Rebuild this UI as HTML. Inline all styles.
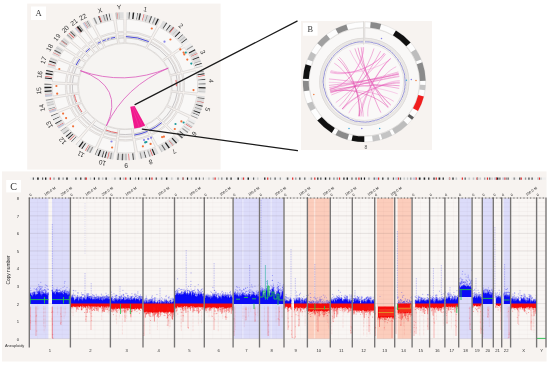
<!DOCTYPE html>
<html><head><meta charset="utf-8"><title>Figure</title>
<style>
html,body{margin:0;padding:0;background:#fff;}
body{width:550px;height:365px;overflow:hidden;position:relative;font-family:"Liberation Sans",sans-serif;}
svg{position:absolute;left:0;top:0;display:block;}
text{font-family:"Liberation Sans",sans-serif;}
.ser{font-family:"Liberation Serif",serif;}
</style></head><body>
<svg width="550" height="365" viewBox="0 0 550 365">
<rect x="0" y="0" width="550" height="365" fill="#ffffff"/>

<rect x="27.2" y="3.6" width="193.4" height="166" fill="#f7f3f0"/>
<rect x="301" y="21" width="131" height="129" fill="#f7f3f0"/>
<rect x="2" y="171.4" width="544.6" height="190.1" fill="#f7f3f0"/>
<g id="circA">
<rect x="31" y="6.5" width="15" height="13.5" fill="#ffffff"/>
<text x="38.6" y="16.3" font-size="8.6" text-anchor="middle" fill="#333" class="ser">A</text>
<path d="M126.27 19.31A72.8 66.9 0 0 1 157.05 26.13L151.28 36.94A59.7 54.86 0 0 0 126.04 31.34ZM159.31 27.19A72.8 66.9 0 0 1 182.86 45.6L172.45 52.9A59.7 54.86 0 0 0 153.14 37.81ZM184.37 47.48A72.8 66.9 0 0 1 195.18 68.42L182.55 71.62A59.7 54.86 0 0 0 173.68 54.44ZM195.81 70.68A72.8 66.9 0 0 1 197.42 93.02L184.39 91.8A59.7 54.86 0 0 0 183.07 73.48ZM197.12 95.34A72.8 66.9 0 0 1 190.38 115.62L178.62 110.33A59.7 54.86 0 0 0 184.14 93.7ZM189.23 117.7A72.8 66.9 0 0 1 176.18 133.78L166.97 125.22A59.7 54.86 0 0 0 177.67 112.03ZM174.34 135.39A72.8 66.9 0 0 1 157.63 146L151.76 135.24A59.7 54.86 0 0 0 165.46 126.54ZM155.34 147.02A72.8 66.9 0 0 1 137.49 152.11L135.24 140.25A59.7 54.86 0 0 0 149.88 136.07ZM134.98 152.47A72.8 66.9 0 0 1 116.94 152.69L118.39 140.73A59.7 54.86 0 0 0 133.18 140.55ZM114.42 152.39A72.8 66.9 0 0 1 97.72 148.23L102.63 137.07A59.7 54.86 0 0 0 116.33 140.48ZM95.38 147.31A72.8 66.9 0 0 1 80.56 139.19L88.56 129.66A59.7 54.86 0 0 0 100.71 136.32ZM78.58 137.74A72.8 66.9 0 0 1 66.77 126.36L77.25 119.13A59.7 54.86 0 0 0 86.93 128.46ZM65.28 124.47A72.8 66.9 0 0 1 58.13 112.64L70.16 107.88A59.7 54.86 0 0 0 76.03 117.58ZM57.16 110.48A72.8 66.9 0 0 1 53.41 98.35L66.29 96.16A59.7 54.86 0 0 0 69.37 106.11ZM52.99 96.04A72.8 66.9 0 0 1 52.24 84.02L65.33 84.41A59.7 54.86 0 0 0 65.95 94.27ZM52.37 81.69A72.8 66.9 0 0 1 54.06 71.17L66.83 73.88A59.7 54.86 0 0 0 65.44 82.5ZM54.67 68.91A72.8 66.9 0 0 1 58.07 59.88L70.11 64.62A59.7 54.86 0 0 0 67.33 72.02ZM59.11 57.75A72.8 66.9 0 0 1 63.97 49.73L74.95 56.29A59.7 54.86 0 0 0 70.97 62.87ZM65.39 47.79A72.8 66.9 0 0 1 70.05 42.31L79.94 50.21A59.7 54.86 0 0 0 76.12 54.7ZM71.75 40.58A72.8 66.9 0 0 1 77.57 35.45L86.1 44.58A59.7 54.86 0 0 0 81.33 48.79ZM79.52 33.96A72.8 66.9 0 0 1 84.49 30.61L91.78 40.61A59.7 54.86 0 0 0 87.71 43.36ZM86.63 29.35A72.8 66.9 0 0 1 92.36 26.4L98.23 37.16A59.7 54.86 0 0 0 93.53 39.58ZM94.65 25.39A72.8 66.9 0 0 1 113.63 20.12L115.67 32.01A59.7 54.86 0 0 0 100.11 36.33ZM116.14 19.79A72.8 66.9 0 0 1 123.73 19.31L123.96 31.34A59.7 54.86 0 0 0 117.74 31.74Z" fill="#f9f8f7" stroke="#d6d3d1" stroke-width="0.7"/>
<path d="M126.02 32.63A58.3 53.58 0 0 1 150.67 38.09L149.44 40.4A55.5 51 0 0 0 125.97 35.2ZM152.48 38.95A58.3 53.58 0 0 1 171.33 53.68L169.11 55.24A55.5 51 0 0 0 151.16 41.22ZM172.54 55.19A58.3 53.58 0 0 1 181.2 71.96L178.5 72.65A55.5 51 0 0 0 170.26 56.68ZM181.71 73.77A58.3 53.58 0 0 1 183 91.67L180.21 91.4A55.5 51 0 0 0 178.99 74.37ZM182.75 93.52A58.3 53.58 0 0 1 177.36 109.76L174.85 108.63A55.5 51 0 0 0 179.98 93.17ZM176.43 111.43A58.3 53.58 0 0 1 165.98 124.3L164.02 122.47A55.5 51 0 0 0 173.96 110.21ZM164.51 125.6A58.3 53.58 0 0 1 151.13 134.09L149.88 131.79A55.5 51 0 0 0 162.61 123.7ZM149.3 134.9A58.3 53.58 0 0 1 135 138.98L134.52 136.45A55.5 51 0 0 0 148.13 132.56ZM132.99 139.27A58.3 53.58 0 0 1 118.55 139.45L118.86 136.89A55.5 51 0 0 0 132.61 136.72ZM116.53 139.21A58.3 53.58 0 0 1 103.15 135.87L104.2 133.49A55.5 51 0 0 0 116.94 136.66ZM101.28 135.14A58.3 53.58 0 0 1 89.41 128.64L91.12 126.6A55.5 51 0 0 0 102.42 132.79ZM87.82 127.47A58.3 53.58 0 0 1 78.37 118.36L80.61 116.81A55.5 51 0 0 0 89.61 125.49ZM77.18 116.84A58.3 53.58 0 0 1 71.44 107.37L74.02 106.35A55.5 51 0 0 0 79.47 115.37ZM70.67 105.64A58.3 53.58 0 0 1 67.67 95.93L70.42 95.46A55.5 51 0 0 0 73.28 104.71ZM67.33 94.08A58.3 53.58 0 0 1 66.73 84.45L69.53 84.54A55.5 51 0 0 0 70.1 93.7ZM66.83 82.58A58.3 53.58 0 0 1 68.19 74.17L70.92 74.74A55.5 51 0 0 0 69.63 82.76ZM68.68 72.35A58.3 53.58 0 0 1 71.4 65.12L73.97 66.14A55.5 51 0 0 0 71.39 73.02ZM72.23 63.42A58.3 53.58 0 0 1 76.13 56.99L78.47 58.39A55.5 51 0 0 0 74.77 64.51ZM77.26 55.44A58.3 53.58 0 0 1 81 51.05L83.11 52.74A55.5 51 0 0 0 79.56 56.92ZM82.36 49.67A58.3 53.58 0 0 1 87.02 45.56L88.84 47.51A55.5 51 0 0 0 84.41 51.42ZM88.58 44.36A58.3 53.58 0 0 1 92.56 41.68L94.12 43.82A55.5 51 0 0 0 90.33 46.37ZM94.27 40.67A58.3 53.58 0 0 1 98.86 38.31L100.12 40.61A55.5 51 0 0 0 95.75 42.86ZM100.69 37.5A58.3 53.58 0 0 1 115.89 33.28L116.33 35.82A55.5 51 0 0 0 101.86 39.84ZM117.91 33.02A58.3 53.58 0 0 1 123.98 32.63L124.03 35.2A55.5 51 0 0 0 118.25 35.57Z" fill="#f7f6f5" stroke="#d2cfcd" stroke-width="0.7"/>
<path d="M125.95 36.03A54.6 50.18 0 0 1 149.04 41.15L145.78 47.25A47.2 43.38 0 0 0 125.82 42.83ZM150.74 41.95A54.6 50.18 0 0 1 168.39 55.75L162.51 59.87A47.2 43.38 0 0 0 147.25 47.94ZM169.52 57.16A54.6 50.18 0 0 1 177.64 72.87L170.5 74.67A47.2 43.38 0 0 0 163.49 61.09ZM178.11 74.56A54.6 50.18 0 0 1 179.32 91.32L171.95 90.62A47.2 43.38 0 0 0 170.91 76.14ZM179.09 93.06A54.6 50.18 0 0 1 174.04 108.27L167.39 105.27A47.2 43.38 0 0 0 171.76 92.13ZM173.17 109.82A54.6 50.18 0 0 1 163.38 121.89L158.18 117.05A47.2 43.38 0 0 0 166.64 106.62ZM162 123.1A54.6 50.18 0 0 1 149.48 131.05L146.16 124.97A47.2 43.38 0 0 0 156.99 118.09ZM147.76 131.81A54.6 50.18 0 0 1 134.37 135.63L133.1 128.93A47.2 43.38 0 0 0 144.67 125.63ZM132.48 135.9A54.6 50.18 0 0 1 118.96 136.07L119.78 129.31A47.2 43.38 0 0 0 131.47 129.17ZM117.07 135.84A54.6 50.18 0 0 1 104.54 132.72L107.31 126.42A47.2 43.38 0 0 0 118.14 129.12ZM102.78 132.04A54.6 50.18 0 0 1 91.67 125.95L96.19 120.56A47.2 43.38 0 0 0 105.79 125.82ZM90.18 124.85A54.6 50.18 0 0 1 81.33 116.32L87.25 112.24A47.2 43.38 0 0 0 94.9 119.61ZM80.21 114.9A54.6 50.18 0 0 1 74.84 106.03L81.64 103.34A47.2 43.38 0 0 0 86.28 111.01ZM74.12 104.41A54.6 50.18 0 0 1 71.31 95.31L78.58 94.08A47.2 43.38 0 0 0 81.02 101.94ZM70.99 93.58A54.6 50.18 0 0 1 70.43 84.56L77.83 84.79A47.2 43.38 0 0 0 78.31 92.58ZM70.52 82.81A54.6 50.18 0 0 1 71.8 74.93L79.01 76.46A47.2 43.38 0 0 0 77.91 83.27ZM72.26 73.23A54.6 50.18 0 0 1 74.8 66.46L81.61 69.14A47.2 43.38 0 0 0 79.4 74.99ZM75.58 64.86A54.6 50.18 0 0 1 79.23 58.84L85.43 62.55A47.2 43.38 0 0 0 82.28 67.76ZM80.29 57.39A54.6 50.18 0 0 1 83.79 53.29L89.37 57.75A47.2 43.38 0 0 0 86.35 61.3ZM85.06 51.98A54.6 50.18 0 0 1 89.43 48.13L94.25 53.29A47.2 43.38 0 0 0 90.48 56.62ZM90.89 47.02A54.6 50.18 0 0 1 94.62 44.51L98.74 50.16A47.2 43.38 0 0 0 95.52 52.33ZM96.22 43.56A54.6 50.18 0 0 1 100.52 41.35L103.84 47.43A47.2 43.38 0 0 0 100.12 49.34ZM102.24 40.59A54.6 50.18 0 0 1 116.47 36.64L117.63 43.36A47.2 43.38 0 0 0 105.32 46.77ZM118.36 36.4A54.6 50.18 0 0 1 124.05 36.03L124.18 42.83A47.2 43.38 0 0 0 119.26 43.15Z" fill="#f6f5f4" stroke="#d2cfcd" stroke-width="0.7"/>
<path d="M126.19 37.87A52.6 48.34 0 0 1 147.91 42.69M150.04 43.69A52.6 48.34 0 0 1 166.64 56.66M168.05 58.43A52.6 48.34 0 0 1 175.63 73.11M176.23 75.23A52.6 48.34 0 0 1 177.35 90.88M177.07 93.06A52.6 48.34 0 0 1 172.36 107.23M171.27 109.18A52.6 48.34 0 0 1 162.17 120.4M160.45 121.91A52.6 48.34 0 0 1 148.82 129.3M146.67 130.25A52.6 48.34 0 0 1 134.29 133.78M131.94 134.12A52.6 48.34 0 0 1 119.45 134.27M117.09 133.99A52.6 48.34 0 0 1 105.54 131.11M103.34 130.25A52.6 48.34 0 0 1 93.11 124.64M91.25 123.27A52.6 48.34 0 0 1 83.1 115.42M81.7 113.64A52.6 48.34 0 0 1 76.79 105.53M75.89 103.5A52.6 48.34 0 0 1 73.33 95.23M72.93 93.06A52.6 48.34 0 0 1 72.42 84.88M72.54 82.69A52.6 48.34 0 0 1 73.68 75.59M74.26 73.46A52.6 48.34 0 0 1 76.53 67.42M77.51 65.42A52.6 48.34 0 0 1 80.75 60.06M82.09 58.24A52.6 48.34 0 0 1 85.12 54.68M86.71 53.05A52.6 48.34 0 0 1 90.52 49.69M92.36 48.29A52.6 48.34 0 0 1 95.5 46.18M97.51 44.99A52.6 48.34 0 0 1 101.17 43.11M103.32 42.16A52.6 48.34 0 0 1 116.51 38.49M118.88 38.19A52.6 48.34 0 0 1 123.81 37.87" fill="none" stroke="#a8a4a8" stroke-width="0.6"/>
<ellipse cx="125" cy="86.2" rx="46.6" ry="42.83" fill="#f6f4f2" stroke="#dcd9d7" stroke-width="0.8"/>
<path d="M125.94 36.58A54 49.63 0 0 1 148.77 41.64M161.6 122.69A54 49.63 0 0 1 149.21 130.56M147.51 131.31A54 49.63 0 0 1 134.26 135.09M76.13 65.1A54 49.63 0 0 1 79.73 59.15M85.91 51.96A54 49.63 0 0 1 89.82 48.55M97.79 43.34A54 49.63 0 0 1 100.79 41.84M102.49 41.09A54 49.63 0 0 1 105.89 39.79M107.28 39.32A54 49.63 0 0 1 109.38 38.7M110.8 38.32A54 49.63 0 0 1 115.11 37.41" fill="none" stroke="#3a3ad8" stroke-width="0.9"/>
<path d="M117.53 132.94A51.4 47.24 0 0 1 105.74 129.99M81.96 112.03A51.4 47.24 0 0 1 77.78 104.87M76.59 102.09A51.4 47.24 0 0 1 74.45 94.78M175.94 79.93A51.4 47.24 0 0 1 176.4 86.26" fill="none" stroke="#e05a5a" stroke-width="0.9"/>
<path d="M126.41 12.14A80.6 74.07 0 0 1 129 12.22L128.65 18.74A73.5 67.55 0 0 0 126.28 18.66ZM137.86 13.08A80.6 74.07 0 0 1 139.76 13.38L138.46 19.8A73.5 67.55 0 0 0 136.72 19.52ZM144.16 14.25A80.6 74.07 0 0 1 147.01 14.94L145.07 21.22A73.5 67.55 0 0 0 142.47 20.59ZM147.68 15.12A80.6 74.07 0 0 1 151.01 16.09L148.72 22.27A73.5 67.55 0 0 0 145.68 21.38ZM155.64 17.69A80.6 74.07 0 0 1 157.72 18.51L154.84 24.47A73.5 67.55 0 0 0 152.94 23.73ZM158.81 18.96A80.6 74.07 0 0 1 160.49 19.69L157.36 25.55A73.5 67.55 0 0 0 155.83 24.88ZM162.99 20.87A80.6 74.07 0 0 1 166.26 22.57L162.62 28.17A73.5 67.55 0 0 0 159.64 26.63ZM170.59 25.12A80.6 74.07 0 0 1 173.24 26.86L168.99 32.09A73.5 67.55 0 0 0 166.57 30.5ZM173.82 27.27A80.6 74.07 0 0 1 173.98 27.38L169.67 32.56A73.5 67.55 0 0 0 169.52 32.46ZM174.26 27.57A80.6 74.07 0 0 1 176.93 29.55L172.36 34.54A73.5 67.55 0 0 0 169.92 32.74ZM177.56 30.04A80.6 74.07 0 0 1 179.52 31.65L174.72 36.45A73.5 67.55 0 0 0 172.93 34.99ZM183.02 34.79A80.6 74.07 0 0 1 184.62 36.35L179.37 40.75A73.5 67.55 0 0 0 177.91 39.32ZM185.48 37.23A80.6 74.07 0 0 1 186.72 38.57L181.29 42.76A73.5 67.55 0 0 0 180.15 41.55ZM195.43 50.18A80.6 74.07 0 0 1 196.32 51.7L190.04 54.74A73.5 67.55 0 0 0 189.22 53.35ZM197.42 53.68A80.6 74.07 0 0 1 198.98 56.81L192.47 59.4A73.5 67.55 0 0 0 191.04 56.54ZM199.3 57.5A80.6 74.07 0 0 1 200.68 60.71L194.01 62.95A73.5 67.55 0 0 0 192.76 60.03ZM203.94 71.24A80.6 74.07 0 0 1 204.39 73.42L197.4 74.55A73.5 67.55 0 0 0 196.99 72.56ZM205.56 88.39A80.6 74.07 0 0 1 205.39 91.61L198.3 91.13A73.5 67.55 0 0 0 198.47 88.2ZM204.84 96.32A80.6 74.07 0 0 1 204.52 98.26L197.52 97.2A73.5 67.55 0 0 0 197.81 95.43ZM204.38 99.04A80.6 74.07 0 0 1 203.69 102.24L196.75 100.83A73.5 67.55 0 0 0 197.39 97.91ZM203.57 102.72A80.6 74.07 0 0 1 202.69 105.93L195.84 104.19A73.5 67.55 0 0 0 196.65 101.26ZM202.49 106.59A80.6 74.07 0 0 1 201.66 109.07L194.91 107.05A73.5 67.55 0 0 0 195.66 104.79ZM201.39 109.83A80.6 74.07 0 0 1 200.3 112.62L193.67 110.29A73.5 67.55 0 0 0 194.66 107.75ZM199.98 113.36A80.6 74.07 0 0 1 199.17 115.2L192.63 112.65A73.5 67.55 0 0 0 193.38 110.97ZM191.97 127.41A80.6 74.07 0 0 1 191.71 127.76L185.84 124.1A73.5 67.55 0 0 0 186.07 123.78ZM184.61 136.05A80.6 74.07 0 0 1 182.99 137.65L177.88 133.11A73.5 67.55 0 0 0 179.36 131.66ZM182 138.57A80.6 74.07 0 0 1 181.66 138.88L176.67 134.24A73.5 67.55 0 0 0 176.98 133.95ZM179.63 140.66A80.6 74.07 0 0 1 177.03 142.77L172.44 137.79A73.5 67.55 0 0 0 174.81 135.87ZM176.13 143.46A80.6 74.07 0 0 1 174.22 144.85L169.89 139.69A73.5 67.55 0 0 0 171.62 138.42ZM173.3 145.5A80.6 74.07 0 0 1 173.2 145.56L168.96 140.33A73.5 67.55 0 0 0 169.05 140.27ZM172.92 145.76A80.6 74.07 0 0 1 169.86 147.74L165.91 142.32A73.5 67.55 0 0 0 168.7 140.51ZM168.81 148.37A80.6 74.07 0 0 1 165.73 150.12L162.14 144.49A73.5 67.55 0 0 0 164.95 142.9ZM164.85 150.58A80.6 74.07 0 0 1 162.41 151.81L159.12 146.03A73.5 67.55 0 0 0 161.34 144.91ZM158.59 153.53A80.6 74.07 0 0 1 155.23 154.87L152.56 148.82A73.5 67.55 0 0 0 155.63 147.6ZM154.24 155.23A80.6 74.07 0 0 1 152.75 155.74L150.3 149.62A73.5 67.55 0 0 0 151.66 149.14ZM152.41 155.86A80.6 74.07 0 0 1 150.36 156.51L148.13 150.32A73.5 67.55 0 0 0 150 149.72ZM145.47 157.84A80.6 74.07 0 0 1 142.01 158.6L140.51 152.23A73.5 67.55 0 0 0 143.67 151.53ZM136.05 159.57A80.6 74.07 0 0 1 134.01 159.81L133.22 153.32A73.5 67.55 0 0 0 135.07 153.11ZM125.66 160.27A80.6 74.07 0 0 1 122.97 160.25L123.15 153.73A73.5 67.55 0 0 0 125.6 153.74ZM121.73 160.21A80.6 74.07 0 0 1 118.36 160.02L118.94 153.52A73.5 67.55 0 0 0 122.02 153.69ZM117.34 159.94A80.6 74.07 0 0 1 116.08 159.82L116.87 153.33A73.5 67.55 0 0 0 118.01 153.44ZM113.29 159.49A80.6 74.07 0 0 1 110.88 159.13L112.12 152.7A73.5 67.55 0 0 0 114.32 153.03ZM109.69 158.92A80.6 74.07 0 0 1 107.82 158.57L109.34 152.19A73.5 67.55 0 0 0 111.04 152.52ZM107.48 158.5A80.6 74.07 0 0 1 105.23 158.01L106.97 151.68A73.5 67.55 0 0 0 109.02 152.13ZM101.65 157.09A80.6 74.07 0 0 1 98.78 156.24L101.09 150.07A73.5 67.55 0 0 0 103.7 150.85ZM97.67 155.88A80.6 74.07 0 0 1 95.24 155.04L97.86 148.97A73.5 67.55 0 0 0 100.07 149.74ZM89.08 152.51A80.6 74.07 0 0 1 87.41 151.72L90.72 145.95A73.5 67.55 0 0 0 92.25 146.67ZM81.39 148.49A80.6 74.07 0 0 1 79.58 147.39L83.58 142A73.5 67.55 0 0 0 85.23 143ZM69.64 140.04A80.6 74.07 0 0 1 68.34 138.88L73.33 134.24A73.5 67.55 0 0 0 74.52 135.3ZM67.81 138.39A80.6 74.07 0 0 1 66.38 137.04L71.55 132.56A73.5 67.55 0 0 0 72.85 133.8ZM63.06 133.6A80.6 74.07 0 0 1 60.75 130.92L66.41 126.98A73.5 67.55 0 0 0 68.52 129.42ZM57.35 126.47A80.6 74.07 0 0 1 55.6 123.87L61.71 120.55A73.5 67.55 0 0 0 63.31 122.92ZM48.95 110.74A80.6 74.07 0 0 1 48.42 109.3L55.16 107.26A73.5 67.55 0 0 0 55.65 108.58ZM47.13 105.31A80.6 74.07 0 0 1 46.62 103.45L53.52 101.93A73.5 67.55 0 0 0 53.99 103.63ZM44.9 94.45A80.6 74.07 0 0 1 44.65 92.04L51.73 91.53A73.5 67.55 0 0 0 51.96 93.72ZM44.55 90.72A80.6 74.07 0 0 1 44.43 88.09L51.52 87.93A73.5 67.55 0 0 0 51.64 90.32ZM45.72 72.87A80.6 74.07 0 0 1 46.14 70.88L53.09 72.23A73.5 67.55 0 0 0 52.7 74.04ZM46.32 70.15A80.6 74.07 0 0 1 46.46 69.56L53.38 71.03A73.5 67.55 0 0 0 53.25 71.56ZM47.14 67.05A80.6 74.07 0 0 1 47.94 64.48L54.73 66.39A73.5 67.55 0 0 0 54 68.74ZM48.15 63.86A80.6 74.07 0 0 1 49.02 61.49L55.71 63.66A73.5 67.55 0 0 0 54.92 65.83ZM49.39 60.54A80.6 74.07 0 0 1 50.07 58.91L56.67 61.32A73.5 67.55 0 0 0 56.05 62.8ZM50.53 57.87A80.6 74.07 0 0 1 50.9 57.06L57.43 59.63A73.5 67.55 0 0 0 57.09 60.36ZM52.05 54.7A80.6 74.07 0 0 1 53.06 52.81L59.39 55.75A73.5 67.55 0 0 0 58.48 57.48ZM53.22 52.52A80.6 74.07 0 0 1 54.24 50.73L60.48 53.85A73.5 67.55 0 0 0 59.54 55.48ZM54.76 49.88A80.6 74.07 0 0 1 56.04 47.85L62.12 51.23A73.5 67.55 0 0 0 60.95 53.07ZM56.61 47A80.6 74.07 0 0 1 57.43 45.82L63.38 49.38A73.5 67.55 0 0 0 62.64 50.45ZM59.83 42.62A80.6 74.07 0 0 1 61.1 41.05L66.73 45.03A73.5 67.55 0 0 0 65.57 46.46ZM61.98 40.02A80.6 74.07 0 0 1 62.92 38.96L68.38 43.12A73.5 67.55 0 0 0 67.53 44.09ZM63.33 38.51A80.6 74.07 0 0 1 64.16 37.61L69.52 41.89A73.5 67.55 0 0 0 68.76 42.71ZM66.05 35.69A80.6 74.07 0 0 1 66.87 34.89L71.99 39.41A73.5 67.55 0 0 0 71.24 40.14ZM67.42 34.37A80.6 74.07 0 0 1 68.62 33.27L73.59 37.93A73.5 67.55 0 0 0 72.49 38.94ZM68.98 32.95A80.6 74.07 0 0 1 70.11 31.96L74.94 36.74A73.5 67.55 0 0 0 73.91 37.64ZM70.89 31.3A80.6 74.07 0 0 1 71.68 30.65L76.38 35.54A73.5 67.55 0 0 0 75.66 36.14ZM72.16 30.26A80.6 74.07 0 0 1 72.49 30.01L77.11 34.96A73.5 67.55 0 0 0 76.82 35.19ZM76.3 27.18A80.6 74.07 0 0 1 76.73 26.88L80.98 32.11A73.5 67.55 0 0 0 80.59 32.38ZM78.04 26A80.6 74.07 0 0 1 78.79 25.51L82.86 30.86A73.5 67.55 0 0 0 82.18 31.3ZM79.2 25.25A80.6 74.07 0 0 1 80.15 24.65L84.1 30.08A73.5 67.55 0 0 0 83.24 30.62ZM84.48 22.17A80.6 74.07 0 0 1 85.51 21.63L88.98 27.32A73.5 67.55 0 0 0 88.05 27.81ZM85.82 21.47A80.6 74.07 0 0 1 86.87 20.94L90.23 26.69A73.5 67.55 0 0 0 89.27 27.17ZM87.19 20.79A80.6 74.07 0 0 1 88.86 19.99L92.04 25.82A73.5 67.55 0 0 0 90.52 26.55ZM99.07 16.07A80.6 74.07 0 0 1 99.25 16.01L101.52 22.19A73.5 67.55 0 0 0 101.36 22.24ZM99.59 15.91A80.6 74.07 0 0 1 102.83 14.99L104.79 21.26A73.5 67.55 0 0 0 101.82 22.1ZM103.89 14.71A80.6 74.07 0 0 1 105.73 14.28L107.43 20.61A73.5 67.55 0 0 0 105.75 21.01ZM117.1 12.49A80.6 74.07 0 0 1 118.37 12.38L118.95 18.88A73.5 67.55 0 0 0 117.79 18.98ZM119.43 12.31A80.6 74.07 0 0 1 123.59 12.14L123.72 18.66A73.5 67.55 0 0 0 119.92 18.82Z" fill="#dedede"/>
<path d="M128.93 12.22A80.6 74.07 0 0 1 130.09 12.28L129.64 18.79A73.5 67.55 0 0 0 128.58 18.73ZM137.08 12.96A80.6 74.07 0 0 1 137.93 13.09L136.79 19.53A73.5 67.55 0 0 0 136.01 19.42ZM150.95 16.07A80.6 74.07 0 0 1 152.31 16.51L149.9 22.65A73.5 67.55 0 0 0 148.66 22.25ZM166.2 22.53A80.6 74.07 0 0 1 167.38 23.19L163.64 28.74A73.5 67.55 0 0 0 162.57 28.14ZM173.18 26.82A80.6 74.07 0 0 1 173.88 27.3L169.57 32.49A73.5 67.55 0 0 0 168.94 32.05ZM182.33 34.13A80.6 74.07 0 0 1 183.07 34.83L177.96 39.36A73.5 67.55 0 0 0 177.28 38.72ZM203.79 70.59A80.6 74.07 0 0 1 203.95 71.3L197 72.61A73.5 67.55 0 0 0 196.85 71.97ZM205.19 78.76A80.6 74.07 0 0 1 205.31 79.97L198.24 80.52A73.5 67.55 0 0 0 198.13 79.42ZM204.54 98.2A80.6 74.07 0 0 1 204.37 99.1L197.38 97.97A73.5 67.55 0 0 0 197.53 97.14ZM199.19 115.14A80.6 74.07 0 0 1 198.83 115.92L192.32 113.31A73.5 67.55 0 0 0 192.66 112.59ZM185.54 135.1A80.6 74.07 0 0 1 184.57 136.1L179.32 131.7A73.5 67.55 0 0 0 180.2 130.8ZM183.04 137.6A80.6 74.07 0 0 1 181.95 138.61L176.94 134A73.5 67.55 0 0 0 177.92 133.07ZM165.79 150.09A80.6 74.07 0 0 1 164.79 150.62L161.29 144.94A73.5 67.55 0 0 0 162.2 144.46ZM146.58 157.57A80.6 74.07 0 0 1 145.4 157.86L143.6 151.55A73.5 67.55 0 0 0 144.68 151.28ZM134.08 159.8A80.6 74.07 0 0 1 132.62 159.94L131.95 153.44A73.5 67.55 0 0 0 133.28 153.32ZM123.04 160.25A80.6 74.07 0 0 1 121.66 160.21L121.95 153.69A73.5 67.55 0 0 0 123.21 153.73ZM118.43 160.02A80.6 74.07 0 0 1 117.27 159.93L117.95 153.44A73.5 67.55 0 0 0 119.01 153.52ZM102.79 157.4A80.6 74.07 0 0 1 101.58 157.08L103.64 150.83A73.5 67.55 0 0 0 104.75 151.13ZM95.3 155.06A80.6 74.07 0 0 1 94.79 154.87L97.45 148.82A73.5 67.55 0 0 0 97.92 148.99ZM76.04 145.04A80.6 74.07 0 0 1 75.8 144.87L80.14 139.7A73.5 67.55 0 0 0 80.36 139.86ZM71.86 141.89A80.6 74.07 0 0 1 71.03 141.21L75.78 136.36A73.5 67.55 0 0 0 76.54 136.98ZM60.79 130.97A80.6 74.07 0 0 1 60.53 130.66L66.21 126.74A73.5 67.55 0 0 0 66.45 127.03ZM53.44 120.28A80.6 74.07 0 0 1 52.88 119.27L59.23 116.35A73.5 67.55 0 0 0 59.74 117.28ZM51.39 116.38A80.6 74.07 0 0 1 50.96 115.47L57.48 112.89A73.5 67.55 0 0 0 57.88 113.72ZM48.44 109.36A80.6 74.07 0 0 1 48.19 108.65L54.96 106.67A73.5 67.55 0 0 0 55.18 107.32ZM54.21 50.78A80.6 74.07 0 0 1 54.79 49.82L60.98 53.02A73.5 67.55 0 0 0 60.45 53.9ZM70.06 32.01A80.6 74.07 0 0 1 70.94 31.26L75.71 36.1A73.5 67.55 0 0 0 74.9 36.78ZM78.74 25.55A80.6 74.07 0 0 1 79.26 25.21L83.29 30.58A73.5 67.55 0 0 0 82.81 30.89ZM86.81 20.97A80.6 74.07 0 0 1 87.25 20.76L90.57 26.52A73.5 67.55 0 0 0 90.17 26.72ZM97.82 16.47A80.6 74.07 0 0 1 99.14 16.04L101.42 22.22A73.5 67.55 0 0 0 100.21 22.61ZM105.66 14.29A80.6 74.07 0 0 1 106.94 14.01L108.53 20.37A73.5 67.55 0 0 0 107.37 20.63ZM108.43 13.71A80.6 74.07 0 0 1 109.67 13.48L111.02 19.89A73.5 67.55 0 0 0 109.89 20.1Z" fill="#5c5c5c"/>
<path d="M130.02 12.27A80.6 74.07 0 0 1 132.89 12.48L132.19 18.98A73.5 67.55 0 0 0 129.58 18.78ZM134.2 12.61A80.6 74.07 0 0 1 137.15 12.97L136.08 19.42A73.5 67.55 0 0 0 133.39 19.1ZM140.88 13.58A80.6 74.07 0 0 1 143.81 14.17L142.15 20.52A73.5 67.55 0 0 0 139.48 19.98ZM152.24 16.49A80.6 74.07 0 0 1 154.64 17.32L152.03 23.39A73.5 67.55 0 0 0 149.84 22.63ZM167.32 23.16A80.6 74.07 0 0 1 170.04 24.77L166.07 30.18A73.5 67.55 0 0 0 163.59 28.71ZM180.25 32.27A80.6 74.07 0 0 1 182.38 34.18L177.32 38.76A73.5 67.55 0 0 0 175.39 37.02ZM187.14 39.03A80.6 74.07 0 0 1 189.06 41.24L183.42 45.2A73.5 67.55 0 0 0 181.67 43.18ZM190.73 43.33A80.6 74.07 0 0 1 192.46 45.67L186.52 49.24A73.5 67.55 0 0 0 184.94 47.1ZM193.01 46.45A80.6 74.07 0 0 1 194.94 49.38L188.78 52.63A73.5 67.55 0 0 0 187.02 49.95ZM197 52.91A80.6 74.07 0 0 1 197.26 53.39L190.89 56.28A73.5 67.55 0 0 0 190.66 55.84ZM200.91 61.29A80.6 74.07 0 0 1 201.58 63.1L194.83 65.14A73.5 67.55 0 0 0 194.22 63.48ZM201.78 63.67A80.6 74.07 0 0 1 202.46 65.71L195.63 67.52A73.5 67.55 0 0 0 195.02 65.65ZM203.4 69.02A80.6 74.07 0 0 1 203.8 70.65L196.86 72.02A73.5 67.55 0 0 0 196.5 70.53ZM204.52 74.1A80.6 74.07 0 0 1 204.73 75.34L197.71 76.3A73.5 67.55 0 0 0 197.51 75.17ZM204.78 75.66A80.6 74.07 0 0 1 205.2 78.83L198.14 79.48A73.5 67.55 0 0 0 197.75 76.59ZM205.31 79.9A80.6 74.07 0 0 1 205.53 83.17L198.44 83.44A73.5 67.55 0 0 0 198.23 80.46ZM205.57 84.32A80.6 74.07 0 0 1 205.59 87.26L198.49 87.17A73.5 67.55 0 0 0 198.48 84.49ZM205.31 92.52A80.6 74.07 0 0 1 205.18 93.76L198.12 93.09A73.5 67.55 0 0 0 198.23 91.96ZM198.85 115.87A80.6 74.07 0 0 1 197.71 118.17L191.3 115.35A73.5 67.55 0 0 0 192.35 113.25ZM197.39 118.76A80.6 74.07 0 0 1 197.39 118.77L191.01 115.9A73.5 67.55 0 0 0 191.02 115.9ZM196.11 121.07A80.6 74.07 0 0 1 194.63 123.5L188.5 120.22A73.5 67.55 0 0 0 189.84 118ZM194.05 124.4A80.6 74.07 0 0 1 192.65 126.46L186.69 122.92A73.5 67.55 0 0 0 187.97 121.04ZM191.51 128.03A80.6 74.07 0 0 1 189.98 130.02L184.26 126.16A73.5 67.55 0 0 0 185.66 124.35ZM189.44 130.7A80.6 74.07 0 0 1 188.35 132L182.77 127.97A73.5 67.55 0 0 0 183.76 126.78ZM187.56 132.91A80.6 74.07 0 0 1 185.49 135.15L180.16 130.84A73.5 67.55 0 0 0 182.04 128.79ZM161.61 152.19A80.6 74.07 0 0 1 161.13 152.41L157.95 146.58A73.5 67.55 0 0 0 158.39 146.38ZM149.46 156.78A80.6 74.07 0 0 1 146.51 157.58L144.62 151.3A73.5 67.55 0 0 0 147.3 150.56ZM140.97 158.8A80.6 74.07 0 0 1 138.83 159.17L137.61 152.75A73.5 67.55 0 0 0 139.56 152.41ZM132.69 159.93A80.6 74.07 0 0 1 129.27 160.17L128.9 153.65A73.5 67.55 0 0 0 132.02 153.44ZM128.92 160.18A80.6 74.07 0 0 1 126.47 160.26L126.34 153.74A73.5 67.55 0 0 0 128.57 153.67ZM104.38 157.81A80.6 74.07 0 0 1 102.72 157.39L104.69 151.12A73.5 67.55 0 0 0 106.2 151.5ZM92.2 153.86A80.6 74.07 0 0 1 90.26 153.04L93.32 147.15A73.5 67.55 0 0 0 95.09 147.9ZM86.38 151.21A80.6 74.07 0 0 1 85.53 150.78L89.01 145.09A73.5 67.55 0 0 0 89.78 145.49ZM85.22 150.62A80.6 74.07 0 0 1 82.07 148.89L85.85 143.37A73.5 67.55 0 0 0 88.72 144.95ZM78.52 146.72A80.6 74.07 0 0 1 75.99 145L80.31 139.82A73.5 67.55 0 0 0 82.62 141.39ZM73.6 143.26A80.6 74.07 0 0 1 71.8 141.85L76.49 136.95A73.5 67.55 0 0 0 78.13 138.23ZM71.08 141.25A80.6 74.07 0 0 1 69.9 140.26L74.76 135.5A73.5 67.55 0 0 0 75.83 136.4ZM65.73 136.4A80.6 74.07 0 0 1 63.73 134.32L69.12 130.08A73.5 67.55 0 0 0 70.95 131.97ZM55.19 123.22A80.6 74.07 0 0 1 53.4 120.22L59.71 117.22A73.5 67.55 0 0 0 61.34 119.96ZM52.91 119.32A80.6 74.07 0 0 1 51.37 116.32L57.85 113.67A73.5 67.55 0 0 0 59.26 116.41ZM48.21 108.71A80.6 74.07 0 0 1 47.41 106.25L54.24 104.48A73.5 67.55 0 0 0 54.98 106.73ZM46.39 102.55A80.6 74.07 0 0 1 45.97 100.75L52.93 99.47A73.5 67.55 0 0 0 53.31 101.11ZM44.4 86.92A80.6 74.07 0 0 1 44.42 84.39L51.52 84.55A73.5 67.55 0 0 0 51.5 86.85ZM44.58 81.2A80.6 74.07 0 0 1 44.84 78.47L51.9 79.15A73.5 67.55 0 0 0 51.67 81.64ZM44.94 77.64A80.6 74.07 0 0 1 45.08 76.59L52.12 77.43A73.5 67.55 0 0 0 51.99 78.39ZM45.13 76.26A80.6 74.07 0 0 1 45.47 74.19L52.47 75.25A73.5 67.55 0 0 0 52.16 77.14ZM91.4 18.87A80.6 74.07 0 0 1 93.31 18.09L96.1 24.09A73.5 67.55 0 0 0 94.36 24.8ZM94.6 17.6A80.6 74.07 0 0 1 97.89 16.45L100.27 22.59A73.5 67.55 0 0 0 97.28 23.64ZM106.87 14.03A80.6 74.07 0 0 1 108.5 13.7L109.95 20.08A73.5 67.55 0 0 0 108.47 20.38ZM109.6 13.49A80.6 74.07 0 0 1 112.41 13.04L113.52 19.48A73.5 67.55 0 0 0 110.96 19.9Z" fill="#ededed"/>
<path d="M132.82 12.48A80.6 74.07 0 0 1 134.27 12.62L133.46 19.1A73.5 67.55 0 0 0 132.13 18.97ZM139.69 13.37A80.6 74.07 0 0 1 140.95 13.59L139.55 19.99A73.5 67.55 0 0 0 138.4 19.78ZM157.65 18.48A80.6 74.07 0 0 1 158.88 18.99L155.89 24.91A73.5 67.55 0 0 0 154.78 24.44ZM169.98 24.74A80.6 74.07 0 0 1 170.65 25.15L166.63 30.53A73.5 67.55 0 0 0 166.02 30.15ZM179.47 31.6A80.6 74.07 0 0 1 180.3 32.32L175.43 37.06A73.5 67.55 0 0 0 174.67 36.41ZM186.68 38.52A80.6 74.07 0 0 1 187.18 39.08L181.71 43.23A73.5 67.55 0 0 0 181.25 42.72ZM194.9 49.33A80.6 74.07 0 0 1 195.46 50.24L189.26 53.4A73.5 67.55 0 0 0 188.75 52.58ZM198.96 56.75A80.6 74.07 0 0 1 199.33 57.56L192.78 60.08A73.5 67.55 0 0 0 192.44 59.35ZM201.56 63.04A80.6 74.07 0 0 1 201.8 63.73L195.04 65.71A73.5 67.55 0 0 0 194.81 65.08ZM204.38 73.36A80.6 74.07 0 0 1 204.53 74.16L197.52 75.22A73.5 67.55 0 0 0 197.39 74.49ZM205.59 87.2A80.6 74.07 0 0 1 205.56 88.45L198.47 88.25A73.5 67.55 0 0 0 198.49 87.11ZM202.71 105.87A80.6 74.07 0 0 1 202.47 106.65L195.64 104.85A73.5 67.55 0 0 0 195.86 104.13ZM200.32 112.56A80.6 74.07 0 0 1 199.96 113.42L193.36 111.03A73.5 67.55 0 0 0 193.69 110.24ZM177.08 142.73A80.6 74.07 0 0 1 176.07 143.5L171.58 138.45A73.5 67.55 0 0 0 172.49 137.75ZM169.92 147.7A80.6 74.07 0 0 1 168.75 148.41L164.9 142.93A73.5 67.55 0 0 0 165.96 142.28ZM155.29 154.84A80.6 74.07 0 0 1 154.18 155.25L151.61 149.17A73.5 67.55 0 0 0 152.62 148.79ZM105.3 158.02A80.6 74.07 0 0 1 104.31 157.79L106.13 151.48A73.5 67.55 0 0 0 107.03 151.7ZM98.85 156.26A80.6 74.07 0 0 1 97.6 155.86L100.01 149.72A73.5 67.55 0 0 0 101.15 150.09ZM82.13 148.93A80.6 74.07 0 0 1 81.33 148.46L85.18 142.97A73.5 67.55 0 0 0 85.91 143.4ZM79.63 147.42A80.6 74.07 0 0 1 78.47 146.68L82.57 141.35A73.5 67.55 0 0 0 83.63 142.03ZM68.39 138.92A80.6 74.07 0 0 1 67.76 138.35L72.8 133.75A73.5 67.55 0 0 0 73.38 134.28ZM66.43 137.09A80.6 74.07 0 0 1 65.68 136.35L70.91 131.93A73.5 67.55 0 0 0 71.59 132.6ZM55.64 123.92A80.6 74.07 0 0 1 55.15 123.16L61.3 119.9A73.5 67.55 0 0 0 61.75 120.6ZM44.66 92.11A80.6 74.07 0 0 1 44.55 90.66L51.63 90.26A73.5 67.55 0 0 0 51.73 91.59ZM44.43 88.16A80.6 74.07 0 0 1 44.4 86.85L51.5 86.79A73.5 67.55 0 0 0 51.53 87.99ZM44.42 84.45A80.6 74.07 0 0 1 44.44 83.78L51.54 84A73.5 67.55 0 0 0 51.52 84.61ZM44.83 78.53A80.6 74.07 0 0 1 44.95 77.58L52 78.34A73.5 67.55 0 0 0 51.9 79.21ZM45.45 74.26A80.6 74.07 0 0 1 45.73 72.81L52.71 73.99A73.5 67.55 0 0 0 52.46 75.31ZM46.13 70.94A80.6 74.07 0 0 1 46.33 70.09L53.26 71.51A73.5 67.55 0 0 0 53.08 72.28ZM48.99 61.55A80.6 74.07 0 0 1 49.42 60.47L56.08 62.74A73.5 67.55 0 0 0 55.69 63.72ZM76.67 26.92A80.6 74.07 0 0 1 78.1 25.96L82.23 31.27A73.5 67.55 0 0 0 80.93 32.14Z" fill="#202020"/>
<path d="M143.74 14.16A80.6 74.07 0 0 1 144.23 14.27L142.53 20.6A73.5 67.55 0 0 0 142.09 20.51ZM173.93 27.34A80.6 74.07 0 0 1 174.32 27.61L169.97 32.77A73.5 67.55 0 0 0 169.62 32.52ZM197.23 53.33A80.6 74.07 0 0 1 197.45 53.74L191.06 56.6A73.5 67.55 0 0 0 190.87 56.22ZM204.72 75.27A80.6 74.07 0 0 1 204.79 75.73L197.76 76.65A73.5 67.55 0 0 0 197.7 76.24ZM203.66 102.34A80.6 74.07 0 0 1 203.55 102.78L196.64 101.32A73.5 67.55 0 0 0 196.73 100.91ZM191.75 127.71A80.6 74.07 0 0 1 191.47 128.09L185.62 124.4A73.5 67.55 0 0 0 185.87 124.05ZM173.26 145.53A80.6 74.07 0 0 1 172.86 145.8L168.65 140.55A73.5 67.55 0 0 0 169.01 140.3ZM152.81 155.72A80.6 74.07 0 0 1 152.35 155.88L149.94 149.74A73.5 67.55 0 0 0 150.36 149.6ZM129.34 160.16A80.6 74.07 0 0 1 128.85 160.19L128.51 153.67A73.5 67.55 0 0 0 128.96 153.65ZM107.89 158.58A80.6 74.07 0 0 1 107.41 158.49L108.96 152.12A73.5 67.55 0 0 0 109.4 152.21ZM85.59 150.81A80.6 74.07 0 0 1 85.16 150.59L88.67 144.92A73.5 67.55 0 0 0 89.06 145.12ZM69.95 140.31A80.6 74.07 0 0 1 69.59 139.99L74.47 135.26A73.5 67.55 0 0 0 74.8 135.54ZM57.58 126.8A80.6 74.07 0 0 1 57.31 126.41L63.28 122.87A73.5 67.55 0 0 0 63.52 123.22ZM49.1 111.11A80.6 74.07 0 0 1 48.93 110.68L55.63 108.53A73.5 67.55 0 0 0 55.78 108.92ZM44.95 94.84A80.6 74.07 0 0 1 44.89 94.39L51.95 93.67A73.5 67.55 0 0 0 52 94.08ZM45.07 76.65A80.6 74.07 0 0 1 45.14 76.2L52.17 77.08A73.5 67.55 0 0 0 52.11 77.49ZM48.02 64.24A80.6 74.07 0 0 1 48.17 63.8L54.94 65.78A73.5 67.55 0 0 0 54.81 66.17ZM53.02 52.86A80.6 74.07 0 0 1 53.25 52.46L59.57 55.43A73.5 67.55 0 0 0 59.36 55.8ZM61.06 41.1A80.6 74.07 0 0 1 61.45 40.64L67.05 44.65A73.5 67.55 0 0 0 66.69 45.08ZM68.57 33.31A80.6 74.07 0 0 1 69.03 32.9L73.96 37.6A73.5 67.55 0 0 0 73.54 37.97ZM75.96 27.42A80.6 74.07 0 0 1 76.35 27.14L80.64 32.34A73.5 67.55 0 0 0 80.28 32.6ZM84.12 22.36A80.6 74.07 0 0 1 84.55 22.13L88.11 27.78A73.5 67.55 0 0 0 87.72 27.99ZM99.18 16.03A80.6 74.07 0 0 1 99.65 15.89L101.88 22.08A73.5 67.55 0 0 0 101.46 22.21ZM116.75 12.52A80.6 74.07 0 0 1 117.17 12.48L117.86 18.97A73.5 67.55 0 0 0 117.47 19.01Z" fill="#e42a2a"/>
<path d="M146.95 14.93A80.6 74.07 0 0 1 147.74 15.14L145.74 21.4A73.5 67.55 0 0 0 145.01 21.21ZM154.58 17.3A80.6 74.07 0 0 1 155.71 17.72L153 23.75A73.5 67.55 0 0 0 151.97 23.37ZM192.42 45.61A80.6 74.07 0 0 1 193.05 46.51L187.06 50A73.5 67.55 0 0 0 186.48 49.19ZM200.65 60.65A80.6 74.07 0 0 1 200.93 61.35L194.24 63.54A73.5 67.55 0 0 0 193.99 62.9ZM205.53 83.1A80.6 74.07 0 0 1 205.58 84.39L198.48 84.55A73.5 67.55 0 0 0 198.44 83.38ZM203.7 102.18A80.6 74.07 0 0 1 203.65 102.4L196.72 100.97A73.5 67.55 0 0 0 196.77 100.77ZM201.68 109.01A80.6 74.07 0 0 1 201.37 109.89L194.64 107.81A73.5 67.55 0 0 0 194.93 107ZM197.74 118.11A80.6 74.07 0 0 1 197.36 118.82L190.99 115.95A73.5 67.55 0 0 0 191.33 115.3ZM188.39 131.95A80.6 74.07 0 0 1 187.51 132.96L182 128.84A73.5 67.55 0 0 0 182.81 127.92ZM150.43 156.49A80.6 74.07 0 0 1 149.39 156.8L147.24 150.58A73.5 67.55 0 0 0 148.19 150.3ZM142.08 158.59A80.6 74.07 0 0 1 140.9 158.82L139.5 152.42A73.5 67.55 0 0 0 140.57 152.21ZM126.54 160.26A80.6 74.07 0 0 1 125.59 160.27L125.53 153.74A73.5 67.55 0 0 0 126.41 153.73ZM110.95 159.14A80.6 74.07 0 0 1 109.62 158.91L110.97 152.51A73.5 67.55 0 0 0 112.18 152.71ZM90.33 153.07A80.6 74.07 0 0 1 89.02 152.48L92.19 146.64A73.5 67.55 0 0 0 93.38 147.18ZM87.47 151.75A80.6 74.07 0 0 1 86.32 151.18L89.72 145.46A73.5 67.55 0 0 0 90.78 145.98ZM63.77 134.37A80.6 74.07 0 0 1 63.02 133.55L68.48 129.38A73.5 67.55 0 0 0 69.17 130.13ZM45.98 100.82A80.6 74.07 0 0 1 45.74 99.65L52.72 98.46A73.5 67.55 0 0 0 52.95 99.53ZM61.41 40.69A80.6 74.07 0 0 1 62.02 39.97L67.57 44.05A73.5 67.55 0 0 0 67.01 44.7ZM66.83 34.93A80.6 74.07 0 0 1 67.47 34.33L72.53 38.89A73.5 67.55 0 0 0 71.95 39.45ZM85.44 21.66A80.6 74.07 0 0 1 85.88 21.44L89.32 27.14A73.5 67.55 0 0 0 88.93 27.35ZM93.25 18.12A80.6 74.07 0 0 1 94.66 17.58L97.34 23.62A73.5 67.55 0 0 0 96.04 24.12ZM102.77 15A80.6 74.07 0 0 1 103.96 14.7L105.81 21A73.5 67.55 0 0 0 104.72 21.27Z" fill="#969696"/>
<path d="M176.88 29.51A80.6 74.07 0 0 1 177.61 30.09L172.98 35.03A73.5 67.55 0 0 0 172.31 34.51ZM184.57 36.31A80.6 74.07 0 0 1 185.52 37.28L180.19 41.59A73.5 67.55 0 0 0 179.32 40.7ZM196.29 51.64A80.6 74.07 0 0 1 197.03 52.97L190.69 55.89A73.5 67.55 0 0 0 190.01 54.68ZM202.44 65.65A80.6 74.07 0 0 1 202.7 66.52L195.86 68.25A73.5 67.55 0 0 0 195.62 67.46ZM205.39 91.54A80.6 74.07 0 0 1 205.3 92.58L198.23 92.02A73.5 67.55 0 0 0 198.31 91.07ZM194.67 123.45A80.6 74.07 0 0 1 194.02 124.46L187.94 121.09A73.5 67.55 0 0 0 188.53 120.17ZM192.69 126.41A80.6 74.07 0 0 1 191.93 127.46L186.04 123.83A73.5 67.55 0 0 0 186.73 122.87ZM190.02 129.97A80.6 74.07 0 0 1 189.39 130.75L183.72 126.82A73.5 67.55 0 0 0 184.29 126.12ZM174.28 144.82A80.6 74.07 0 0 1 173.24 145.54L168.99 140.31A73.5 67.55 0 0 0 169.94 139.65ZM162.47 151.78A80.6 74.07 0 0 1 161.55 152.22L158.33 146.4A73.5 67.55 0 0 0 159.17 146ZM47.43 106.31A80.6 74.07 0 0 1 47.11 105.25L53.97 103.57A73.5 67.55 0 0 0 54.26 104.54ZM46.63 103.51A80.6 74.07 0 0 1 46.37 102.49L53.3 101.05A73.5 67.55 0 0 0 53.54 101.98ZM47.92 64.54A80.6 74.07 0 0 1 48.05 64.18L54.82 66.12A73.5 67.55 0 0 0 54.71 66.45ZM50.04 58.97A80.6 74.07 0 0 1 50.56 57.81L57.11 60.31A73.5 67.55 0 0 0 56.65 61.37ZM56.01 47.9A80.6 74.07 0 0 1 56.65 46.95L62.67 50.4A73.5 67.55 0 0 0 62.09 51.28ZM59.01 43.68A80.6 74.07 0 0 1 59.87 42.56L65.61 46.41A73.5 67.55 0 0 0 64.82 47.42ZM62.87 39.01A80.6 74.07 0 0 1 63.37 38.46L68.8 42.67A73.5 67.55 0 0 0 68.34 43.17ZM71.63 30.69A80.6 74.07 0 0 1 72.22 30.22L76.87 35.15A73.5 67.55 0 0 0 76.33 35.58ZM115.2 12.68A80.6 74.07 0 0 1 116.82 12.51L117.54 19A73.5 67.55 0 0 0 116.06 19.16ZM118.3 12.39A80.6 74.07 0 0 1 119.5 12.3L119.98 18.81A73.5 67.55 0 0 0 118.89 18.89Z" fill="#c4c4c4"/>
<path d="M58.89 128.57A80.6 74.07 0 0 1 57.54 126.74L63.49 123.17A73.5 67.55 0 0 0 64.71 124.83ZM49.89 113.08A80.6 74.07 0 0 1 49.07 111.05L55.76 108.86A73.5 67.55 0 0 0 56.51 110.71ZM45.28 97.1A80.6 74.07 0 0 1 44.94 94.77L51.99 94.02A73.5 67.55 0 0 0 52.3 96.14ZM74.65 28.36A80.6 74.07 0 0 1 76.01 27.38L80.33 32.56A73.5 67.55 0 0 0 79.09 33.45ZM82.52 23.25A80.6 74.07 0 0 1 84.18 22.33L87.77 27.96A73.5 67.55 0 0 0 86.26 28.8Z" fill="#c4cada"/>
<text x="145.28" y="8.92" font-size="6.6" fill="#333" text-anchor="middle" dominant-baseline="central" transform="rotate(13.56 145.28 8.92)">1</text>
<text x="181.04" y="25.64" font-size="6.6" fill="#333" text-anchor="middle" dominant-baseline="central" transform="rotate(40.38 181.04 25.64)">2</text>
<text x="203.15" y="52.12" font-size="6.6" fill="#333" text-anchor="middle" dominant-baseline="central" transform="rotate(64.61 203.15 52.12)">3</text>
<text x="211.31" y="80.96" font-size="6.6" fill="#333" text-anchor="middle" dominant-baseline="central" transform="rotate(86.22 211.31 80.96)">4</text>
<text x="207.73" y="109.4" font-size="6.6" fill="#333" text-anchor="middle" dominant-baseline="central" transform="rotate(106.97 207.73 109.4)">5</text>
<text x="194.34" y="133.72" font-size="6.6" fill="#333" text-anchor="middle" dominant-baseline="central" transform="rotate(126.71 194.34 133.72)">6</text>
<text x="174.18" y="151.59" font-size="6.6" fill="#333" text-anchor="middle" dominant-baseline="central" transform="rotate(145.35 174.18 151.59)">7</text>
<text x="150.66" y="162.12" font-size="6.6" fill="#333" text-anchor="middle" dominant-baseline="central" transform="rotate(162.75 150.66 162.12)">8</text>
<text x="126.15" y="165.69" font-size="6.6" fill="#333" text-anchor="middle" dominant-baseline="central" transform="rotate(179.24 126.15 165.69)">9</text>
<text x="102.35" y="162.92" font-size="6.6" fill="#333" text-anchor="middle" dominant-baseline="central" transform="rotate(195.18 102.35 162.92)">10</text>
<text x="80.69" y="154.47" font-size="6.6" fill="#333" text-anchor="middle" dominant-baseline="central" transform="rotate(210.81 80.69 154.47)">11</text>
<text x="62.4" y="141.06" font-size="6.6" fill="#333" text-anchor="middle" dominant-baseline="central" transform="rotate(226.37 62.4 141.06)">12</text>
<text x="49.41" y="124.84" font-size="6.6" fill="#333" text-anchor="middle" dominant-baseline="central" transform="rotate(240.92 49.41 124.84)">13</text>
<text x="41.8" y="107.94" font-size="6.6" fill="#333" text-anchor="middle" dominant-baseline="central" transform="rotate(254.13 41.8 107.94)">14</text>
<text x="38.64" y="90.77" font-size="6.6" fill="#333" text-anchor="middle" dominant-baseline="central" transform="rotate(266.7 38.64 90.77)">15</text>
<text x="39.43" y="74.55" font-size="6.6" fill="#333" text-anchor="middle" dominant-baseline="central" transform="rotate(278.42 39.43 74.55)">16</text>
<text x="43.25" y="60.22" font-size="6.6" fill="#333" text-anchor="middle" dominant-baseline="central" transform="rotate(289.07 43.25 60.22)">17</text>
<text x="49.42" y="47.54" font-size="6.6" fill="#333" text-anchor="middle" dominant-baseline="central" transform="rotate(299.1 49.42 47.54)">18</text>
<text x="56.85" y="37.24" font-size="6.6" fill="#333" text-anchor="middle" dominant-baseline="central" transform="rotate(308.01 56.85 37.24)">19</text>
<text x="65.09" y="28.86" font-size="6.6" fill="#333" text-anchor="middle" dominant-baseline="central" transform="rotate(316.17 65.09 28.86)">20</text>
<text x="73.87" y="22.08" font-size="6.6" fill="#333" text-anchor="middle" dominant-baseline="central" transform="rotate(323.77 73.87 22.08)">21</text>
<text x="82.77" y="16.82" font-size="6.6" fill="#333" text-anchor="middle" dominant-baseline="central" transform="rotate(330.78 82.77 16.82)">22</text>
<text x="99.98" y="10.1" font-size="6.6" fill="#333" text-anchor="middle" dominant-baseline="central" transform="rotate(343.19 99.98 10.1)">X</text>
<text x="118.98" y="6.9" font-size="6.6" fill="#333" text-anchor="middle" dominant-baseline="central" transform="rotate(356.01 118.98 6.9)">Y</text>
<circle cx="151.8" cy="28.5" r="1.1" fill="#f07038"/>
<circle cx="164.5" cy="41.7" r="1.1" fill="#8a86e8"/>
<circle cx="170.4" cy="39.5" r="1.1" fill="#f07038"/>
<circle cx="180.3" cy="49.3" r="1.1" fill="#f07038"/>
<circle cx="183.6" cy="52.6" r="1.1" fill="#f07038"/>
<circle cx="184.3" cy="54.4" r="1.1" fill="#f07038"/>
<circle cx="185.8" cy="52.6" r="1.1" fill="#1a9a9a"/>
<circle cx="187.3" cy="59.6" r="1.1" fill="#f07038"/>
<circle cx="191.3" cy="63.6" r="1.1" fill="#1a9a9a"/>
<circle cx="193.5" cy="90.1" r="1.1" fill="#f07038"/>
<circle cx="175.5" cy="124" r="1.1" fill="#1a9a9a"/>
<circle cx="183.6" cy="122.5" r="1.1" fill="#1a9a9a"/>
<circle cx="181.4" cy="121.4" r="1.1" fill="#f07038"/>
<circle cx="174.8" cy="129" r="1.1" fill="#f07038"/>
<circle cx="162.1" cy="137.1" r="1.1" fill="#f07038"/>
<circle cx="163.9" cy="136.7" r="1.1" fill="#f07038"/>
<circle cx="144" cy="140" r="1.1" fill="#8a86e8"/>
<circle cx="148.2" cy="138.9" r="1.1" fill="#8a86e8"/>
<circle cx="151.1" cy="137.7" r="1.1" fill="#8a86e8"/>
<circle cx="145.2" cy="142.4" r="1.1" fill="#1a9a9a"/>
<circle cx="146.4" cy="142" r="1.1" fill="#1a9a9a"/>
<circle cx="142.9" cy="146.3" r="1.1" fill="#f07038"/>
<circle cx="150.6" cy="143.9" r="1.1" fill="#f07038"/>
<circle cx="111.5" cy="141.5" r="1.1" fill="#8a86e8"/>
<circle cx="112.1" cy="147.5" r="1.1" fill="#f07038"/>
<circle cx="59.3" cy="69" r="1.1" fill="#f07038"/>
<circle cx="56.4" cy="86" r="1.1" fill="#f07038"/>
<circle cx="57.2" cy="93.7" r="1.1" fill="#f07038"/>
<circle cx="63.1" cy="113.6" r="1.1" fill="#f07038"/>
<circle cx="66.1" cy="118.1" r="1.1" fill="#f07038"/>
<circle cx="73.1" cy="126.3" r="1.1" fill="#f07038"/>
<g fill="none" stroke="#d94fb8" stroke-width="0.75">
<path d="M80.4 70.7Q125 86.2 168.3 68.1"/>
<path d="M80.4 70.7Q125 86.2 106.4 125.8"/>
<path d="M168.3 68.1Q125 86.2 106.4 125.8"/>
</g>
<path d="M130.3 106.8L134.6 105.9L145.2 125.4Q140 127.6 134.3 128.6Z" fill="#f0188c"/>
<path d="M132 106.5L139 126.8M133.3 106.2L142.5 126.1" stroke="#f85cb0" stroke-width="0.5" opacity="0.6"/>
</g>
<g id="circB">
<rect x="303" y="22.7" width="14.6" height="13" fill="#ffffff"/>
<text x="310.2" y="31.8" font-size="8.3" text-anchor="middle" fill="#3a3a3a" class="ser">B</text>
<path d="M364.88 27.76A55.3 54.14 0 1 1 363.72 27.76L363.83 38.24A44.6 43.66 0 1 0 364.77 38.24Z" fill="#f9f8f7" stroke="#dad7d5" stroke-width="0.7"/>
<path d="M364.77 38.24A44.6 43.66 0 1 1 363.83 38.24L363.86 40.49A42.3 41.41 0 1 0 364.74 40.49Z" fill="#ebe9e7" stroke="#d6d3d1" stroke-width="0.5"/>
<ellipse cx="364.3" cy="81.9" rx="39.4" ry="38.57" fill="#faf9f8" stroke="#dcd9d7" stroke-width="0.6"/>
<path d="M365.01 41.9L366.43 41.87L367.86 41.92L369.28 41.98L370.69 42.23L372.11 42.38L373.43 42.99L374.85 43.14L376.28 43.34L377.6 43.87L378.98 44.25L380.18 45.06L381.53 45.5L382.76 46.2L384.07 46.76L385.3 47.46L386.37 48.4L387.58 49.12L388.72 49.94L389.98 50.61L391.02 51.57L391.89 52.7L393.07 53.49L393.85 54.68L394.92 55.6L395.66 56.79L396.48 57.91L397.58 58.83L398.14 60.13L398.89 61.29L399.86 62.34L400.5 63.57L400.92 64.91L401.76 66.06L402.15 67.39L402.71 68.67L403 70.03L403.7 71.27L403.99 72.63L404.43 73.96L404.69 75.32L404.69 76.73L404.9 78.1L404.96 79.48L405.04 80.86L405.05 82.25L405.13 83.64L405.18 85.03L404.82 86.4L404.92 87.81L404.56 89.16L404.26 90.53L404.13 91.93L403.61 93.24L403.11 94.54L402.69 95.87L402.23 97.19L401.41 98.36L401.11 99.75L400.1 100.8L399.63 102.14L398.9 103.33L397.82 104.29L397.23 105.58L396.21 106.57L395.37 107.67L394.25 108.55L393.28 109.54L392.31 110.54L391.47 111.69L390.2 112.36L389.24 113.39L388.15 114.27L386.99 115.07L385.68 115.63L384.48 116.36L383.29 117.1L382.08 117.83L380.7 118.19L379.51 118.99L378.2 119.52L376.88 120.03L375.44 120.15L374.17 120.88L372.72 120.89L371.35 121.28L369.97 121.62L368.57 121.93L367.14 121.85L365.73 122.16L364.3 122.05L362.88 121.94L361.46 121.87L360.05 121.69L358.65 121.48L357.25 121.28L355.81 121.21L354.4 120.99L353.12 120.3L351.79 119.83L350.33 119.7L349.26 118.56L348.01 117.95L346.78 117.29L345.49 116.77L344.23 116.16L343.12 115.32L341.97 114.55L340.92 113.63L339.61 113.07L338.75 111.94L337.59 111.18L336.47 110.35L335.68 109.2L334.55 108.37L333.56 107.4L332.76 106.27L331.85 105.24L331.25 103.98L330.36 102.93L329.71 101.72L328.76 100.67L328.28 99.37L327.6 98.17L326.81 97.01L326.33 95.72L325.79 94.44L325.54 93.08L325.13 91.76L324.7 90.45L324.5 89.08L323.84 87.79L323.6 86.42L323.57 85.02L323.39 83.64L323.12 82.25L323.15 80.85L323.36 79.46L323.54 78.08L323.79 76.71L324.12 75.36L324.33 73.99L324.47 72.59L324.82 71.25L325.44 69.98L325.76 68.62L326.28 67.33L326.87 66.07L327.49 64.82L328.1 63.58L328.93 62.44L329.53 61.19L330.44 60.12L331.17 58.93L331.91 57.76L332.81 56.69L333.83 55.73L334.58 54.52L335.64 53.6L336.66 52.65L337.85 51.88L338.78 50.81L339.95 50.04L340.98 49.07L342.19 48.34L343.3 47.46L344.56 46.8L345.77 46.08L347.12 45.61L348.36 44.92L349.66 44.35L350.98 43.82L352.39 43.56L353.71 42.99L355.09 42.64L356.5 42.42L357.89 42.07L359.31 41.9L360.74 41.94L362.16 41.86L363.59 41.97" fill="none" stroke="#8282d2" stroke-width="0.85"/>
<path d="M364.94 21.79A61.4 60.11 0 1 1 363.66 21.79L363.72 27.47A55.6 54.43 0 1 0 364.88 27.47Z" fill="#fdfdfd" stroke="#dcdad8" stroke-width="0.6"/>
<path d="M370.72 22.12A61.4 60.11 0 0 1 381.22 24.12L379.63 29.58A55.6 54.43 0 0 0 370.11 27.77Z" fill="#8a8a8a"/>
<path d="M395.92 30.38A61.4 60.11 0 0 1 410.64 42.46L406.26 46.19A55.6 54.43 0 0 0 392.94 35.24Z" fill="#111111"/>
<path d="M415.79 49.16A61.4 60.11 0 0 1 421.23 59.38L415.85 61.51A55.6 54.43 0 0 0 410.93 52.25Z" fill="#bdbdbd"/>
<path d="M422.35 62.33A61.4 60.11 0 0 1 425.69 80.85L419.89 80.95A55.6 54.43 0 0 0 416.87 64.18Z" fill="#8a8a8a"/>
<path d="M425.62 85.05A61.4 60.11 0 0 1 425.1 90.27L419.36 89.48A55.6 54.43 0 0 0 419.82 84.75Z" fill="#c4c4c4"/>
<path d="M423.88 96.44A61.4 60.11 0 0 1 418 111.04L412.93 108.29A55.6 54.43 0 0 0 418.25 95.07Z" fill="#f01e1e"/>
<path d="M413.97 117.23A61.4 60.11 0 0 1 412.02 119.73L407.51 116.16A55.6 54.43 0 0 0 409.28 113.89Z" fill="#5a5a5a"/>
<path d="M407.72 124.4A61.4 60.11 0 0 1 395 133.96L392.1 129.04A55.6 54.43 0 0 0 403.62 120.39Z" fill="#bdbdbd"/>
<path d="M392.18 135.46A61.4 60.11 0 0 1 382.25 139.38L380.56 133.95A55.6 54.43 0 0 0 389.54 130.4Z" fill="#c4c4c4"/>
<path d="M380.19 139.96A61.4 60.11 0 0 1 372.85 141.43L372.04 135.8A55.6 54.43 0 0 0 378.69 134.48Z" fill="#c4c4c4"/>
<path d="M364.3 142.01A61.4 60.11 0 0 1 351.53 140.7L352.74 135.14A55.6 54.43 0 0 0 364.3 136.33Z" fill="#111111"/>
<path d="M347.38 139.68A61.4 60.11 0 0 1 335.47 134.97L338.2 129.96A55.6 54.43 0 0 0 348.97 134.22Z" fill="#8a8a8a"/>
<path d="M331.76 132.88A61.4 60.11 0 0 1 317.26 120.54L321.71 116.89A55.6 54.43 0 0 0 334.84 128.06Z" fill="#111111"/>
<path d="M310.6 111.04A61.4 60.11 0 0 1 306.98 103.44L312.39 101.41A55.6 54.43 0 0 0 315.67 108.29Z" fill="#c0c0c0"/>
<path d="M303.66 91.3A61.4 60.11 0 0 1 302.91 80.85L308.71 80.95A55.6 54.43 0 0 0 309.38 90.42Z" fill="#8a8a8a"/>
<path d="M302.98 78.75A61.4 60.11 0 0 1 305.58 64.33L311.13 65.99A55.6 54.43 0 0 0 308.78 79.05Z" fill="#111111"/>
<path d="M307.37 59.38A61.4 60.11 0 0 1 311.13 51.84L316.15 54.68A55.6 54.43 0 0 0 312.75 61.51Z" fill="#c0c0c0"/>
<path d="M317.26 43.26A61.4 60.11 0 0 1 326.5 34.53L330.07 39.01A55.6 54.43 0 0 0 321.71 46.91Z" fill="#a0a0a0"/>
<path d="M335.47 28.83A61.4 60.11 0 0 1 346.35 24.42L348.04 29.85A55.6 54.43 0 0 0 338.2 33.84Z" fill="#8a8a8a"/>
<path d="M363.6 21.3V44.8" stroke="#d8d5d3" stroke-width="0.7"/>
<text x="366" y="148.6" font-size="5" text-anchor="middle" fill="#555">8</text>
<circle cx="313.8" cy="94.5" r="0.75" fill="#f07a3a"/>
<circle cx="381.5" cy="38.4" r="0.75" fill="#8a86e8"/>
<circle cx="406.4" cy="80.2" r="0.75" fill="#3aa6d8"/>
<circle cx="411.3" cy="79.4" r="0.75" fill="#8a86e8"/>
<circle cx="416" cy="80.4" r="0.75" fill="#f07a3a"/>
<circle cx="349" cy="128.4" r="0.75" fill="#3aa6d8"/>
<circle cx="361.8" cy="128.4" r="0.75" fill="#8a86e8"/>
<circle cx="379.7" cy="128.6" r="0.75" fill="#3aa6d8"/>
<g fill="none" stroke-width="0.55">
<path d="M330.67 93.04C347.49 87.47 381.76 78.78 399.22 75.66" stroke="#f07ccc" opacity="0.65"/>
<path d="M329.27 87.52C346.78 84.71 381.57 77.9 398.85 73.91" stroke="#e655b4" opacity="0.82"/>
<path d="M330.48 92.45C347.39 87.18 381.84 79.21 399.37 76.52" stroke="#e048ac" opacity="0.72"/>
<path d="M328.98 85.44C346.64 83.67 381.61 78.04 398.91 74.19" stroke="#e048ac" opacity="0.75"/>
<path d="M329.56 89.07C346.93 85.48 381.3 76.91 398.3 71.92" stroke="#e048ac" opacity="0.68"/>
<path d="M331.37 94.88C347.84 88.39 381.46 77.46 398.62 73.02" stroke="#ec6cc2" opacity="0.84"/>
<path d="M354.89 48.39C359.6 65.14 377.47 93.55 390.65 105.19" stroke="#dd3aa2" opacity="0.75"/>
<path d="M358.04 47.69C361.17 64.8 376.41 94.6 388.53 107.3" stroke="#e048ac" opacity="0.93"/>
<path d="M349.76 50.2C357.03 66.05 377.64 93.36 390.98 104.82" stroke="#ec6cc2" opacity="0.68"/>
<path d="M361.17 47.28C362.73 64.59 372.59 97.27 380.88 112.63" stroke="#e655b4" opacity="0.93"/>
<path d="M385.6 54.1C374.95 68 350.04 92.24 335.77 102.58" stroke="#ec6cc2" opacity="0.88"/>
<path d="M374 48.47C369.15 65.18 351.78 94.22 339.26 106.53" stroke="#dd3aa2" opacity="0.7"/>
<path d="M380.66 51.06C372.48 66.48 353.26 95.5 342.21 109.11" stroke="#e655b4" opacity="0.85"/>
<path d="M396.22 66.69C380.26 74.29 366.09 99.19 367.88 116.48" stroke="#ec6cc2" opacity="0.77"/>
<path d="M390.72 58.69C377.51 70.29 362.62 99.2 360.94 116.5" stroke="#ec6cc2" opacity="0.94"/>
<path d="M390.47 58.42C377.39 70.16 361.77 99.1 359.24 116.3" stroke="#e048ac" opacity="0.65"/>
<path d="M399.78 82.99C382.04 82.44 353.18 95.44 342.06 108.99" stroke="#dd3aa2" opacity="0.8"/>
<path d="M399.8 81.99C382.05 81.94 353.59 95.76 342.88 109.61" stroke="#f07ccc" opacity="0.85"/>
<path d="M399.77 80.57C382.04 81.23 356.54 97.53 348.78 113.16" stroke="#ec6cc2" opacity="0.7"/>
<path d="M330.41 71.55C347.35 76.73 374.4 67.61 384.51 53.33" stroke="#e655b4" opacity="0.78"/>
<path d="M330.11 72.55C347.2 77.23 374.27 67.52 384.24 53.15" stroke="#f07ccc" opacity="0.88"/>
<path d="M330.81 70.37C347.56 76.13 377.47 70.25 390.63 58.59" stroke="#f07ccc" opacity="0.67"/>
<path d="M339.24 57.28C351.77 69.59 361.5 99.06 358.7 116.22" stroke="#dd3aa2" opacity="0.67"/>
<path d="M337.76 58.82C351.03 70.36 361.75 99.1 359.21 116.3" stroke="#dd3aa2" opacity="0.85"/>
<path d="M334.34 63.25C349.32 72.58 363.71 99.27 363.12 116.64" stroke="#e655b4" opacity="0.78"/>
<path d="M330.46 92.41C347.38 87.15 379.01 91.62 393.72 101.35" stroke="#ec6cc2" opacity="0.77"/>
<path d="M330.2 91.57C347.25 86.73 376.23 94.76 388.17 107.63" stroke="#dd3aa2" opacity="0.84"/>
<path d="M363.18 47.16C363.74 64.53 346.98 85.72 329.67 89.54" stroke="#ec6cc2" opacity="0.95"/>
<path d="M363.7 47.15C364 64.53 346.96 85.6 329.61 89.29" stroke="#f07ccc" opacity="0.66"/>
<path d="M328.93 78.93C346.61 80.42 381.74 85.16 399.17 88.41" stroke="#ec6cc2" opacity="0.94"/>
<path d="M329.93 90.58C347.11 86.24 381.94 83.84 399.58 85.77" stroke="#e048ac" opacity="0.92"/>
<path d="M328.8 82.29C346.55 82.09 380.99 87.81 397.68 93.73" stroke="#f07ccc" opacity="0.66"/>
</g>
</g>
<g id="panelC">
<rect x="6.2" y="180" width="14.8" height="12.4" fill="#ffffff"/>
<text x="13.6" y="190.2" font-size="10" text-anchor="middle" fill="#333" class="ser">C</text>
<rect x="29.3" y="197.6" width="516.7" height="141.1" fill="#f9f6f4"/>
<rect x="29.6" y="198.2" width="18.8" height="140.5" fill="#dcdcfa"/>
<rect x="52" y="198.2" width="17.6" height="140.5" fill="#dcdcfa"/>
<rect x="233.8" y="198.2" width="25.1" height="140.5" fill="#dcdcfa"/>
<rect x="260.5" y="198.2" width="22.9" height="140.5" fill="#dcdcfa"/>
<rect x="459.6" y="198.2" width="11.8" height="140.5" fill="#dcdcfa"/>
<rect x="483" y="198.2" width="9.7" height="140.5" fill="#dcdcfa"/>
<rect x="503.5" y="198.2" width="6.4" height="140.5" fill="#dcdcfa"/>
<rect x="308" y="198.2" width="21.8" height="140.5" fill="#fccdbc"/>
<rect x="376.9" y="198.2" width="16.7" height="140.5" fill="#fccdbc"/>
<rect x="397.6" y="198.2" width="13.8" height="140.5" fill="#fccdbc"/>
<rect x="313.9" y="198.2" width="1.5" height="140.5" fill="#fce2d8"/>
<rect x="242.3" y="198.2" width="1.2" height="140.5" fill="#e8e8fb"/>
<rect x="270.5" y="198.2" width="1.4" height="140.5" fill="#e8e8fb"/>
<path d="M29.3 334.31H546M29.3 329.93H546M29.3 325.54H546M29.3 316.76H546M29.3 312.38H546M29.3 307.99H546M29.3 299.21H546M29.3 294.82H546M29.3 290.44H546M29.3 281.66H546M29.3 277.27H546M29.3 272.89H546M29.3 264.11H546M29.3 259.72H546M29.3 255.34H546M29.3 246.56H546M29.3 242.17H546M29.3 237.79H546M29.3 229.01H546M29.3 224.62H546M29.3 220.24H546M29.3 211.46H546M29.3 207.07H546M29.3 202.69H546" stroke="#503c3c" stroke-opacity="0.07" stroke-width="0.45" fill="none"/>
<path d="M29.3 338.7H546M29.3 321.15H546M29.3 303.6H546M29.3 286.05H546M29.3 268.5H546M29.3 250.95H546M29.3 233.4H546M29.3 215.85H546M29.3 198.3H546" stroke="#503c3c" stroke-opacity="0.2" stroke-width="0.6" fill="none"/>
<path d="M37.54 197.6V338.7M45.79 197.6V338.7M54.03 197.6V338.7M62.28 197.6V338.7M78.62 197.6V338.7M86.85 197.6V338.7M95.07 197.6V338.7M103.29 197.6V338.7M118.63 197.6V338.7M126.86 197.6V338.7M135.1 197.6V338.7M151.24 197.6V338.7M159.48 197.6V338.7M167.72 197.6V338.7M182.74 197.6V338.7M190.97 197.6V338.7M199.21 197.6V338.7M212.72 197.6V338.7M221.13 197.6V338.7M229.55 197.6V338.7M241.4 197.6V338.7M249.69 197.6V338.7M257.99 197.6V338.7M267.87 197.6V338.7M276.23 197.6V338.7M292.29 197.6V338.7M300.57 197.6V338.7M315.85 197.6V338.7M324.3 197.6V338.7M338.45 197.6V338.7M346.6 197.6V338.7M360.66 197.6V338.7M369.03 197.6V338.7M383.38 197.6V338.7M392.06 197.6V338.7M402.81 197.6V338.7M410.92 197.6V338.7M420.64 197.6V338.7M429.17 197.6V338.7M438.06 197.6V338.7M453.4 197.6V338.7M467.28 197.6V338.7M480.73 197.6V338.7M491.03 197.6V338.7M510.37 197.6V338.7M518.97 197.6V338.7M527.34 197.6V338.7M535.71 197.6V338.7M544.93 197.6V338.7" stroke="#503c3c" stroke-opacity="0.05" stroke-width="0.4" fill="none"/>
<path d="M29.75 303.9L29.75 292.35L30.25 293.56L30.75 293.65L31.25 295.81L31.75 294.19L32.25 296.83L32.75 293.35L33.25 293.63L33.75 294.9L34.25 292.77L34.75 292.95L35.25 295.64L35.75 293.38L36.25 295.12L36.75 294.05L37.25 293.53L37.75 294.29L38.25 293.1L38.75 289.92L39.25 292.63L39.75 290.11L40.25 291.96L40.75 294.23L41.25 295.69L41.75 291.92L42.25 291.79L42.75 294.63L43.25 292.67L43.75 293.38L44.25 293.83L44.75 293.78L45.25 290.52L45.75 294.05L46.25 294.03L46.75 295.05L47.25 292.27L47.75 295.55L48.25 294.08L48.4 293.92L48.4 303.9ZM52 303.9L52 291.97L52.5 291.11L53 292.77L53.5 292.97L54 292.44L54.5 291.93L55 294.21L55.5 294.24L56 291.33L56.5 292.27L57 291.71L57.5 292.18L58 292.5L58.5 293.28L59 293.06L59.5 293.54L60 292.2L60.5 293.4L61 291.41L61.5 292.86L62 292.3L62.5 293.21L63 293.74L63.5 294.61L64 293.53L64.5 291.01L65 291.73L65.5 293.62L66 292.64L66.5 293.81L67 292.5L67.5 295.32L68 292.96L68.5 294.89L69 294.9L69.5 291.39L69.95 294.07L69.95 303.9ZM70.85 303.9L70.85 298.75L71.35 297.69L71.85 296.89L72.35 296.8L72.85 297.66L73.35 297.63L73.85 297.78L74.35 301.6L74.85 299.43L75.35 299.38L75.85 298.47L76.35 297.35L76.85 299.35L77.35 297.73L77.85 296.87L78.35 298.39L78.85 301.15L79.35 297.6L79.85 298.51L80.35 299.29L80.85 297.42L81.35 296.67L81.85 300.07L82.35 298.35L82.85 300.88L83.35 297.36L83.85 298.34L84.35 299L84.85 297.12L85.35 299.91L85.85 298.99L86.35 299.54L86.85 296.77L87.35 296.87L87.85 296.18L88.35 296.72L88.85 298.57L89.35 297.15L89.85 298.23L90.35 298.63L90.85 299.14L91.35 297.57L91.85 297.98L92.35 299.97L92.85 296.66L93.35 299.04L93.85 299.75L94.35 297.27L94.85 299.78L95.35 299.3L95.85 298.33L96.35 298.15L96.85 299.28L97.35 297.71L97.85 299.39L98.35 297.23L98.85 298.81L99.35 298.88L99.85 300.32L100.35 298.34L100.85 297.93L101.35 297.34L101.85 300.27L102.35 297.9L102.85 300.91L103.35 298.99L103.85 298.15L104.35 298.87L104.85 299.69L105.35 298.59L105.85 298.16L106.35 297.97L106.85 298.92L107.35 299.03L107.85 296.74L108.35 297.68L108.85 299.31L109.35 299.61L109.85 298.09L109.95 299.34L109.95 303.9ZM110.85 303.9L110.85 298.73L111.35 298.85L111.85 296.44L112.35 301.17L112.85 300.7L113.35 301.14L113.85 301.03L114.35 301.54L114.85 298.93L115.35 299.85L115.85 297.06L116.35 299.67L116.85 299.44L117.35 301.37L117.85 299.36L118.35 299.76L118.85 299.64L119.35 297.59L119.85 299.58L120.35 299.07L120.85 300.91L121.35 297.75L121.85 300.13L122.35 299.09L122.85 299.26L123.35 296.64L123.85 297.59L124.35 300.42L124.85 298.68L125.35 299.9L125.85 299.79L126.35 298.55L126.85 299.66L127.35 298.99L127.85 297.79L128.35 299.57L128.85 299.3L129.35 299.69L129.85 299L130.35 300.62L130.85 298.08L131.35 297.49L131.85 299.66L132.35 299.22L132.85 300.07L133.35 298.47L133.85 299.35L134.35 297.96L134.85 297.76L135.35 300.74L135.85 298.37L136.35 298.97L136.85 298.9L137.35 299.45L137.85 298.43L138.35 299.97L138.85 298.08L139.35 301.66L139.85 297.51L140.35 297.74L140.85 299.97L141.35 298.78L141.85 298.95L142.35 298.06L142.55 299.3L142.55 303.9ZM143.45 303.9L143.45 302.91L143.95 301.81L144.45 301.34L144.95 303.16L145.45 300.44L145.95 303.35L146.45 298.74L146.95 301.41L147.45 303.01L147.95 302.16L148.45 301.82L148.95 302.79L149.45 301.72L149.95 299.94L150.45 302.11L150.95 299.68L151.45 301.22L151.95 299.54L152.45 299.94L152.95 303.83L153.45 301.76L153.95 302.67L154.45 301.2L154.95 300.25L155.45 304.26L155.95 300.73L156.45 303.12L156.95 302.47L157.45 301.88L157.95 301.33L158.45 304.46L158.95 302.47L159.45 302.27L159.95 300.06L160.45 302.61L160.95 305.05L161.45 299.81L161.95 302.66L162.45 301.67L162.95 302.58L163.45 302.04L163.95 303.09L164.45 299.9L164.95 304.18L165.45 301.43L165.95 299.84L166.45 300.37L166.95 302L167.45 301.79L167.95 304.01L168.45 301.56L168.95 302.02L169.45 303.6L169.95 302.39L170.45 300.4L170.95 302.32L171.45 303.44L171.95 301.24L172.45 301.91L172.95 302.35L173.45 300.49L173.95 301.15L174.05 301.65L174.05 303.9ZM174.95 303.9L174.95 293.65L175.45 295.18L175.95 294.49L176.45 292.84L176.95 294.85L177.45 291.05L177.95 294.52L178.45 294.92L178.95 293.76L179.45 294.03L179.95 293.74L180.45 294.81L180.95 294.28L181.45 294.4L181.95 291.88L182.45 294.6L182.95 294.37L183.45 293.96L183.95 293.46L184.45 292.26L184.95 292.25L185.45 291.74L185.95 293.99L186.45 294.73L186.95 294.38L187.45 290.35L187.95 294.34L188.45 294.29L188.95 294.66L189.45 292.03L189.95 293.65L190.45 292.33L190.95 291.49L191.45 296.47L191.95 291.57L192.45 291.92L192.95 293.44L193.45 294.95L193.95 293.83L194.45 294.15L194.95 293.6L195.45 296.35L195.95 295.98L196.45 297.02L196.95 294.13L197.45 296.55L197.95 292.43L198.45 293.92L198.95 293.46L199.45 295.42L199.95 292.88L200.45 294.4L200.95 293.38L201.45 293.5L201.95 294.24L202.45 295.08L202.95 296.8L203.45 294.99L203.85 294.21L203.85 303.9ZM204.75 303.9L204.75 297.47L205.25 297.91L205.75 297.2L206.25 295.82L206.75 295.89L207.25 296.87L207.75 296.24L208.25 296.62L208.75 297.38L209.25 297.58L209.75 296.35L210.25 298.99L210.75 295.99L211.25 297.14L211.75 298.04L212.25 297.34L212.75 294.43L213.25 296.15L213.75 295.96L214.25 295.76L214.75 294.03L215.25 297.56L215.75 294.42L216.25 296.45L216.75 296.82L217.25 298.91L217.75 297.02L218.25 298.4L218.75 295.74L219.25 296.52L219.75 297.15L220.25 295.2L220.75 298.05L221.25 298.49L221.75 297.52L222.25 295.22L222.75 295.76L223.25 295.78L223.75 295.91L224.25 297.11L224.75 295.67L225.25 296.08L225.75 295.46L226.25 296.37L226.75 296.59L227.25 295.47L227.75 297.85L228.25 296.11L228.75 295.79L229.25 298.2L229.75 297.27L230.25 295.14L230.75 297.14L231.25 296.45L231.75 296.06L232.25 298.6L232.65 297.6L232.65 303.9ZM233.55 303.9L233.55 293.71L234.05 295.25L234.55 293.17L235.05 294.37L235.55 293.93L236.05 295.6L236.55 294.78L237.05 295.67L237.55 292.82L238.05 295.79L238.55 296.02L239.05 296.9L239.55 294.4L240.05 294.49L240.55 296.05L241.05 294.43L241.55 295.69L242.05 295.05L242.55 293.56L243.05 293.72L243.55 295.08L244.05 294.86L244.55 295.46L245.05 296.13L245.55 294.9L246.05 297.19L246.55 295.09L247.05 295.83L247.55 296.52L248.05 296.13L248.55 293.59L249.05 294.05L249.55 294.11L250.05 295.37L250.55 296.78L251.05 295.77L251.55 294.59L252.05 294.84L252.55 294.47L253.05 294.53L253.55 293.46L254.05 294.99L254.55 294.29L255.05 295.37L255.55 296.2L256.05 294.73L256.55 294.87L257.05 294.27L257.55 295.76L258.05 296.65L258.55 295.96L259.05 292.23L259.05 294.28L259.05 303.9ZM259.95 303.9L259.95 293.79L260.45 291.02L260.95 290.64L261.45 292.81L261.95 288.99L262.45 291L262.95 290.72L263.45 295.65L263.95 297.25L264.45 294.58L264.95 293.37L265.45 292.76L265.95 291.86L266.45 289.3L266.95 288.62L267.45 290.25L267.95 291.38L268.45 293.55L268.95 293.7L269.45 296.26L269.95 293.81L270.45 291.99L270.95 292.16L271.45 293.31L271.95 289.49L272.45 288.85L272.95 287.51L273.45 288.29L273.95 291.19L274.45 293.38L274.95 293.64L275.45 294.82L275.95 296.29L276.45 293.07L276.95 292.72L277.45 289.57L277.95 294.22L278.45 286.91L278.95 290.93L279.45 293.05L279.95 292.12L280.45 297.92L280.95 292.88L281.45 295.9L281.95 293.19L282.45 290.61L282.95 291.32L283.45 289.23L283.55 288.72L283.55 303.9ZM284.45 303.9L284.45 299.7L284.95 300.85L285.45 301.35L285.95 298.06L286.45 301L286.95 300.52L287.45 300.69L287.95 301.38L288.45 301.38L288.95 301.42L289.45 300.67L289.95 299.32L290.45 299.69L290.95 299.62L291.3 300.67L291.3 303.9ZM294 303.9L294 299.93L294.5 300.68L295 301.59L295.5 301.18L296 300.39L296.5 297.33L297 300.42L297.5 298.76L298 301.3L298.5 299.4L299 298.9L299.5 297.28L300 301.31L300.5 300.73L301 304.18L301.5 300.43L302 300.03L302.5 298.75L303 303.16L303.5 301.31L304 300.21L304.5 301.36L305 299.97L305.5 302.35L306 299.43L306.5 298.94L306.95 301.24L306.95 303.9ZM330.75 303.9L330.75 300.66L331.25 301.35L331.75 299.82L332.25 301.55L332.75 300.75L333.25 300.06L333.75 299.15L334.25 302.71L334.75 298.85L335.25 299.77L335.75 299.63L336.25 299.03L336.75 301.24L337.25 298.52L337.75 299.57L338.25 299.66L338.75 297.59L339.25 300L339.75 297.1L340.25 298.98L340.75 299.12L341.25 298.84L341.75 298.23L342.25 300.88L342.75 301.09L343.25 301.15L343.75 299.43L344.25 298.87L344.75 300.3L345.25 299.12L345.75 299.56L346.25 298.67L346.75 299.96L347.25 298.05L347.75 300.47L348.25 302.16L348.75 301.6L349.25 301.1L349.75 298.53L350.25 301.4L350.75 301.79L351.25 300.25L351.75 300.81L351.85 298.88L351.85 303.9ZM352.75 303.9L352.75 299.39L353.25 302.5L353.75 302.31L354.25 299.32L354.75 299.3L355.25 301.4L355.75 299.14L356.25 299.87L356.75 300.45L357.25 300.23L357.75 299.37L358.25 298.45L358.75 301.38L359.25 300.79L359.75 300.25L360.25 302.97L360.75 304.73L361.25 300.92L361.75 299.75L362.25 300.48L362.75 301.57L363.25 300.98L363.75 302.37L364.25 300.03L364.75 300.86L365.25 300.37L365.75 302.76L366.25 298.61L366.75 302.72L367.25 298.23L367.75 300.72L368.25 299.72L368.75 298.38L369.25 300.82L369.75 298.62L370.25 302.74L370.75 298.7L371.25 301.3L371.75 303.09L372.25 300.09L372.75 300.8L373.25 301.87L373.75 299.76L374.25 302.79L374.25 303.9ZM415.2 303.9L415.2 302.27L415.7 299.77L416.2 301.04L416.7 300.94L417.2 300.06L417.7 301.35L418.2 297.83L418.7 300.74L419.2 300.4L419.7 302.26L420.2 301.63L420.7 298.79L421.2 300.84L421.7 297.85L422.2 300.06L422.7 300.7L423.2 298.94L423.7 299.96L424.2 300.38L424.7 300.91L425.2 300.25L425.7 301.43L426.2 301.59L426.7 299.99L427.2 300.19L427.7 299.43L428.2 300.57L428.7 300.02L429.15 299.69L429.15 303.9ZM430.05 303.9L430.05 301.18L430.55 298.85L431.05 299.58L431.55 300.44L432.05 299.6L432.55 298.35L433.05 300.88L433.55 299.36L434.05 303.62L434.55 300.29L435.05 301.59L435.55 300.08L436.05 297.4L436.55 299.16L437.05 299.34L437.55 300.05L438.05 301.35L438.55 300.7L439.05 301.28L439.55 300.07L440.05 300.27L440.55 300.83L441.05 300.89L441.55 300.38L442.05 298.43L442.55 300.78L443.05 298.65L443.55 299.92L444.05 298.12L444.45 300.18L444.45 303.9ZM445.35 303.9L445.35 299.78L445.85 300.63L446.35 296.89L446.85 298.93L447.35 298.95L447.85 297.82L448.35 295.63L448.85 297.99L449.35 297.79L449.85 296.42L450.35 300.53L450.85 300.02L451.35 298.89L451.85 298.23L452.35 296.87L452.85 300.15L453.35 299.88L453.85 296.68L454.35 298.36L454.85 298.94L455.35 296.94L455.85 300.48L456.35 299.48L456.85 297.28L457.35 297.71L457.85 296.67L458.25 298.44L458.25 303.9ZM459.15 296.88L459.15 285.94L459.65 284.45L460.15 287.66L460.65 286.92L461.15 286.61L461.65 285.77L462.15 285.12L462.65 286.43L463.15 285.44L463.65 285.45L464.15 285.07L464.65 285.58L465.15 285.88L465.65 286.09L466.15 285.64L466.65 286.91L467.15 286.1L467.65 285.83L468.15 285.64L468.65 285.76L469.15 287.07L469.65 285.64L470.15 287.65L470.65 284.31L471.15 288.63L471.65 285.03L471.65 284.02L471.65 296.88ZM472.55 303.9L472.55 297.8L473.05 297.94L473.55 297.67L474.05 295.45L474.55 296.52L475.05 296.62L475.55 298L476.05 297.54L476.55 295.99L477.05 296.24L477.55 298.49L478.05 296.07L478.55 297.04L479.05 294.86L479.55 297.55L480.05 296.1L480.55 298.18L481.05 295.62L481.55 299.18L481.85 299.11L481.85 303.9ZM482.75 303.9L482.75 293L483.25 291.63L483.75 292.74L484.25 293.89L484.75 292.01L485.25 293.47L485.75 292L486.25 294.57L486.75 292.39L487.25 293.48L487.75 291.64L488.25 291.61L488.75 292.36L489.25 294.39L489.75 292.82L490.25 292.85L490.75 295.33L491.25 295.12L491.75 292.18L492.25 293.21L492.75 293.68L492.85 292.56L492.85 303.9ZM495.8 303.9L495.8 295.82L496.3 298.41L496.8 298.05L497.3 297.12L497.8 297.57L498.3 297.28L498.8 296.1L499.3 296.9L499.8 298.04L500.3 298.48L500.8 297.34L501.25 297.46L501.25 303.9ZM503.8 303.9L503.8 295.01L504.3 296.32L504.8 295.73L505.3 295.98L505.8 293.91L506.3 297.01L506.8 292.35L507.3 295.78L507.8 296.49L508.3 295.41L508.8 297.02L509.3 295.95L509.8 296.19L510.15 295.96L510.15 303.9ZM511.05 303.9L511.05 301.17L511.55 299.82L512.05 299.44L512.55 298.8L513.05 299.25L513.55 299.3L514.05 301.55L514.55 297.09L515.05 300.27L515.55 300.71L516.05 298.75L516.55 300.75L517.05 299.63L517.55 298.95L518.05 299.84L518.55 298.4L519.05 301.32L519.55 301.12L520.05 301.71L520.55 301.53L521.05 298.07L521.55 298.72L522.05 298.25L522.55 299.04L523.05 300.03L523.55 298.61L524.05 297.38L524.55 300.17L525.05 297.9L525.55 300.95L526.05 301.3L526.55 301.66L527.05 298.3L527.55 300.7L528.05 300.53L528.55 300.94L529.05 297.79L529.55 299.33L530.05 296.62L530.55 302.94L531.05 298.03L531.55 301.09L532.05 301.74L532.55 301.99L533.05 300.54L533.55 300.8L534.05 300.78L534.55 301.67L535.05 301.74L535.55 301.05L536.05 299.18L536.15 300.96L536.15 303.9Z" fill="#0a0af6"/>
<path d="M29.6 291.8v1M29.84 292.16v1M29.83 290.76v1M30.25 287.69v1M30.3 292.41v1M30.89 290.01v1M30.73 293.15v1M30.78 293.24v1M30.84 293.47v1M31.21 294.48v1M31.05 295.15v1M31.91 292.89v1M31.94 292.24v1M32.43 296.54v1M32.35 294.19v1M32.42 295.61v1M32.25 296.42v1M32.88 292v1M32.72 293.17v1M32.67 293.16v1M33.1 292.62v1M33.41 292.54v1M33.71 294.28v1M33.69 291.87v1M33.92 292.4v1M33.9 294.61v1M33.85 292.98v1M34.1 292.49v1M34.45 292.03v1M34.42 291.65v1M34.18 288.29v1M34.14 291.31v1M34.58 292.51v1M34.78 292.23v1M34.64 292.84v1M34.88 291.87v1M35.38 294.61v1M35.12 294.03v1M35.2 295.55v1M35.36 291.54v1M35.39 295.08v1M35.84 289.01v1M35.87 292.86v1M36.23 294.1v1M36.4 288.39v1M36.41 293.97v1M36.76 290.78v1M36.65 288.46v1M36.71 289.56v1M36.79 291.79v1M37.32 292.53v1M37.3 289.35v1M37.13 290.89v1M37.13 292.66v1M37.63 287.25v1M37.62 291.98v1M37.81 292.14v1M37.9 291.43v1M38.39 292v1M38.05 290.85v1M38.13 291.64v1M38.87 288.41v1M38.66 284.22v1M38.72 285.9v1M39.06 292.16v1M39.17 292.4v1M39.43 290.8v1M39.2 291.49v1M39.59 289.65v1M39.71 285.91v1M39.66 286.83v1M39.9 289.27v1M40.33 287.69v1M40.27 290.92v1M40.19 289.31v1M40.24 291.47v1M40.33 288.04v1M40.8 292.44v1M40.82 289.02v1M40.76 285.95v1M40.76 281.86v1M40.87 293.98v1M41.34 294.83v1M41.26 293.92v1M41.6 291.28v1M41.71 286.6v1M41.75 291.82v1M41.67 290.21v1M41.57 288.09v1M42.13 291.24v1M42.16 290.39v1M42.08 289.54v1M42.36 286.5v1M42.19 291.39v1M42.88 291.91v1M42.58 294.29v1M43.4 292.29v1M43.3 290.01v1M43.29 289.66v1M43.07 291.79v1M43.3 291.79v1M43.81 293.05v1M43.92 291.83v1M44.32 292.83v1M44.37 293.61v1M44.23 293.26v1M44.61 289.37v1M44.62 289.12v1M45.18 289.54v1M45.21 290.42v1M45.11 289.77v1M45.4 284.46v1M45.17 287.02v1M45.62 293.96v1M45.89 291.63v1M46.44 290.58v1M46.16 293.04v1M46.11 293.49v1M46.36 291.67v1M46.91 293.53v1M46.76 294.5v1M46.63 284.97v1M46.62 292.85v1M46.72 293.28v1M47.1 288.44v1M47.3 285.82v1M47.72 293.73v1M47.81 295.55v1M47.92 294.08v1M48.29 293.91v1M48.1 293.2v1M48.09 288.84v1M48.14 292.61v1M48.13 292.28v1M48.27 288.94v1M48.56 292.56v1M48.47 293.52v1M52.07 289.75v1M52.15 290.49v1M51.89 290.32v1M52.52 290.05v1M52.43 290.53v1M52.5 289.36v1M52.55 290.9v1M52.47 285.07v1M52.82 292.32v1M52.91 292.04v1M52.9 287.36v1M52.92 290.95v1M53.58 291.93v1M53.38 291.38v1M53.68 292.85v1M53.36 292.05v1M53.95 288.65v1M53.93 291.5v1M54.37 291.88v1M54.55 291.4v1M54.97 292.03v1M54.83 291.95v1M55.65 293.08v1M55.66 291.16v1M55.58 293.59v1M55.41 290.76v1M55.67 293.65v1M56.05 290.68v1M55.92 290.66v1M55.89 289.27v1M56.45 292.1v1M56.41 289.45v1M56.66 289.22v1M56.47 289.7v1M56.89 290.21v1M57.17 289.22v1M57.17 287.47v1M56.88 290.64v1M57.54 291.31v1M57.32 289.67v1M57.35 292v1M57.47 291.07v1M57.53 289.89v1M58.12 292.46v1M58.07 291.98v1M58.65 289.54v1M58.35 292.85v1M58.41 290.15v1M58.47 292.87v1M58.37 292.5v1M58.84 292.03v1M59.01 292.4v1M59.19 292.45v1M58.91 292.7v1M59.1 292.78v1M59.42 293.25v1M59.64 292.14v1M59.5 289.37v1M59.4 289.82v1M59.37 292.92v1M59.93 291.86v1M60 291.91v1M60.04 290.2v1M60.02 292.05v1M60.59 290.68v1M60.33 291.57v1M60.47 292.25v1M60.3 293.16v1M60.92 288.25v1M61.09 291.15v1M61.34 292.66v1M61.64 292.81v1M61.43 292.12v1M62.19 291.06v1M62.05 290.92v1M62.52 290.7v1M62.39 290.85v1M62.62 292.71v1M62.47 291.65v1M63.04 286.94v1M63.09 292.03v1M63.01 289.82v1M63.04 293.7v1M62.85 292.86v1M63.37 290.83v1M63.68 293.77v1M63.59 292.15v1M63.57 293.87v1M64.05 292.37v1M64.05 293.44v1M63.97 292.17v1M63.95 291.87v1M64.67 290.38v1M64.44 282.58v1M64.57 290.87v1M64.45 285.72v1M64.39 290.22v1M65.19 289.77v1M64.91 280.96v1M65.58 292.91v1M65.64 290.4v1M65.5 293.57v1M65.96 292.32v1M65.91 290.95v1M65.95 291.44v1M65.94 288.81v1M66.42 292.36v1M66.7 290.63v1M67.12 291.23v1M67.02 287.09v1M67.06 292.21v1M67.63 295.17v1M67.67 292.6v1M68.01 292.48v1M68.05 291.67v1M68.09 292.95v1M67.86 290.99v1M67.87 290.8v1M68.54 294.17v1M68.59 291.79v1M68.32 294.82v1M68.4 294.82v1M68.45 293.84v1M68.91 291.86v1M69.16 294v1M68.81 292.43v1M69.13 294.06v1M68.88 293.28v1M69.49 289.88v1M69.58 291.22v1M69.4 288.71v1M69.97 292.69v1M69.76 290.97v1M69.82 293.46v1M70.13 291.7v1M70.78 298.19v1M70.71 298.05v1M70.96 298.26v1M71.34 297.42v1M71.49 297.18v1M71.71 296.26v1M71.85 295.37v1M71.88 295.61v1M72.2 296.42v1M72.54 294.96v1M72.36 294.46v1M72.24 296.17v1M72.24 296.69v1M72.75 297.39v1M73.03 296.83v1M72.72 297v1M72.68 295.62v1M72.74 296.65v1M73.35 296.72v1M73.41 292.69v1M73.32 289.9v1M73.32 294.38v1M73.8 296.74v1M74.03 294.86v1M73.84 290.26v1M74.34 299.76v1M74.36 300.17v1M74.46 300.09v1M74.54 300.55v1M74.33 297.92v1M75.03 298.52v1M74.94 296.64v1M74.96 299.21v1M74.87 295.16v1M75.02 294.64v1M75.39 299.19v1M75.53 299.05v1M75.67 296.54v1M75.73 298.4v1M76.03 298.13v1M75.74 290.33v1M76.26 297.03v1M76.3 296.66v1M76.83 299.32v1M77.03 299.06v1M77.02 296.62v1M77 298.97v1M77.49 295.4v1M77.43 297.07v1M77.41 296.73v1M77.34 295.29v1M77.69 295.66v1M78.02 296.69v1M77.93 292.08v1M77.93 292.81v1M78.29 298.08v1M78.42 296.98v1M78.89 300.37v1M78.77 300.73v1M78.87 297.32v1M78.84 301v1M79.19 295.8v1M79.28 296.83v1M79.97 297.24v1M79.99 297.71v1M79.79 298.5v1M80.35 298.55v1M80.22 296.8v1M80.46 297.34v1M81.04 297.37v1M80.67 296.42v1M80.79 296.88v1M81.52 296.22v1M81.25 296.57v1M81.48 292.4v1M81.37 296.53v1M81.8 299.47v1M81.9 299.84v1M81.96 294.03v1M82.48 294.15v1M82.32 297.39v1M82.23 295.2v1M82.94 299.72v1M83.04 297.6v1M82.73 298.45v1M82.94 299.6v1M83.23 297.31v1M83.32 294.23v1M83.22 297.24v1M83.94 298.21v1M83.97 294.34v1M84.22 296.62v1M84.17 298.23v1M84.23 298.69v1M84.52 298.02v1M84.91 295.68v1M84.67 295.36v1M84.95 295.86v1M84.84 296.7v1M85.32 296.8v1M85.16 299.53v1M85.2 298.87v1M85.23 297.7v1M86.03 297.59v1M85.96 298.5v1M86.46 296.71v1M86.42 298.33v1M86.39 298.62v1M86.7 295.61v1M87.04 294.44v1M87.02 295.55v1M86.95 294.56v1M87.18 293.54v1M87.18 293.19v1M87.82 295.01v1M87.97 294.47v1M87.72 295.65v1M88.39 293.39v1M88.23 296.6v1M88.25 295.6v1M88.21 296.49v1M88.79 293.61v1M88.73 296.8v1M88.74 298.05v1M88.69 297.45v1M88.93 295.97v1M89.41 296.13v1M89.5 296.18v1M89.52 296.85v1M89.99 297.71v1M90.02 298.21v1M89.9 296.02v1M89.69 297.73v1M89.86 297.45v1M90.23 297.42v1M90.47 295.86v1M90.19 298.46v1M91 296.77v1M91.05 297v1M90.83 297.65v1M90.89 296.03v1M90.78 298.7v1M91.2 295.95v1M91.25 297.3v1M91.97 296.66v1M91.8 297.39v1M91.99 296.23v1M92.39 299.66v1M92.22 299.83v1M93.01 295.33v1M92.68 294.04v1M92.78 296.55v1M93.48 298.79v1M93.18 294.87v1M93.27 298.59v1M93.37 298.69v1M93.38 296.96v1M93.95 298.81v1M93.84 299.51v1M93.8 299.29v1M94.4 296.59v1M94.35 297.2v1M94.16 295.48v1M94.32 295.48v1M94.24 297.18v1M94.73 298.75v1M94.86 299.66v1M94.71 299v1M94.8 299.38v1M94.95 296.89v1M95.38 297.41v1M95.34 297.95v1M95.32 297.08v1M95.47 298.48v1M95.73 297.12v1M95.75 297.62v1M95.8 297.78v1M96.02 295.88v1M96.16 293.88v1M96.54 295.41v1M96.36 297.01v1M96.99 298.3v1M96.84 297.17v1M96.77 299.01v1M96.78 297.7v1M97.38 295.95v1M97.39 296.38v1M97.23 296.91v1M97.94 299v1M97.7 298.37v1M97.83 298.29v1M98.36 297.13v1M98.48 296.44v1M98.52 296.76v1M98.84 298.29v1M98.83 298.46v1M98.77 295.7v1M99.01 297.66v1M99.24 297.11v1M99.28 296.24v1M99.79 299.19v1M99.99 299.42v1M99.94 297.92v1M100 297.38v1M99.68 298.02v1M100.21 296.82v1M100.17 298.15v1M100.16 297.65v1M100.68 297.67v1M100.76 296.24v1M100.9 296.73v1M100.69 297.02v1M101.33 293.65v1M101.2 297.08v1M101.75 294.65v1M101.68 297.36v1M102.05 296.93v1M101.93 297.99v1M102.37 296.28v1M102.55 297.41v1M102.4 296.86v1M102.21 296.45v1M102.86 299.78v1M102.9 297.45v1M102.93 298.17v1M102.85 300.6v1M103.47 298.41v1M103.15 295.8v1M103.29 297.59v1M103.25 298.53v1M103.68 296.77v1M103.88 295.63v1M103.73 296.79v1M104.53 296.9v1M104.38 298.5v1M104.15 296.82v1M104.73 297.73v1M104.82 299.29v1M104.88 297.55v1M104.74 296.08v1M105.17 297.95v1M105.18 296.5v1M105.87 297.84v1M105.98 292.75v1M105.75 296.18v1M105.88 297.24v1M105.81 297.95v1M106.33 297.38v1M106.29 295.36v1M106.47 294.94v1M106.24 296.48v1M106.41 296.91v1M107.03 295.72v1M106.77 298v1M106.79 295.88v1M106.77 298.44v1M106.77 298.36v1M107.23 297.26v1M107.49 298.09v1M107.22 298.82v1M107.33 298.87v1M107.17 298.05v1M107.67 296.69v1M107.74 295.67v1M107.92 296.16v1M108.31 296.3v1M108.33 297.52v1M108.23 294.27v1M108.4 297.34v1M108.79 297.34v1M108.98 298.76v1M108.66 297.03v1M109.18 299.12v1M109.4 298.41v1M109.5 298.78v1M109.23 296.32v1M109.91 296.74v1M109.65 297.44v1M109.81 296.52v1M109.92 296.51v1M110.98 297.93v1M110.97 298.2v1M110.99 298.2v1M111.37 291.66v1M111.25 297.07v1M111.5 298.47v1M111.39 298.39v1M111.35 297.96v1M111.84 294.17v1M111.74 295.59v1M112.25 300.05v1M112.5 297.68v1M112.52 296.24v1M112.43 298.01v1M112.23 296.48v1M112.9 299.45v1M112.83 298.85v1M112.72 300.51v1M112.69 299.78v1M112.89 300.6v1M113.45 299.49v1M113.36 299.19v1M113.34 299.58v1M113.22 296.7v1M113.37 301.03v1M114.03 300.6v1M113.94 293.26v1M114.04 300.19v1M114.02 297.81v1M114.33 295.74v1M114.36 300.2v1M114.18 300.04v1M114.5 299.12v1M114.67 298.29v1M114.66 298.33v1M114.85 298.62v1M115.01 298.2v1M114.72 297.84v1M115.31 299.66v1M115.42 299.71v1M115.18 299.7v1M115.86 295.12v1M115.88 294.6v1M115.8 296.2v1M115.69 296.18v1M116.38 297.46v1M116.35 299.48v1M116.27 299.25v1M116.54 294.83v1M116.22 297.66v1M116.78 298.45v1M116.75 295.04v1M116.69 298.63v1M116.92 295.6v1M116.96 299.17v1M117.43 300.4v1M117.47 300.12v1M117.16 297.45v1M117.86 299.09v1M117.76 298.99v1M117.94 297.76v1M118.37 299.68v1M118.54 299.14v1M118.41 298.09v1M118.22 299.51v1M118.85 296.18v1M118.69 298.43v1M119.27 297.16v1M119.52 296.41v1M119.25 296.32v1M119.66 297.32v1M119.98 299.13v1M119.98 296.75v1M120.31 296.13v1M120.41 297.59v1M120.19 298.96v1M120.39 298.97v1M120.26 297.56v1M120.75 300.13v1M120.83 299.42v1M120.67 297.82v1M120.76 297.27v1M121.52 296.41v1M121.4 295.82v1M121.39 294.85v1M121.15 297.39v1M121.4 295.77v1M121.88 298.93v1M121.79 299.5v1M121.95 299.11v1M121.65 299.9v1M121.98 297.4v1M122.38 296.52v1M122.43 297.51v1M122.92 289.9v1M122.92 298.91v1M122.81 299.2v1M122.68 298.94v1M123.22 293.8v1M123.31 294.43v1M123.18 295.08v1M123.91 295.86v1M123.69 294.31v1M124.3 298.52v1M124.29 297.68v1M124.99 296.91v1M124.98 295.98v1M124.97 296.72v1M124.88 297.79v1M125.37 297.93v1M125.52 297.42v1M125.44 299.82v1M125.67 297.21v1M125.74 299.15v1M125.67 299.33v1M125.83 299.6v1M125.82 292.79v1M126.22 298.39v1M126.16 297.18v1M126.88 297.14v1M126.91 293.14v1M126.81 298.17v1M126.66 299.18v1M127.4 295.33v1M127.18 297.49v1M127.97 297.37v1M128.01 295v1M127.83 295.99v1M128.02 297.69v1M127.92 295.21v1M128.48 297.34v1M128.29 298.04v1M128.72 297.81v1M129 298.59v1M128.91 298.75v1M128.84 299.22v1M128.98 298.01v1M129.18 296.22v1M129.39 297.52v1M129.76 298.47v1M129.9 298.97v1M130.21 298.3v1M130.33 299.67v1M130.38 300.05v1M130.45 300.3v1M130.54 300.54v1M130.78 295.85v1M130.8 297.8v1M130.7 297.96v1M130.68 296.74v1M130.97 297.45v1M131.41 297.11v1M131.2 296.5v1M131.3 297.05v1M131.55 296.08v1M131.37 296.58v1M131.87 299.17v1M131.9 293.2v1M132.02 299.36v1M132.52 295.66v1M132.49 298v1M132.19 297.24v1M132.27 299.08v1M132.19 296.32v1M132.96 299.4v1M132.83 298.91v1M133.49 297.95v1M133.53 298.44v1M133.5 298.09v1M133.4 296.39v1M133.87 299.3v1M134.01 298.58v1M134.53 296.72v1M134.15 297.69v1M135.05 293.28v1M134.66 294.5v1M134.94 296.94v1M134.68 297.33v1M135.04 294.08v1M135.47 300.54v1M135.44 295.83v1M135.43 299.09v1M135.87 295.81v1M135.99 298.08v1M136.03 295.85v1M136.39 294.58v1M136.47 297.94v1M136.15 295.67v1M136.23 297.94v1M136.85 298.83v1M136.92 296.95v1M137.36 298.88v1M137.5 296.8v1M137.47 299.04v1M137.21 299.17v1M137.29 299.06v1M137.84 297.73v1M137.86 291.3v1M137.66 294.94v1M137.85 292.72v1M138.28 299.22v1M138.53 299.67v1M138.3 297.63v1M138.17 298.56v1M138.32 299.19v1M138.76 296.7v1M138.7 296.37v1M138.75 297.88v1M138.88 295.7v1M139.35 297.9v1M139.26 300.91v1M139.51 301.45v1M139.21 300.64v1M139.54 296.2v1M139.89 297.29v1M139.89 297.32v1M139.87 295.88v1M139.77 296.3v1M139.82 296.92v1M140.51 294.55v1M140.38 295.99v1M140.82 296.72v1M140.78 298.53v1M141 299.31v1M140.98 298.78v1M141.05 299.79v1M141.3 297.34v1M141.26 298.28v1M141.49 296.16v1M141.76 298.63v1M141.81 296.52v1M142.52 296.54v1M142.37 296.75v1M142.45 296.56v1M142.53 297.71v1M142.36 296.62v1M142.69 298.32v1M142.43 299.22v1M143.65 301.64v1M143.4 302.49v1M143.49 302.38v1M143.86 301.05v1M143.76 300.61v1M143.9 301.69v1M143.88 301.31v1M143.9 300.15v1M144.34 300.77v1M144.35 299.32v1M144.94 300.24v1M145.06 301.23v1M145.03 302.2v1M144.98 302.66v1M145.36 299.28v1M145.36 298.11v1M145.34 300.04v1M145.6 300.39v1M145.85 303.02v1M145.76 303.09v1M146.09 303.06v1M145.75 298.66v1M146.13 302.61v1M146.64 298.14v1M146.31 295.66v1M146.32 297.24v1M146.75 300.43v1M146.8 298.16v1M147.43 302.31v1M147.34 301.26v1M147.43 299.44v1M147.42 302.21v1M147.29 302.99v1M147.99 300.36v1M147.82 300.89v1M148.12 302.14v1M147.84 301.76v1M148.47 301.48v1M148.25 300.63v1M148.51 301.35v1M148.61 299.68v1M148.34 299.89v1M149.05 299.35v1M149.1 300.93v1M148.86 302.55v1M149.09 302.24v1M149.47 300.48v1M149.57 301.19v1M149.37 300v1M150.11 299.87v1M149.91 298.78v1M150.05 298.95v1M149.83 299.82v1M150.52 301.09v1M150.31 299.62v1M150.61 301.24v1M150.9 298.73v1M151.05 299.3v1M151.61 297.22v1M151.52 300.92v1M151.38 299.46v1M151.38 300.3v1M151.95 296.41v1M151.87 298.71v1M152.1 299.1v1M152.65 298.08v1M152.44 299.15v1M152.31 295.29v1M152.96 302.4v1M152.97 302.12v1M152.82 302.23v1M153.09 302.65v1M152.96 302.66v1M153.44 300.94v1M153.52 299.61v1M153.76 298.14v1M153.91 301.66v1M153.81 300.97v1M154.35 300.78v1M154.25 300.88v1M154.5 299.19v1M154.47 300.33v1M154.87 298.1v1M154.8 297.06v1M155.03 299.19v1M154.76 297.63v1M155.38 302.22v1M155.5 301.49v1M155.54 303.93v1M155.51 304.01v1M155.49 302.24v1M155.86 299.84v1M155.89 297.71v1M155.78 299.82v1M156.55 303.1v1M156.37 302.97v1M156.83 302.1v1M156.94 293.97v1M157.58 301.6v1M157.52 301.29v1M157.89 298.54v1M157.97 300.87v1M157.89 300.22v1M157.94 300.65v1M158.3 303.15v1M158.4 303.87v1M158.47 303.43v1M158.94 302.04v1M158.91 302.41v1M158.87 300.12v1M159.13 299.96v1M159.13 301.63v1M159.41 301.79v1M159.48 300.38v1M159.47 300.44v1M159.76 299.46v1M160.03 299.95v1M159.95 297.93v1M159.94 299.23v1M160.53 302.38v1M160.5 301.15v1M160.77 303.47v1M161.12 302.79v1M160.85 304.86v1M161.05 303.6v1M161.36 299.8v1M161.55 297.24v1M161.87 300.41v1M162.13 300.96v1M161.98 302.11v1M162.36 301.53v1M162.26 301.45v1M162.26 300.92v1M162.47 298.44v1M162.35 301.06v1M162.8 302.16v1M162.8 302.56v1M163.04 301.78v1M163.54 301.73v1M163.31 301.81v1M163.33 301.47v1M164.08 302.9v1M164.09 301.54v1M163.79 302.31v1M164.09 302.18v1M164.06 301.68v1M164.32 299.46v1M164.35 299.8v1M164.35 298.47v1M164.81 303.53v1M165.12 303.64v1M165.11 302.82v1M164.82 300.61v1M165.42 299.84v1M165.36 301.23v1M165.55 301.2v1M165.86 296.1v1M165.95 299.4v1M166 298.54v1M166.29 295.21v1M166.34 299.43v1M166.45 300.11v1M166.97 300.77v1M167.1 300.25v1M167.11 301v1M167.49 301.41v1M167.61 301.4v1M167.54 301.09v1M167.6 301.32v1M168.13 303.89v1M168.12 303.21v1M168.59 301.55v1M168.63 296.74v1M168.31 297.39v1M169.02 298.35v1M168.94 302v1M169.04 300.22v1M169.38 300.9v1M169.4 296.49v1M169.28 300.88v1M170.08 302.26v1M170.1 300.45v1M170.03 300.98v1M169.93 301.87v1M169.77 301.61v1M170.47 299.92v1M170.39 299.99v1M170.51 299.8v1M170.35 299.89v1M170.84 299.9v1M170.93 298.25v1M170.85 301.84v1M171.31 302.76v1M171.52 303.3v1M171.29 301.96v1M171.56 301.49v1M171.84 300.3v1M172.13 299.41v1M172.28 297.65v1M172.45 299.48v1M172.63 301.35v1M172.33 301.79v1M172.26 298.5v1M172.85 301.89v1M173.14 301.59v1M173.45 299.32v1M173.55 299.11v1M173.64 298.79v1M173.6 298.1v1M173.49 300.23v1M173.84 300.77v1M174.07 299.99v1M173.91 299.2v1M174.14 300.91v1M174.05 301.32v1M174.06 300.36v1M174.24 300.11v1M174.21 301.35v1M174.8 291v1M174.94 292.87v1M174.8 291.91v1M175.46 294.57v1M175.47 291.29v1M175.62 290.83v1M175.84 292.79v1M175.75 292.62v1M176.3 292.75v1M176.63 289.9v1M177.09 294.43v1M177.14 292.48v1M176.95 292.27v1M176.77 290.74v1M177.28 288.87v1M177.41 290.51v1M177.64 278.35v1M177.29 290.59v1M178.11 293.39v1M178.08 294.15v1M177.98 294.37v1M178.04 291.34v1M178.1 293.75v1M178.57 292.45v1M178.37 292.99v1M178.46 293.38v1M178.52 294.48v1M179.04 288.33v1M179.05 293.46v1M179.02 287.88v1M178.86 290.02v1M179.49 293.64v1M179.49 293.86v1M179.31 292.9v1M180.06 293.53v1M180.12 292.98v1M180.28 294.25v1M180.41 293.42v1M180.29 294.47v1M180.39 293.05v1M180.3 294.52v1M180.97 289.06v1M180.96 292.58v1M180.84 289.35v1M180.79 293.85v1M181.32 291.92v1M181.5 293.17v1M181.5 292.03v1M181.83 288.88v1M181.83 291.19v1M181.84 290.97v1M181.82 291.85v1M182.61 292.51v1M182.5 294.41v1M183.11 294.11v1M183.06 292.19v1M182.97 289.31v1M182.77 293.93v1M183.61 293.04v1M183.5 292.32v1M183.58 292.59v1M183.86 291.7v1M184.13 288.77v1M183.8 292.7v1M183.9 290.37v1M184.62 291v1M184.47 291.53v1M184.96 290.27v1M185.01 291.82v1M185.09 292.22v1M184.89 291.65v1M185.44 291.73v1M185.34 290.34v1M185.44 291.33v1M185.91 290.39v1M185.86 293.6v1M186.13 293.17v1M186.01 293.62v1M186.32 293.37v1M186.54 293.51v1M186.29 294.38v1M186.39 293.84v1M186.82 293.59v1M187.06 293.58v1M186.84 293.92v1M186.76 294.21v1M186.84 294v1M187.34 288.44v1M187.39 290.12v1M187.51 290.21v1M187.92 292.91v1M188.15 293.74v1M187.89 293.87v1M188 292.77v1M188.48 285.92v1M188.42 293.52v1M188.35 293.48v1M188.84 290.25v1M188.79 289.78v1M189.61 291.77v1M189.59 290.63v1M189.63 291.19v1M189.38 291.26v1M190.09 293.02v1M190.1 292.63v1M189.89 292.96v1M190.39 291.61v1M190.64 292.06v1M190.61 285.83v1M190.9 291.17v1M191.05 272.44v1M191.11 288.68v1M190.88 280.87v1M190.97 284.05v1M191.46 295.78v1M191.29 291.31v1M191.53 295.36v1M192.12 290.19v1M191.91 290.93v1M192.64 290.88v1M192.36 291.71v1M192.77 292.91v1M193.01 291.93v1M193.07 292.84v1M192.83 290.48v1M193.31 292.55v1M193.48 293.27v1M193.36 290.1v1M193.56 293.62v1M193.27 292.22v1M193.95 293.02v1M194.08 290.07v1M193.8 291.87v1M193.98 293.05v1M194.62 294.06v1M194.5 293.43v1M194.26 290.39v1M194.52 293.52v1M194.94 292.44v1M194.83 292.84v1M194.86 288.72v1M195 286.16v1M195.28 293.69v1M195.56 293.73v1M195.27 295.49v1M195.49 292.05v1M195.55 291.42v1M195.79 293.69v1M195.82 293.47v1M196.37 296.24v1M196.59 293.87v1M196.35 293.43v1M196.38 294.21v1M196.35 295.01v1M197.06 291.77v1M197.09 293.65v1M197.35 295.99v1M197.28 296.35v1M197.54 294.18v1M197.32 296.5v1M197.87 289.09v1M197.83 288.75v1M198.07 290.05v1M197.94 291.54v1M198.42 292.29v1M198.31 284.18v1M198.31 290.06v1M198.49 290.52v1M198.38 292.63v1M198.86 291.42v1M199.07 293.39v1M199.57 292.54v1M199.45 295.37v1M199.58 291.58v1M199.38 294.03v1M199.81 291.01v1M200.07 292.74v1M200.5 294.4v1M200.6 293.33v1M200.4 292.57v1M200.34 293.93v1M200.81 289.8v1M200.84 292.02v1M200.8 291.47v1M201.44 292.42v1M201.42 289.42v1M201.53 292.61v1M201.57 288.81v1M201.91 293.05v1M202.04 291.39v1M202.11 294.17v1M202.03 293.95v1M202.38 290.94v1M202.33 294.78v1M202.35 293.86v1M202.77 296.35v1M202.79 296.29v1M202.77 288.42v1M203.5 293.6v1M203.49 294.16v1M203.64 294.44v1M203.54 293.83v1M203.75 293.59v1M203.8 292.96v1M203.77 293.63v1M203.97 293.68v1M204.76 297.12v1M204.91 295.94v1M204.71 296.38v1M204.69 293.86v1M204.55 291.84v1M205.18 297.19v1M205.33 296.35v1M205.4 296.34v1M205.21 295.32v1M205.33 295.63v1M205.66 297.16v1M205.78 296.01v1M206.16 293.86v1M206.15 295.22v1M206.1 295.16v1M206.94 294.44v1M206.89 295.45v1M206.86 295.04v1M206.94 295.86v1M206.6 295.42v1M207.23 295.99v1M207.06 295.66v1M207.21 296.85v1M207.44 296.72v1M207.15 296.46v1M207.55 295.63v1M207.69 293.66v1M208.25 294.41v1M208.4 295.24v1M208.36 296.48v1M208.14 295.02v1M208.17 295.7v1M208.72 296.18v1M208.79 297.2v1M208.81 297.32v1M208.56 297.15v1M209.13 294.85v1M209.21 296.68v1M209.24 297.08v1M209.24 296.06v1M209.24 296.63v1M209.81 295.57v1M209.68 294.78v1M210.25 297.01v1M210.08 297.17v1M210.09 297.67v1M210.93 295.82v1M210.84 291.29v1M210.67 294.55v1M210.61 295.73v1M211.39 296.47v1M211.24 296.39v1M211.23 295.38v1M211.34 296.99v1M211.55 296.02v1M211.58 297.54v1M211.69 297.57v1M211.78 296.95v1M211.64 292.08v1M212.36 296.3v1M212.16 297.23v1M212.82 286.85v1M212.68 294.01v1M212.63 293.28v1M213.23 295.2v1M213.21 294.7v1M213.27 293.41v1M213.44 295.14v1M213.16 294.42v1M213.7 294.46v1M213.82 295.65v1M213.93 295.88v1M213.94 294.84v1M214.32 294.51v1M214.11 293.88v1M214.08 294.76v1M214.59 289.79v1M214.58 293.79v1M214.77 293.52v1M214.58 290.05v1M215.24 297.19v1M215.25 297.09v1M215.58 293.78v1M215.79 292.65v1M215.82 294v1M215.63 291.73v1M216.13 296.28v1M216.14 291.6v1M216.31 294.82v1M216.12 296.07v1M216.38 294.62v1M216.8 294.75v1M216.59 294.76v1M216.84 295.31v1M216.59 295.23v1M216.76 293.68v1M217.09 296.93v1M217.13 298.38v1M217.06 297.2v1M217.86 294.44v1M217.61 293.4v1M217.94 293.44v1M218.26 295.97v1M218.4 297.78v1M218.75 295.53v1M218.68 295.1v1M218.62 295.5v1M218.59 292.89v1M218.73 294.17v1M219.29 296.4v1M219.41 295.92v1M219.57 296.55v1M219.79 296.49v1M219.56 295.87v1M220.14 293.48v1M220.08 294.84v1M220.67 297.47v1M220.6 296.9v1M220.78 297.96v1M220.58 297.95v1M220.64 293.5v1M221.45 297.02v1M221.19 296.6v1M221.22 297.57v1M221.21 297.01v1M221.41 295.5v1M221.68 291.65v1M221.71 296.4v1M221.67 297.16v1M221.87 295.92v1M221.78 295.58v1M222.28 293.55v1M222.11 295.21v1M222.09 295.07v1M222.25 294.22v1M222.36 290.91v1M222.77 295.58v1M222.86 294.16v1M222.86 293.29v1M222.88 294.48v1M223.13 295.17v1M223.23 293.76v1M223.44 292.35v1M223.4 295.66v1M223.2 294.75v1M223.83 295.84v1M223.87 294.62v1M224.41 296.34v1M224.44 296.6v1M224.56 294.82v1M224.59 294.93v1M224.84 295.24v1M224.68 294.18v1M225.38 292.15v1M225.31 292.87v1M225.88 294.16v1M225.72 293.97v1M225.85 295.38v1M225.61 294.56v1M225.91 295.29v1M226.38 294.92v1M226.23 295v1M226.17 295.46v1M226.66 295.64v1M226.64 295.88v1M227.33 293.68v1M227.2 292.47v1M227.18 294.85v1M227.07 294.92v1M227.18 294.87v1M227.9 295.65v1M227.79 297.58v1M227.82 294.98v1M227.79 294.46v1M228.12 296.09v1M228.06 295.67v1M228.27 294.19v1M228.15 295.28v1M228.7 295.64v1M228.69 295.74v1M228.66 293.72v1M228.69 294.92v1M229.34 296.49v1M229.38 297.43v1M229.14 295.11v1M229.58 294.81v1M229.77 292.07v1M230.23 292.22v1M230.45 294.91v1M230.41 290.95v1M230.27 293.98v1M230.15 294.18v1M230.8 294.87v1M230.83 293.32v1M231.18 294.98v1M231.17 295.23v1M231.05 296.01v1M231.1 296.08v1M231.93 294.65v1M231.7 295.95v1M232.18 297.57v1M232.25 298.27v1M232.23 297.2v1M232.26 298.57v1M232.4 298.48v1M232.49 294.44v1M232.61 297.37v1M232.68 296.59v1M233.52 292.35v1M233.51 293.44v1M233.94 292.86v1M234.19 291.68v1M234.02 294.24v1M234.22 292.92v1M234.09 293.18v1M234.68 292.88v1M234.4 293.08v1M234.48 292.95v1M235.23 292.18v1M235.01 291.56v1M235.68 293.35v1M235.54 291.46v1M235.55 293.35v1M235.69 289.21v1M235.42 292.43v1M236.23 294.14v1M236.09 293.97v1M236.18 294.83v1M236 293.53v1M236.61 294.63v1M236.74 293.18v1M236.56 294.74v1M236.42 293.62v1M236.62 286.1v1M236.92 294.91v1M237.21 295.25v1M237.11 289.88v1M237.37 286.84v1M237.38 292.57v1M237.66 291.94v1M238.18 293.15v1M238.09 295.59v1M238.17 295.27v1M237.9 290.75v1M238.74 294.36v1M238.67 292.65v1M238.91 295.39v1M239.19 287.04v1M239.15 296.41v1M239.58 289.54v1M239.35 294.1v1M239.57 292.61v1M239.86 293.38v1M240.23 292.74v1M240.22 293.91v1M240.05 288.92v1M240.48 295.73v1M240.41 295.98v1M240.71 295.53v1M241.13 292.06v1M240.89 290.34v1M240.91 293.25v1M241.44 294.3v1M241.53 294.54v1M241.46 290.72v1M241.55 294.3v1M242.25 294.02v1M242.09 290.05v1M241.89 293.58v1M242.18 294.75v1M242.59 293.3v1M242.61 292.44v1M242.63 291.63v1M242.87 293.55v1M242.97 293.29v1M243.12 292.4v1M242.94 293.03v1M242.96 293.45v1M243.61 292.11v1M243.58 289.13v1M243.44 294.05v1M243.73 288.57v1M244.16 294.85v1M244.11 293.04v1M244.23 289.42v1M244.07 294.69v1M244.67 294.4v1M244.36 293.14v1M244.36 293.57v1M244.45 294.86v1M244.93 294.99v1M244.9 294.86v1M245.24 294.72v1M245.48 292.34v1M245.61 291.34v1M245.61 288.03v1M245.54 293.48v1M245.66 287.46v1M246.19 296.76v1M245.89 295.63v1M246.21 293.8v1M245.87 294.69v1M246.06 296.47v1M246.38 290.9v1M246.47 293.93v1M246.44 294.5v1M246.38 295.04v1M246.92 294.86v1M247.12 294.36v1M247.04 295.67v1M247.06 295.26v1M247.02 290.94v1M247.64 294.79v1M247.4 296.23v1M247.5 286.91v1M247.38 294.82v1M247.52 295.55v1M248 295.73v1M247.92 295.53v1M247.96 293.07v1M248.58 293.53v1M248.57 290.32v1M249.19 291.41v1M249.13 293.56v1M249.62 293.89v1M249.48 291.92v1M249.42 293.8v1M249.5 291.76v1M250.19 294.3v1M249.87 289.43v1M250.22 295.21v1M249.86 295.32v1M249.89 294.24v1M250.42 296.61v1M250.49 291.64v1M250.93 292.32v1M251.2 286.39v1M250.98 289.58v1M250.9 293.89v1M251.11 295.18v1M251.66 284.37v1M251.75 291.52v1M251.55 294.49v1M252.22 290.7v1M251.88 293.55v1M252.13 294.63v1M252.13 292.94v1M252.63 286.53v1M252.68 294.37v1M252.38 291.3v1M253.23 294.41v1M253.14 292.43v1M252.9 294.52v1M253.23 293.98v1M252.94 292.02v1M253.41 292.2v1M253.54 292.69v1M253.5 293.1v1M253.44 291.72v1M253.47 291.83v1M254.06 293.17v1M254.02 293.22v1M254.4 292.03v1M254.64 293.6v1M254.65 293.44v1M254.93 285.73v1M255.07 295.36v1M255.72 296.04v1M255.73 295.5v1M255.73 295.13v1M256.01 293.24v1M255.91 293.94v1M256.2 291.23v1M256.68 291.75v1M256.71 294.41v1M257.1 290.39v1M257.24 294.19v1M256.89 293.36v1M257.4 295.17v1M257.57 294.01v1M257.7 292.09v1M257.56 292.95v1M257.45 295.12v1M257.93 296.1v1M258.12 294.39v1M258.22 292.81v1M258.07 295.75v1M258.38 291.98v1M258.7 295.37v1M258.58 294.33v1M259.16 292.21v1M259.16 284.53v1M259.13 290.64v1M259 292.18v1M259 291.01v1M258.91 291.45v1M258.99 292.56v1M258.92 293.99v1M258.91 293.81v1M258.97 292.39v1M260.12 293.76v1M259.8 293.43v1M259.86 287.48v1M259.86 291.43v1M260 292.04v1M260.31 290.02v1M260.4 288.25v1M260.57 289.59v1M260.53 290.81v1M260.34 286.04v1M261.13 290.62v1M261.14 289.45v1M261.65 292.77v1M261.38 291.69v1M261.83 287.51v1M262.11 287.56v1M262.27 288.96v1M262.43 290.42v1M262.3 290.84v1M262.91 289.51v1M262.91 290.47v1M262.88 290.49v1M262.97 288.39v1M263.03 288.61v1M263.63 295.44v1M263.57 294.71v1M263.57 295.32v1M263.82 296.61v1M264.05 296.26v1M263.97 294.45v1M263.92 295.06v1M263.83 296.6v1M264.57 289.45v1M264.55 293.49v1M264.44 293.01v1M264.35 290.83v1M264.64 288.83v1M264.84 292.64v1M264.99 293v1M264.85 292.31v1M265.39 289.93v1M265.36 289.73v1M266.02 291.53v1M266.11 291.68v1M266.51 281.1v1M266.49 287.78v1M266.48 287.79v1M266.26 288.59v1M266.99 282.92v1M266.79 285.63v1M266.97 286.07v1M267.51 290.09v1M267.6 290.22v1M267.59 287.48v1M267.54 286.98v1M267.48 287.65v1M267.8 288.57v1M267.95 290.41v1M268.56 292.67v1M268.56 291.75v1M268.31 292.65v1M268.56 290.77v1M268.29 293.03v1M268.81 289.44v1M268.83 292.14v1M268.87 293.48v1M269.14 289.93v1M269.58 286.57v1M269.5 295.58v1M269.28 295.62v1M269.97 293.61v1M269.93 289.66v1M269.83 293.14v1M270.45 290.21v1M270.6 291.22v1M270.62 290.47v1M270.59 289.9v1M271.13 291.32v1M271.07 289.16v1M271.12 290.6v1M271.02 291.52v1M270.94 284.79v1M271.29 292v1M271.41 291.03v1M271.54 288.48v1M271.61 292.33v1M271.53 289.48v1M271.97 285.82v1M272.06 286.71v1M272.14 288.94v1M272.47 279.82v1M272.25 280.04v1M272.45 275.05v1M273.08 286.52v1M272.88 287.43v1M273.34 283.62v1M273.34 286.58v1M273.45 288v1M273.47 285v1M273.57 287v1M274.09 287.06v1M274.02 290.44v1M273.98 288.57v1M274.6 291.66v1M274.57 290.93v1M275.03 289.73v1M274.94 292.66v1M274.95 292.46v1M275.48 294.55v1M275.27 294.22v1M275.46 294.32v1M275.96 294.18v1M275.8 296.08v1M276.06 294.58v1M275.76 295.17v1M276.08 295.88v1M276.53 292.35v1M276.59 291.01v1M276.65 292.5v1M276.96 292.22v1M276.88 291.36v1M276.77 287.61v1M276.97 290.6v1M277.46 288.82v1M277.45 286.71v1M277.5 287.15v1M277.56 284.36v1M277.92 288.1v1M277.77 294.13v1M277.97 291.77v1M277.76 293.92v1M278.49 285.89v1M278.27 282.01v1M278.65 286.49v1M278.33 286v1M278.88 290.15v1M279.03 290.25v1M279.47 292.5v1M279.63 289.11v1M279.3 289.24v1M280.02 285.1v1M279.99 283.16v1M280.34 297.38v1M280.38 293.4v1M280.49 288.35v1M280.92 290.05v1M280.87 292.06v1M280.95 292.08v1M280.84 290.55v1M281 289.46v1M281.51 294.05v1M281.26 293.1v1M281.91 292.03v1M282.11 290.71v1M281.92 292.49v1M281.81 290.48v1M281.87 292.93v1M282.41 287.05v1M282.26 288.96v1M282.63 286.73v1M283.13 288.76v1M283.05 287.29v1M282.9 289.97v1M283.47 288.29v1M283.28 285.74v1M283.26 284.69v1M283.28 288.75v1M283.39 285.74v1M283.47 284v1M283.36 287.93v1M284.56 298.65v1M284.61 298.56v1M284.34 298.97v1M285.01 300.29v1M284.79 299.64v1M285.51 299.46v1M285.49 295.94v1M285.78 297.09v1M286.02 296.07v1M286.1 294.19v1M286.02 297.61v1M286.13 297.65v1M286.63 300.25v1M286.5 299.76v1M286.63 296.9v1M286.84 299.83v1M286.79 300.21v1M287.62 297.63v1M287.55 299.7v1M287.85 300.98v1M287.99 301.07v1M288.02 297.29v1M287.88 300.33v1M288.6 301.34v1M288.61 301.23v1M288.25 297.69v1M288.56 301.22v1M288.62 300.52v1M288.82 298.7v1M288.78 300.9v1M289.54 299.36v1M289.35 299.64v1M289.53 300.63v1M290.06 297.78v1M290.06 296.69v1M290.3 298.94v1M290.5 298.64v1M290.39 297.78v1M290.89 299.44v1M290.89 299.17v1M290.99 299.2v1M290.92 297.97v1M291.31 300.3v1M291.29 300.46v1M294.14 299.64v1M294.04 298.15v1M293.92 297.88v1M294.41 299.22v1M294.56 300.66v1M294.46 300.61v1M294.94 300.59v1M294.93 299.41v1M295.17 299.59v1M295.13 300.65v1M295.53 300.48v1M295.61 298.32v1M295.43 301.01v1M295.65 301.14v1M295.69 300.69v1M296.08 300.22v1M296.17 299.43v1M296.01 299.81v1M296.34 296.39v1M296.55 294.77v1M296.38 291.56v1M297 297.96v1M296.89 300.24v1M296.97 299.51v1M297.5 297.49v1M297.68 295.22v1M298.02 300.12v1M298.07 297.64v1M297.97 300.84v1M298.33 299.28v1M298.43 297.76v1M299.06 298.85v1M298.84 297.38v1M299.09 297.94v1M299.06 298.54v1M299.43 294.6v1M299.55 293.68v1M299.66 297.09v1M300.14 301.03v1M299.83 298.49v1M300.1 300.28v1M300.43 300.52v1M300.54 298.31v1M300.54 292.73v1M300.49 300.48v1M300.64 299.58v1M301.07 300.79v1M301.12 303.57v1M300.94 302.35v1M300.93 298.91v1M301.67 297.36v1M301.46 299.29v1M301.88 299.93v1M302.04 299.89v1M302.09 299.48v1M301.93 299.66v1M301.86 299.99v1M302.45 298.1v1M302.41 298.04v1M303 300.19v1M302.94 302.63v1M303.08 303.01v1M302.99 301.53v1M303.3 301.28v1M303.37 300.47v1M304.04 300.05v1M304.07 299.71v1M303.89 298.69v1M303.84 296.3v1M304.61 301.31v1M304.63 300.83v1M304.35 299.55v1M304.63 301.35v1M304.46 300.18v1M304.83 298.28v1M304.82 299.45v1M305.06 299.75v1M305.13 299.28v1M305.02 299.41v1M305.59 300.74v1M305.46 301.96v1M305.86 298.62v1M306.11 298.76v1M305.84 299.02v1M306.16 297.97v1M306.1 298.35v1M306.63 298.83v1M306.66 297.56v1M306.57 298.12v1M306.48 295.13v1M306.69 297.25v1M306.94 300.01v1M306.9 301.08v1M306.77 299.84v1M307.74 300.68v0.9M307.76 302.8v0.9M307.73 300.26v0.9M308.31 302.88v0.9M308.47 294.75v0.9M308.48 303.3v0.9M308.95 302.9v0.9M308.82 301.28v0.9M309.4 300.94v0.9M309.44 301.18v0.9M309.18 303.18v0.9M310.02 303v0.9M309.85 302.19v0.9M309.99 302.03v0.9M309.98 302.2v0.9M310.42 301.58v0.9M310.39 296.82v0.9M310.46 299.51v0.9M310.29 293.1v0.9M310.71 302.67v0.9M310.75 302.66v0.9M310.73 301.59v0.9M311.02 297.22v0.9M311.42 302.32v0.9M311.45 301.93v0.9M311.37 300.88v0.9M312.02 301.93v0.9M311.78 302.79v0.9M312.01 301.19v0.9M311.81 303v0.9M312.32 302.94v0.9M312.23 300.12v0.9M312.18 301.58v0.9M312.75 302.91v0.9M313.04 302.57v0.9M313.19 302.24v0.9M313.21 300.36v0.9M313.44 300.98v0.9M313.44 301.84v0.9M313.76 301.59v0.9M313.79 297.17v0.9M313.68 301.13v0.9M314.44 298.5v0.9M314.36 303.24v0.9M314.47 303.05v0.9M314.45 302.4v0.9M314.98 301.7v0.9M314.85 300.56v0.9M314.69 296.83v0.9M315.5 301.86v0.9M315.21 301.35v0.9M316.02 299.03v0.9M315.98 297.9v0.9M315.86 303.26v0.9M315.67 297.83v0.9M316.18 302.71v0.9M316.29 302.41v0.9M316.36 301.44v0.9M316.54 301.54v0.9M317.04 299.97v0.9M316.96 303.21v0.9M316.8 303.27v0.9M316.84 300.32v0.9M317.55 302.54v0.9M317.42 301.89v0.9M317.43 303.11v0.9M317.4 301.22v0.9M318.04 301.96v0.9M317.78 302.7v0.9M317.66 297.41v0.9M318.4 301.11v0.9M318.47 302.53v0.9M318.35 302.95v0.9M319.01 302.18v0.9M318.91 300.94v0.9M319.46 303.04v0.9M319.18 300.19v0.9M319.29 299.51v0.9M320.03 301.07v0.9M319.71 298.59v0.9M319.95 301.82v0.9M319.9 296.82v0.9M320.27 301.56v0.9M320.39 300.2v0.9M320.3 298.62v0.9M320.37 299.44v0.9M320.78 302.56v0.9M320.7 300.78v0.9M320.82 299.52v0.9M321.31 296.29v0.9M321.44 299.39v0.9M322 301.48v0.9M321.75 302.97v0.9M321.9 302.14v0.9M322.25 301.35v0.9M322.24 298.72v0.9M322.68 303.12v0.9M322.77 303.22v0.9M322.74 302.82v0.9M322.77 300.81v0.9M323.36 294.71v0.9M323.42 302.26v0.9M323.72 299.69v0.9M323.99 302.63v0.9M324.44 297.3v0.9M324.2 301.26v0.9M324.17 303.12v0.9M324.82 302.42v0.9M325.05 295.66v0.9M324.97 301.61v0.9M325.18 303.09v0.9M325.52 302.75v0.9M326.01 302.84v0.9M325.91 300.69v0.9M326.51 301.8v0.9M326.35 297.39v0.9M327.02 300.93v0.9M326.84 303.24v0.9M326.96 302.41v0.9M326.68 299.95v0.9M327.34 300.77v0.9M327.52 302.42v0.9M327.48 303.29v0.9M327.91 302.86v0.9M327.81 302.78v0.9M327.82 302.57v0.9M327.71 299.93v0.9M328.29 303.08v0.9M328.47 302v0.9M328.65 301.04v0.9M329.02 300.88v0.9M328.77 302.7v0.9M328.92 302.65v0.9M329.48 302.03v0.9M329.24 301.86v0.9M329.46 302.2v0.9M329.75 303.24v0.9M329.89 302.21v0.9M329.68 300.41v0.9M329.9 301.93v0.9M330 302.36v0.9M330.83 297.19v1M330.58 300.6v1M330.6 300.61v1M331.08 299.46v1M331.32 300.41v1M331.21 301.32v1M331.62 299.63v1M331.82 299.43v1M331.73 298.45v1M331.67 298.63v1M332.17 300.21v1M332.07 300.31v1M332.79 297.07v1M332.65 293.91v1M332.81 300.5v1M333.09 299v1M333.11 298.81v1M333.34 299.65v1M333.21 299.84v1M333.34 299.84v1M333.85 298.07v1M333.81 295.77v1M334.19 302.23v1M334.1 301.45v1M334.11 301.66v1M334.3 301.92v1M334.85 298.57v1M334.87 298.58v1M334.94 297.72v1M334.7 297.69v1M335.06 299.2v1M335.34 298.94v1M335.57 298.78v1M335.64 298.31v1M336.13 297.7v1M336.29 297.79v1M336.44 295.46v1M336.07 298.22v1M336.42 298.43v1M336.91 300.75v1M336.73 301.02v1M336.66 298.25v1M336.75 300.67v1M336.66 300.56v1M337.16 298.02v1M337.1 295.95v1M337.38 298.42v1M337.14 296.98v1M337.6 296.48v1M337.59 296.7v1M337.68 298.97v1M338.43 299.05v1M338.21 299.6v1M338.3 298.86v1M338.25 296.89v1M338.7 297.45v1M338.76 295.06v1M338.63 289.88v1M338.56 297.23v1M338.59 297.48v1M339.33 299.45v1M339.3 299.18v1M339.37 298.24v1M339.11 297.98v1M339.31 298.17v1M339.57 295.85v1M339.86 297.1v1M340.3 298.86v1M340.33 291.83v1M340.62 298.18v1M340.73 297.22v1M340.88 298.92v1M341.42 298.25v1M341.14 298.18v1M341.56 298.18v1M341.67 295.01v1M341.71 298.17v1M341.66 296.77v1M341.55 297.2v1M342.25 300.63v1M342.31 299.65v1M342.58 298.43v1M342.81 300.14v1M343.12 301.11v1M343.21 299.77v1M343.36 299.87v1M343.38 299.65v1M343.62 299.37v1M343.73 299.09v1M344.39 297.15v1M344.41 296.86v1M344.43 298.38v1M344.06 295.83v1M344.89 299.43v1M344.61 299.03v1M344.55 300.01v1M344.6 299.48v1M345.44 298.93v1M345.16 294.79v1M345.22 297.79v1M345.25 297.21v1M345.44 298.09v1M345.64 299.27v1M345.88 295.45v1M345.58 298.85v1M345.95 296.82v1M346.14 298.45v1M346.44 298.2v1M346.36 295.86v1M346.66 297.69v1M346.85 299.5v1M346.83 296.67v1M347.39 296.79v1M347.43 295.77v1M347.27 296.74v1M347.07 296.38v1M347.06 297.77v1M347.91 299.22v1M347.85 299.3v1M347.57 300.34v1M347.63 298.49v1M347.63 299.72v1M348.12 301.18v1M348.18 301.38v1M348.83 300.1v1M348.93 301.21v1M348.94 301.59v1M349.15 300.58v1M349.13 299.82v1M349.05 299.29v1M349.15 300.57v1M349.93 296.43v1M349.91 298.36v1M349.75 294.49v1M350.44 299.67v1M350.16 301.1v1M350.62 300.67v1M350.81 298.4v1M350.85 301.79v1M350.62 300.82v1M351.2 296.68v1M351.16 295.48v1M351.09 299.69v1M351.16 299.88v1M351.6 300.63v1M351.75 300.16v1M351.76 300.2v1M351.81 300.18v1M351.8 297.62v1M351.85 295.9v1M351.99 298.83v1M351.76 294.47v1M352 297.93v1M352.82 298.84v1M352.64 295.39v1M353.4 298.01v1M353.19 300.5v1M353.1 298.32v1M353.35 299.88v1M353.32 300.07v1M353.86 302.26v1M353.92 301.8v1M353.88 301.26v1M354.13 298.61v1M354.43 298.54v1M354.05 298.27v1M354.38 298.85v1M354.37 298.99v1M354.93 298.7v1M354.93 299.27v1M354.79 298.31v1M354.76 295.73v1M354.87 298.85v1M355.35 301.32v1M355.16 301.07v1M355.07 300.78v1M355.21 300.22v1M355.6 298.02v1M355.78 298.9v1M355.81 297.2v1M355.7 298.07v1M356.23 298.93v1M356.1 299.34v1M356.11 299.17v1M356.41 298.1v1M356.58 300.07v1M356.9 299.13v1M357.33 299.79v1M357.39 300.22v1M357.3 299.23v1M357.26 295.93v1M357.35 299.51v1M357.79 299.04v1M357.65 296.08v1M357.78 297.92v1M357.6 297.61v1M358.38 297.63v1M358.27 297.22v1M358.1 297.23v1M358.65 297.57v1M358.86 297.55v1M358.64 299.8v1M358.77 301.12v1M359.13 300.37v1M359.26 299.23v1M359.39 300.65v1M359.8 296.48v1M359.83 299.3v1M359.94 298.62v1M360.19 300.8v1M360.32 302.93v1M360.07 302.51v1M360.18 298.96v1M360.68 303.63v1M360.94 303.38v1M360.83 302.97v1M361.4 297.26v1M361.23 300.56v1M361.16 300.85v1M361.4 297.94v1M361.1 300.69v1M361.81 295.9v1M361.85 299.34v1M361.86 296.85v1M361.76 298.73v1M362.32 297.31v1M362.41 299.8v1M362.45 300.07v1M362.43 300.22v1M362.57 300.56v1M362.77 300.94v1M362.8 301.26v1M363.18 300.58v1M363.13 299.82v1M363.85 301.78v1M363.89 301.95v1M363.9 302.32v1M363.75 302.13v1M363.75 300.14v1M364.26 299.3v1M364.27 299.31v1M364.11 299.11v1M364.38 299.36v1M364.2 298.98v1M364.63 300.7v1M364.92 300.82v1M364.92 298.04v1M365.33 298.7v1M365.31 299.21v1M365.13 299.1v1M365.7 300.82v1M365.82 301.72v1M365.67 301.93v1M366.39 298.14v1M366.32 297.21v1M366.31 297.79v1M366.35 297.43v1M366.4 298.05v1M366.91 302.09v1M366.77 302.55v1M366.75 299.59v1M366.75 302.4v1M367.24 297.17v1M367.36 296.02v1M367.21 297.34v1M367.32 297.11v1M367.75 299.38v1M367.57 300.37v1M367.87 300.55v1M368.3 299.65v1M368.17 298.61v1M368.29 299.33v1M368.43 299.68v1M368.93 298.3v1M368.92 296.44v1M368.6 298.04v1M368.87 297.04v1M368.91 297.64v1M369.18 300.64v1M369.32 300.29v1M369.11 299.8v1M369.3 300.79v1M369.83 297.22v1M369.76 298.4v1M369.85 298.19v1M370.2 302.7v1M370.31 301.74v1M370.82 297.74v1M370.77 298.37v1M370.68 297.91v1M370.86 297.54v1M370.8 296.1v1M371.06 297.42v1M371.26 299.83v1M371.24 300.73v1M371.68 302.43v1M371.66 301.06v1M371.91 302.11v1M372.35 299.92v1M372.22 300.05v1M372.07 298.87v1M372.93 300.71v1M372.92 300.5v1M372.75 300.37v1M372.57 300.68v1M373.19 296.75v1M373.43 300.23v1M373.83 299.65v1M373.84 298.66v1M373.6 299.21v1M373.93 299.53v1M374.23 300.95v1M374.13 301.25v1M374.33 302.11v1M397.75 303.12v0.9M397.58 297.99v0.9M397.74 296.78v0.9M398.08 296.75v0.9M397.94 303.11v0.9M398.02 301.39v0.9M398.46 301.95v0.9M398.51 301.81v0.9M398.52 302.37v0.9M398.63 299.72v0.9M399 302.77v0.9M399.01 300.52v0.9M398.99 300.47v0.9M399.7 302.64v0.9M399.72 301.64v0.9M400.12 302.34v0.9M400.17 301.55v0.9M399.94 301.46v0.9M400.3 302.67v0.9M400.51 299.12v0.9M400.59 300.1v0.9M400.56 303.29v0.9M401.3 302.97v0.9M400.95 299.18v0.9M401.54 300.41v0.9M401.73 292v0.9M401.56 301.44v0.9M402.02 302.42v0.9M401.95 302.59v0.9M401.94 299.95v0.9M402.62 297.11v0.9M402.41 302.17v0.9M402.54 295.68v0.9M402.95 302.28v0.9M403.05 302.6v0.9M403.08 301.17v0.9M403.05 302.65v0.9M403.73 294.93v0.9M403.55 302.36v0.9M403.57 301.47v0.9M403.78 301.02v0.9M404.12 301.57v0.9M404.17 302.99v0.9M404.16 301.14v0.9M404.28 301.88v0.9M404.49 302.76v0.9M404.42 300.6v0.9M404.48 302.67v0.9M404.99 301.62v0.9M405.26 298.37v0.9M405.23 303.16v0.9M405.55 299.58v0.9M405.74 303.21v0.9M406 302.51v0.9M406.01 302.53v0.9M406.63 303.13v0.9M406.45 303.1v0.9M406.47 301.07v0.9M406.4 300.84v0.9M407.19 301.1v0.9M407.25 300.1v0.9M407.57 301.66v0.9M407.58 298.97v0.9M407.63 303.27v0.9M408.2 302.75v0.9M407.93 302.17v0.9M408.47 302.29v0.9M408.75 303.18v0.9M409.23 299.57v0.9M409.2 302.47v0.9M409.55 300.49v0.9M409.61 303.25v0.9M409.67 300.29v0.9M410.22 302.79v0.9M410 301.22v0.9M410.01 301.09v0.9M409.92 301.88v0.9M410.41 302.89v0.9M410.74 302.51v0.9M411.13 302.59v0.9M411 297.14v0.9M411.28 303.18v0.9M411.25 301.7v0.9M411.73 298.25v0.9M411.78 301.48v0.9M411.59 300.95v0.9M411.72 296.33v0.9M415.39 300.12v1M415.34 299.86v1M415.06 302.11v1M415.1 300.99v1M415.23 296.14v1M415.7 296.79v1M415.56 299.44v1M416.2 299.89v1M416.33 299.77v1M416.27 299.84v1M416.01 300.82v1M416.14 300.97v1M416.57 297.18v1M416.82 300.87v1M417.05 298.14v1M417.37 299.17v1M417.87 301.24v1M417.84 301.03v1M417.6 300.7v1M418.16 295.52v1M418.39 296.72v1M418.19 297.82v1M418.79 298.9v1M418.73 299.58v1M418.82 296.17v1M418.61 299.89v1M419.4 299.6v1M419.07 299.89v1M419.04 297.04v1M419.25 297.27v1M419.2 297.35v1M419.53 301.91v1M419.86 296.56v1M419.8 300.88v1M420 301.57v1M420.24 300.86v1M420.11 299.01v1M420.82 297.07v1M420.77 298.59v1M420.5 297.79v1M421.32 298.41v1M421.25 300.32v1M421.29 300.57v1M421.12 300.71v1M421.04 300.57v1M421.51 297.33v1M421.58 297.7v1M422.27 298.22v1M422.39 299.44v1M422.23 299.73v1M422.24 297.93v1M422.84 300.53v1M422.89 299.47v1M422.7 293.9v1M423.1 297.82v1M423.04 297.36v1M423.8 299.87v1M423.9 299.62v1M424.28 299.41v1M424.17 299.48v1M424.73 298.3v1M424.82 298.76v1M424.87 297.61v1M424.85 300.28v1M424.63 300.91v1M425.01 298.34v1M425.16 299.83v1M425.58 300.22v1M425.73 300.67v1M425.76 301.21v1M425.88 301.28v1M425.59 300.67v1M426.04 301.2v1M426 301.51v1M426.21 301.02v1M426.87 299.82v1M426.74 299.75v1M426.56 299.9v1M426.75 299.39v1M427.16 299.97v1M427.18 300.03v1M427.02 299.37v1M427.03 297.37v1M427.86 298.92v1M427.89 294.55v1M427.54 297.11v1M427.79 294.01v1M428.11 298.13v1M428.28 299.44v1M428.01 294.36v1M428.11 299.19v1M428.6 298.18v1M428.73 298.49v1M428.81 299.87v1M428.53 299.64v1M429.27 298.56v1M429.18 298.96v1M430.13 298.83v1M429.88 300.47v1M430.24 300.93v1M430.56 295.33v1M430.61 297.3v1M430.49 297.45v1M431.11 296.89v1M431.19 298.66v1M431.75 299.88v1M431.65 300.16v1M431.56 299.88v1M431.96 299.35v1M432.02 297.78v1M432.22 298.22v1M432.06 299.24v1M431.88 298.75v1M432.61 297.39v1M432.57 296.05v1M432.64 297.99v1M432.85 300.21v1M432.94 300.65v1M433.06 299.03v1M433.49 297.3v1M433.73 296.98v1M433.48 298.58v1M433.56 298.67v1M434.22 303.05v1M433.88 303v1M434.23 302.35v1M434.46 298.68v1M434.68 299.92v1M434.47 299.67v1M434.49 297.98v1M435.08 301.45v1M435.08 299.98v1M435.57 294.77v1M435.72 299.23v1M435.5 298.31v1M435.39 299.46v1M435.96 296.53v1M436.11 297.27v1M435.9 295.53v1M435.93 297.18v1M436.61 294.45v1M436.73 298.9v1M436.45 298.27v1M436.46 297.03v1M436.75 298.86v1M436.94 296.76v1M437.04 297.43v1M436.9 294.92v1M437.18 298.55v1M437.46 298.41v1M437.65 299.17v1M437.44 299.41v1M437.43 299.77v1M438.11 300.97v1M438.23 298.49v1M437.94 297.9v1M437.92 301.2v1M438.48 300.27v1M438.73 300.23v1M438.39 300.37v1M438.57 299.51v1M438.9 300.84v1M438.93 300.61v1M439.51 299.65v1M439.47 299.22v1M439.59 297.47v1M439.57 290.73v1M439.57 297.6v1M440.01 299.08v1M440.01 300.18v1M440.43 299.68v1M440.6 300.68v1M440.52 299.35v1M440.64 297.64v1M441.07 300.81v1M441.07 300.88v1M441.7 300.04v1M441.46 299.86v1M441.43 296.88v1M441.7 298.16v1M441.87 298.05v1M442.07 298.23v1M441.88 293.88v1M441.85 298.39v1M442.43 300.48v1M442.55 298.86v1M442.5 299.6v1M442.48 296.27v1M443.24 298.53v1M442.92 298.42v1M443.36 297.31v1M443.68 298.68v1M443.39 299.16v1M443.7 299.15v1M443.65 299.67v1M444.06 293v1M443.89 297.81v1M444.2 297.32v1M444.58 300.01v1M444.57 297.32v1M444.6 299.42v1M444.32 294.24v1M444.27 297.1v1M445.52 291.63v1M445.2 298.61v1M445.43 299.72v1M445.49 299.52v1M445.7 300.07v1M445.76 299.5v1M446.3 296.89v1M446.18 295.81v1M446.95 297.38v1M446.88 297.66v1M447.46 298.79v1M447.19 298.61v1M447.47 298.7v1M447.34 297.63v1M447.27 298.41v1M447.86 293.16v1M447.91 294.75v1M447.72 296.4v1M447.96 293.59v1M448.46 293.81v1M448.33 292.18v1M448.17 293.9v1M448.23 295.22v1M448.99 295.07v1M448.82 297.83v1M449.25 296.82v1M449.25 293.52v1M449.19 297.35v1M449.18 296.34v1M449.78 295.98v1M449.74 296.25v1M449.75 293.61v1M450 295.02v1M450.52 298.08v1M450.54 299.66v1M450.26 299.64v1M450.48 300.06v1M450.27 295.93v1M450.97 299.72v1M451.01 299.49v1M450.85 298.12v1M450.7 293.65v1M450.66 299.44v1M451.36 294.43v1M451.29 297.24v1M451.29 298.87v1M452.04 298.03v1M451.74 295.5v1M452 298.17v1M452.25 296.63v1M452.44 296.62v1M452.44 296.54v1M452.15 295.68v1M452.77 299.3v1M452.98 299.84v1M452.91 299.46v1M452.66 296.21v1M453.54 299.39v1M453.42 297.5v1M453.2 299.68v1M453.18 299.33v1M453.95 291.97v1M453.66 294.3v1M454.54 295.6v1M454.46 297.56v1M454.28 296.27v1M454.24 298.22v1M454.52 297.14v1M454.93 296.01v1M454.78 297.35v1M454.93 296.37v1M454.85 298.8v1M455.31 296.49v1M455.19 295.16v1M455.75 299.98v1M455.74 296.56v1M455.85 299.89v1M456.02 296.44v1M456.18 296.31v1M456.32 299.25v1M456.51 298.84v1M456.36 298.73v1M456.91 290.17v1M456.82 296.24v1M457.43 294.98v1M457.5 297.29v1M457.98 296.64v1M457.87 296.28v1M458.09 297.5v1M458.31 297.05v1M458.35 297.42v1M458.07 297.61v1M458.19 297.57v1M459.07 277.97v1M459.01 279.3v1M459.06 283.8v1M459.79 282.33v1M459.81 282.66v1M459.68 284.4v1M460.26 287.18v1M460.1 282.38v1M460.07 286.54v1M460.11 282.89v1M460.58 284.62v1M460.7 283.71v1M460.67 277.55v1M460.5 282.8v1M460.75 283.3v1M461.29 280.92v1M461.28 281.61v1M461.35 283.35v1M461 285.94v1M461.72 280.75v1M461.54 278.72v1M461.73 282.43v1M461.84 282.25v1M462.21 273.68v1M462.25 282.81v1M462.1 281.88v1M462.19 280.36v1M462.68 279.05v1M462.8 286.11v1M462.64 270.92v1M463.24 285v1M462.98 281.15v1M463.14 284.89v1M463.22 284.93v1M463.13 285.04v1M463.55 281.78v1M463.79 283.84v1M463.52 281.97v1M464 284.19v1M464.25 284.92v1M464.21 281.59v1M464.06 281.71v1M464.75 283.13v1M464.69 284.86v1M465.12 281.06v1M465.07 282.15v1M465.1 273.77v1M465.65 284.67v1M465.76 284.92v1M465.58 282.05v1M465.96 279.44v1M466.09 276.51v1M466.33 283.71v1M466.79 284.22v1M466.82 282.75v1M466.55 279.93v1M466.62 286.14v1M467.3 281.33v1M467.2 284.17v1M467.12 285.24v1M467.17 281.07v1M467.14 285.52v1M467.47 283.54v1M467.63 285.69v1M468.22 276.37v1M468.21 274.73v1M468.01 277.22v1M468.72 285.52v1M468.46 284.77v1M468.76 285.73v1M469.32 284.17v1M469.11 278.76v1M469.08 286.25v1M469.12 286.98v1M469.33 283.1v1M469.46 279.96v1M469.7 283.3v1M469.98 287.11v1M470.32 286.35v1M470.07 283.33v1M470.23 286.13v1M470.77 282.78v1M470.68 281v1M470.49 281.98v1M470.96 279.8v1M471.11 287.63v1M471.29 288.54v1M471.81 284.47v1M471.49 282.83v1M471.57 284.98v1M471.74 279.84v1M471.72 281.39v1M471.75 280.29v1M471.63 269.61v1M472.43 296.66v1M472.41 292.99v1M473.08 296.62v1M472.87 297.87v1M472.86 297.78v1M473.16 297.46v1M473.44 297.37v1M473.7 297.21v1M473.86 292.79v1M474.19 294.9v1M473.97 290v1M474.02 294.83v1M474.15 293.67v1M474.63 288.87v1M474.6 292.04v1M474.6 296.32v1M475.08 295.41v1M475.21 293.79v1M475.07 296.35v1M474.87 293.5v1M475.46 294.25v1M475.61 296.34v1M475.57 295.73v1M476.18 294.52v1M476.08 296.94v1M476.4 293.65v1M476.72 295.5v1M476.54 295.24v1M476.85 293.28v1M477.03 296.07v1M476.9 294.74v1M477.15 294.58v1M477.58 298.34v1M477.56 297.09v1M477.61 297.56v1M478.13 289.77v1M477.87 294.08v1M477.99 295.63v1M478.14 295.19v1M478.18 295.78v1M478.46 296.16v1M478.35 295.94v1M478.97 292.38v1M478.9 292.34v1M479 294.83v1M479.12 294.14v1M479.14 294.2v1M479.37 297.13v1M479.61 296.76v1M479.47 295.94v1M479.5 295.08v1M479.7 295.92v1M480.06 294v1M480.2 295.5v1M480.73 297.05v1M480.64 297.77v1M480.57 297.74v1M480.36 298.09v1M480.43 296.02v1M480.9 294.38v1M481.15 295.08v1M480.97 293.9v1M481.39 298.58v1M481.4 296.96v1M481.37 299.17v1M482.02 298.64v1M481.98 296.73v1M481.74 298.18v1M482.84 292.42v1M482.81 285.15v1M482.76 292.7v1M482.94 290.67v1M482.65 290.29v1M483.32 290.58v1M483.26 290.14v1M483.34 291.18v1M483.13 289.65v1M483.58 287.59v1M483.89 290.58v1M483.55 291.64v1M483.58 292.08v1M484.06 291.28v1M484.41 292.59v1M484.39 293.69v1M484.09 289.25v1M484.64 289.64v1M484.91 291.45v1M484.86 290.44v1M485.16 292.99v1M485.21 290.2v1M485.8 291.58v1M485.91 288.56v1M485.61 289.18v1M486.37 292.98v1M486.3 289.19v1M486.34 293.29v1M486.83 289.92v1M486.86 290.61v1M486.71 292.29v1M487.26 292.64v1M487.29 292.69v1M487.11 293.21v1M487.4 291.26v1M487.28 290.32v1M487.93 289.05v1M487.92 290.55v1M487.62 289.65v1M487.94 290.45v1M488.26 290.73v1M488.4 287.41v1M488.65 292.21v1M488.94 291.94v1M488.83 291.82v1M489.44 294.33v1M489.25 294.17v1M489.37 291.85v1M489.56 290.34v1M489.65 290.45v1M489.73 289.74v1M489.81 290.85v1M489.56 290.03v1M490.1 292.41v1M490.38 292.42v1M490.31 291.76v1M490.82 294.69v1M490.77 293.92v1M490.67 292.16v1M490.55 294.73v1M491.33 293.72v1M491.22 294.69v1M491.94 290.02v1M491.72 289.42v1M491.76 291.87v1M492.12 293.13v1M492.44 292.8v1M492.35 292.82v1M492.1 288.78v1M492.93 293.56v1M492.59 291.03v1M492.81 292.4v1M492.9 292.48v1M492.79 292.24v1M493.05 289.95v1M492.81 291.02v1M495.69 292.56v1M495.62 293.9v1M495.94 295.41v1M495.77 295.55v1M496.32 296.06v1M496.3 296.69v1M496.42 296.93v1M496.83 297.1v1M496.64 297.94v1M496.71 295.96v1M496.8 293.58v1M497.23 296.92v1M497.26 295.31v1M497.13 296.88v1M497.44 292.37v1M497.81 296.88v1M497.94 295.72v1M497.74 297.49v1M497.76 295.73v1M498.18 297.18v1M498.39 297.04v1M498.29 297.23v1M498.83 295.93v1M498.61 295.31v1M498.85 295.99v1M499.26 296.6v1M499.14 294.4v1M499.35 296.15v1M499.34 293.63v1M499.15 289.75v1M499.99 296.92v1M499.85 296.88v1M499.85 297.87v1M499.85 292.29v1M499.69 297.55v1M500.34 298.36v1M500.24 297.22v1M500.18 295.94v1M500.81 296.63v1M500.92 297.04v1M500.63 296.72v1M501.39 295.32v1M501.17 294.77v1M501.31 290.74v1M501.32 295.48v1M501.2 295.55v1M503.9 293.35v1M503.73 294.17v1M503.9 293.52v1M504.17 295.04v1M504.28 292.07v1M504.4 293.61v1M504.19 295.69v1M504.88 292.99v1M504.71 295.41v1M504.95 294.75v1M504.81 292.11v1M505.16 295.71v1M505.19 294.91v1M505.11 294.8v1M505.31 295.77v1M505.9 288.99v1M505.86 291.84v1M505.69 292.36v1M505.79 293.67v1M506.2 294.76v1M506.43 296.57v1M506.1 295.64v1M506.18 295.59v1M506.88 291.81v1M506.71 289v1M506.9 291.78v1M507.43 288.07v1M507.35 292.18v1M507.18 294.97v1M507.4 295.29v1M507.2 294.85v1M507.96 295.71v1M507.83 295.26v1M507.79 294.57v1M507.94 296.44v1M508.35 291.67v1M508.21 294.56v1M508.71 295.17v1M508.81 292.19v1M508.86 296.08v1M508.8 295.51v1M508.71 296.48v1M509.42 292.01v1M509.45 294.11v1M509.17 295.09v1M509.46 292.47v1M509.17 295.05v1M509.7 293.68v1M509.93 295.84v1M509.94 294.84v1M509.63 295.8v1M510.23 295.87v1M510.08 294.85v1M510.32 295.89v1M510.08 294.71v1M510.24 294.65v1M511.14 298.5v1M511.2 299.31v1M511.02 299.65v1M511.11 300.37v1M511.41 298.8v1M511.46 299.54v1M511.42 299.04v1M511.65 298v1M511.63 298.36v1M512.04 298.5v1M511.94 295.6v1M512.12 297.71v1M512.42 298.75v1M512.51 297.6v1M512.65 296.85v1M512.61 298.69v1M512.5 298.33v1M512.87 293.65v1M513.23 296.52v1M512.9 298.5v1M513.16 296.08v1M513.56 297.39v1M513.47 298.74v1M513.58 298.24v1M513.87 299.04v1M514.25 294.86v1M513.94 299.12v1M514.01 301.15v1M514.62 292.14v1M514.72 295.88v1M514.73 293.02v1M515.11 297.47v1M515.12 296.99v1M515.69 298.24v1M515.46 300.39v1M515.48 298.77v1M515.49 299.1v1M515.75 300.69v1M515.98 298.45v1M516.21 297.4v1M515.85 298.69v1M516.67 299.59v1M516.55 300.62v1M516.43 296.64v1M516.45 298.33v1M516.96 299.59v1M517.24 298.18v1M517.06 299.57v1M517.63 298.53v1M517.51 298.74v1M517.4 298.79v1M517.71 298.7v1M517.92 299.22v1M517.91 299.01v1M518.15 299.3v1M517.87 296.22v1M518.68 298.33v1M518.44 297.45v1M518.49 296.89v1M518.41 293.46v1M518.95 297.97v1M518.85 300.16v1M519.75 300.47v1M519.46 300.77v1M519.86 300.82v1M520.03 301.07v1M520.02 301.52v1M520.56 300.82v1M520.35 300.19v1M521.04 297.41v1M521.09 297.15v1M520.88 298.07v1M521.21 295.04v1M520.9 296.74v1M521.56 295.03v1M521.6 295.68v1M521.85 297.86v1M521.97 297.72v1M522.59 298.71v1M522.69 295.41v1M522.88 299.22v1M523.03 298.27v1M522.88 299.35v1M523.03 299.82v1M523.07 299.59v1M523.53 297.79v1M523.65 297.34v1M523.45 298.39v1M523.57 297.39v1M523.58 297.76v1M523.92 293.67v1M524.08 295.33v1M524.21 295.61v1M524.11 296.81v1M524.62 293.8v1M524.68 299.88v1M524.72 297.94v1M524.45 299.75v1M524.62 298.32v1M525.24 296.91v1M525 296.3v1M525.22 296.07v1M525.17 294.77v1M525.55 300.04v1M525.7 300.36v1M525.49 300.86v1M525.97 299.51v1M526.23 299.64v1M526.17 300.71v1M525.92 298.61v1M526.47 300.01v1M526.41 300.67v1M527.02 297.21v1M527 297.91v1M527.12 297.94v1M527.12 297.82v1M526.99 297v1M527.45 300.68v1M527.65 299.6v1M527.46 298.64v1M527.73 298.15v1M527.98 298.55v1M527.97 300.01v1M528.23 299.72v1M528.44 298.45v1M528.5 298.51v1M528.56 300.19v1M528.43 299.87v1M528.96 293.98v1M529.1 296.67v1M529.17 295.81v1M529.6 298.79v1M529.47 298.85v1M529.39 298.26v1M529.67 298.94v1M529.94 295.42v1M529.93 295.43v1M530.06 296.28v1M529.93 296.42v1M530.02 294.37v1M530.74 300.6v1M530.64 302.59v1M530.48 302.92v1M530.9 297.33v1M530.95 295.01v1M531.02 296.13v1M531.43 300.22v1M531.73 301.04v1M531.58 298.05v1M531.72 296.76v1M531.72 300.75v1M531.91 301.27v1M532.17 297.85v1M532.23 301.23v1M532.68 301.15v1M532.65 301.06v1M532.51 297.23v1M532.44 300.64v1M533.18 300.48v1M533.13 299.41v1M533.24 299.93v1M533.45 299.37v1M533.61 299.97v1M534.11 299.76v1M533.96 298.76v1M534.55 299.63v1M534.56 299.42v1M534.58 300.11v1M534.36 301.59v1M534.36 301.53v1M535.12 298.99v1M534.89 301.54v1M535.23 301v1M534.89 300.37v1M535.01 301.63v1M535.68 301.03v1M535.42 300.68v1M535.94 298.6v1M536.06 297.46v1M536.16 295.1v1M536.01 300.4v1M535.97 300.26v1M536.33 299.32v1M535.97 300.77v1M536.2 299.28v1" stroke="#1c1cf2" stroke-width="0.5" fill="none" opacity="0.7"/>
<path d="M70.85 303.6L70.85 306.41L71.35 307.25L71.85 306.98L72.35 306.96L72.85 306.47L73.35 306.69L73.85 305.76L74.35 307.27L74.85 306.38L75.35 306.94L75.85 306.64L76.35 306.85L76.85 306.76L77.35 306.87L77.85 306.48L78.35 306.84L78.85 306.45L79.35 307.19L79.85 307.22L80.35 306.06L80.85 306.41L81.35 307.11L81.85 306.6L82.35 306.4L82.85 305.51L83.35 306.28L83.85 306.78L84.35 307.37L84.85 306.14L85.35 307.11L85.85 306.7L86.35 306.31L86.85 306.31L87.35 306.8L87.85 306.99L88.35 305.87L88.85 305.84L89.35 306.46L89.85 306.43L90.35 306.69L90.85 307.1L91.35 306.34L91.85 306.88L92.35 306.57L92.85 306.57L93.35 307.05L93.85 306.3L94.35 306.54L94.85 307.07L95.35 306.03L95.85 307.65L96.35 306.47L96.85 307.02L97.35 307.06L97.85 306.37L98.35 307.31L98.85 305.88L99.35 307.37L99.85 307.23L100.35 306.76L100.85 307.41L101.35 306.09L101.85 306.04L102.35 306.85L102.85 307.66L103.35 306.01L103.85 307L104.35 307.43L104.85 306.63L105.35 306.53L105.85 307.05L106.35 306.13L106.85 307.93L107.35 306.47L107.85 306.25L108.35 306.53L108.85 307.31L109.35 307.23L109.85 305.71L109.95 306.06L109.95 303.6ZM110.85 303.6L110.85 309.36L111.35 308.59L111.85 309.11L112.35 308.77L112.85 309.22L113.35 308.48L113.85 309.76L114.35 308.9L114.85 308.79L115.35 307.37L115.85 309.17L116.35 308.59L116.85 309.11L117.35 308.68L117.85 309.36L118.35 308.07L118.85 308.74L119.35 308.5L119.85 309.52L120.35 309.07L120.85 308.1L121.35 308.42L121.85 308.59L122.35 309.35L122.85 307.54L123.35 308.47L123.85 308.35L124.35 308.74L124.85 308.45L125.35 309.61L125.85 307.56L126.35 308.51L126.85 308.33L127.35 308.69L127.85 308.27L128.35 307.87L128.85 309.34L129.35 307.7L129.85 309.27L130.35 308.27L130.85 309.98L131.35 308.73L131.85 309.29L132.35 309.16L132.85 308.85L133.35 309.03L133.85 309.03L134.35 308.81L134.85 309.66L135.35 308.5L135.85 308.45L136.35 309.47L136.85 309.12L137.35 308.32L137.85 308.71L138.35 308.78L138.85 309.81L139.35 310.4L139.85 308.42L140.35 308.06L140.85 308.9L141.35 308.18L141.85 309.37L142.35 308.68L142.55 309.15L142.55 303.6ZM143.45 303.6L143.45 312.32L143.95 311.87L144.45 312.62L144.95 312.06L145.45 312.57L145.95 311.79L146.45 313.04L146.95 311.09L147.45 313.54L147.95 312.24L148.45 312.59L148.95 313.02L149.45 312.37L149.95 312.46L150.45 312.71L150.95 312.31L151.45 312.44L151.95 312.57L152.45 312.88L152.95 313.49L153.45 312.06L153.95 312.8L154.45 312.07L154.95 313.19L155.45 313.05L155.95 312.12L156.45 312.67L156.95 312.5L157.45 313.82L157.95 311.83L158.45 312.55L158.95 312.94L159.45 311.17L159.95 312.49L160.45 312.49L160.95 312.39L161.45 312.86L161.95 311.44L162.45 312.06L162.95 312.7L163.45 312.73L163.95 312.27L164.45 313.14L164.95 312.3L165.45 312.19L165.95 313.99L166.45 311.97L166.95 311.69L167.45 313.77L167.95 312.06L168.45 312.57L168.95 312.05L169.45 311.89L169.95 311.47L170.45 313.11L170.95 311.71L171.45 313.38L171.95 311.98L172.45 312.81L172.95 313.33L173.45 312.28L173.95 312.15L174.05 312.22L174.05 303.6ZM174.95 303.6L174.95 308.8L175.45 307.48L175.95 307.42L176.45 308.7L176.95 307.32L177.45 306.08L177.95 307.54L178.45 306.71L178.95 307.42L179.45 307.18L179.95 307.09L180.45 306.76L180.95 308.12L181.45 307.28L181.95 306.1L182.45 307.64L182.95 307.33L183.45 306.78L183.95 306.92L184.45 305.82L184.95 306.86L185.45 306.43L185.95 307.69L186.45 306.03L186.95 306.58L187.45 306.94L187.95 306.4L188.45 307.76L188.95 306.78L189.45 307.6L189.95 307.06L190.45 306.23L190.95 306.57L191.45 306.47L191.95 306.09L192.45 307.67L192.95 306.6L193.45 306.32L193.95 307.24L194.45 306.95L194.95 307.02L195.45 307.63L195.95 307.72L196.45 306.98L196.95 307.25L197.45 307.28L197.95 306.79L198.45 306.74L198.95 307.28L199.45 306.7L199.95 307.54L200.45 307.4L200.95 306.73L201.45 307.31L201.95 307.36L202.45 307.19L202.95 307.68L203.45 306.44L203.85 307.56L203.85 303.6ZM204.75 303.6L204.75 308.03L205.25 308.09L205.75 308.49L206.25 307.44L206.75 308.21L207.25 308.58L207.75 307.3L208.25 307.57L208.75 307.71L209.25 306.93L209.75 307.74L210.25 307.66L210.75 307.43L211.25 308L211.75 307.63L212.25 308.78L212.75 306.82L213.25 307.9L213.75 306.99L214.25 307.23L214.75 307.87L215.25 307.3L215.75 308.03L216.25 307.98L216.75 308.47L217.25 307.92L217.75 307.55L218.25 308.35L218.75 308.22L219.25 307.86L219.75 306.69L220.25 307.33L220.75 308.06L221.25 307.87L221.75 307.12L222.25 306.9L222.75 307.56L223.25 308.4L223.75 306.84L224.25 307.98L224.75 308.17L225.25 308.22L225.75 308.54L226.25 308.4L226.75 308.83L227.25 307.42L227.75 308.43L228.25 307.29L228.75 307.92L229.25 308.6L229.75 307.46L230.25 307.85L230.75 307.43L231.25 307.54L231.75 307.3L232.25 307.92L232.65 307.92L232.65 303.6ZM284.45 303.6L284.45 308.24L284.95 308.84L285.45 307.74L285.95 306.3L286.45 307.2L286.95 306.49L287.45 307.56L287.95 308.22L288.45 307.97L288.95 308.42L289.45 307.33L289.95 307.59L290.45 307.35L290.95 308.09L291.3 308.17L291.3 303.6ZM294 303.6L294 307.92L294.5 308.82L295 307.62L295.5 308.32L296 308.64L296.5 307.01L297 307.73L297.5 307.67L298 307.7L298.5 308.19L299 308.02L299.5 307.66L300 307.79L300.5 306.99L301 307.77L301.5 308.12L302 308.09L302.5 308.63L303 307.22L303.5 308.28L304 307.76L304.5 308.81L305 307.72L305.5 307.97L306 307.5L306.5 307.24L306.95 306.31L306.95 303.6ZM307.85 303.6L307.85 310.68L308.35 311.99L308.85 310.63L309.35 310.56L309.85 311.77L310.35 311.77L310.85 311.55L311.35 311.98L311.85 311.64L312.35 311.21L312.85 311.4L313.35 309.81L313.85 310.63L314.35 311.63L314.85 311.43L315.35 310.59L315.85 310.55L316.35 312L316.85 310.58L317.35 310.72L317.85 311.65L318.35 310.79L318.85 311.89L319.35 311.2L319.85 310.8L320.35 311.02L320.85 311.29L321.35 310.52L321.85 311.07L322.35 311.03L322.85 311.21L323.35 311.44L323.85 312.37L324.35 311.15L324.85 312.63L325.35 311.55L325.85 310.66L326.35 312.29L326.85 311.02L327.35 311.4L327.85 311.2L328.35 310.6L328.85 310.72L329.35 311.87L329.85 311.24L329.85 311.99L329.85 303.6ZM330.75 303.6L330.75 308.12L331.25 306.98L331.75 308.54L332.25 308.62L332.75 307.79L333.25 308.26L333.75 307.33L334.25 309.27L334.75 308.07L335.25 308.19L335.75 308.06L336.25 307.85L336.75 307.32L337.25 308.66L337.75 308.55L338.25 308.02L338.75 307.66L339.25 308.32L339.75 307.79L340.25 307.6L340.75 306.98L341.25 307.5L341.75 307.48L342.25 309.1L342.75 308.27L343.25 307.7L343.75 307.92L344.25 308.54L344.75 307.61L345.25 307.15L345.75 307.77L346.25 308.14L346.75 308.06L347.25 308.66L347.75 309.16L348.25 309.08L348.75 307.15L349.25 307.55L349.75 308.61L350.25 307.48L350.75 309.54L351.25 308.57L351.75 307.06L351.85 306.9L351.85 303.6ZM352.75 303.6L352.75 310.54L353.25 310.56L353.75 310.57L354.25 311.47L354.75 309.66L355.25 310.28L355.75 310.53L356.25 311.91L356.75 309.94L357.25 310.93L357.75 310.36L358.25 310.5L358.75 311.52L359.25 309.92L359.75 312.21L360.25 310.71L360.75 310.66L361.25 311.49L361.75 311.07L362.25 309.65L362.75 311.47L363.25 310.7L363.75 309.96L364.25 311.17L364.75 311.32L365.25 310.64L365.75 311.77L366.25 311.81L366.75 311.45L367.25 310.63L367.75 310.53L368.25 310.04L368.75 311.75L369.25 311.66L369.75 310.75L370.25 310.63L370.75 310.06L371.25 310.73L371.75 310.4L372.25 310.34L372.75 311.27L373.25 311.07L373.75 310.34L374.25 311.06L374.25 303.6ZM378 306.6L378 317.37L378.5 317.26L379 318.08L379.5 318.57L380 318.88L380.5 317.46L381 316.79L381.5 316.88L382 317.38L382.5 317.54L383 317.46L383.5 317.89L384 317.19L384.5 317.03L385 319.03L385.5 317.07L386 317.64L386.5 317.17L387 318.26L387.5 318.29L388 317.59L388.5 316.83L389 317.76L389.5 317.13L390 318.66L390.5 317.11L391 317.34L391.5 316.85L392 317.74L392.5 317.46L393 318.2L393.5 317.68L394 317.52L394.25 317.46L394.25 306.6ZM397.6 303.6L397.6 313.37L398.1 313.24L398.6 313.61L399.1 312.11L399.6 313.07L400.1 312.55L400.6 313.65L401.1 313.87L401.6 312.98L402.1 312.17L402.6 313.08L403.1 314.28L403.6 312.65L404.1 312.8L404.6 313.92L405.1 312.97L405.6 313.39L406.1 313.36L406.6 312.57L407.1 313.18L407.6 312.97L408.1 313.21L408.6 312.41L409.1 312.79L409.6 313.53L410.1 313.52L410.6 313.1L411.1 312.91L411.6 313.53L411.65 313.98L411.65 303.6ZM415.2 303.6L415.2 308L415.7 307.36L416.2 306.82L416.7 307.54L417.2 307.8L417.7 307.37L418.2 307.24L418.7 308.49L419.2 307.91L419.7 307L420.2 307.84L420.7 307.93L421.2 307.24L421.7 308.94L422.2 307.65L422.7 306.37L423.2 307.44L423.7 307.6L424.2 306.5L424.7 307.38L425.2 308.06L425.7 307.98L426.2 307.74L426.7 309.17L427.2 306.32L427.7 307.85L428.2 307.68L428.7 307.73L429.15 307.49L429.15 303.6ZM430.05 303.6L430.05 308.34L430.55 307.34L431.05 307.58L431.55 307.98L432.05 307.2L432.55 307.21L433.05 308.55L433.55 307.77L434.05 308.13L434.55 308.08L435.05 307.48L435.55 308.01L436.05 307.23L436.55 307.59L437.05 308.42L437.55 308.25L438.05 307.71L438.55 307.6L439.05 307.94L439.55 307.65L440.05 307.96L440.55 307.89L441.05 308.32L441.55 307.85L442.05 308.58L442.55 307.22L443.05 306.61L443.55 307.25L444.05 308.22L444.45 308.26L444.45 303.6ZM445.35 303.6L445.35 307.83L445.85 307.07L446.35 306.62L446.85 307.61L447.35 307L447.85 307.06L448.35 306.41L448.85 307.02L449.35 307.24L449.85 306.34L450.35 307.35L450.85 307.06L451.35 306.26L451.85 307.6L452.35 307.89L452.85 306.75L453.35 307.11L453.85 306.46L454.35 306.99L454.85 307.15L455.35 307.98L455.85 305.9L456.35 307.62L456.85 306.38L457.35 307.25L457.85 306.22L458.25 308.65L458.25 303.6ZM472.55 303.6L472.55 306.86L473.05 305.61L473.55 305.38L474.05 305.85L474.55 306.5L475.05 305.61L475.55 305.51L476.05 305.98L476.55 306.71L477.05 306.24L477.55 306.56L478.05 305.87L478.55 305.68L479.05 306.33L479.55 306.31L480.05 305.74L480.55 305.8L481.05 305.45L481.55 304.64L481.85 304.31L481.85 303.6ZM495.8 303.6L495.8 306.41L496.3 305.66L496.8 305.11L497.3 305.02L497.8 306.54L498.3 305.97L498.8 306.03L499.3 306.79L499.8 305.51L500.3 305.28L500.8 305.52L501.25 305.45L501.25 303.6ZM511.05 303.6L511.05 308.22L511.55 308.72L512.05 306.68L512.55 308L513.05 307.73L513.55 307.45L514.05 308.6L514.55 308.09L515.05 308.55L515.55 307.85L516.05 308.25L516.55 307.95L517.05 307.5L517.55 308.88L518.05 308.04L518.55 307.7L519.05 307.99L519.55 307.43L520.05 307.34L520.55 307.71L521.05 307.87L521.55 306.54L522.05 308.55L522.55 308.55L523.05 307.76L523.55 308.05L524.05 307.68L524.55 308.52L525.05 308.08L525.55 308.32L526.05 307.69L526.55 307.2L527.05 308.1L527.55 306.91L528.05 308.15L528.55 306.56L529.05 308.14L529.55 308.27L530.05 307.34L530.55 308.31L531.05 306.86L531.55 307.19L532.05 308.74L532.55 307.39L533.05 308.26L533.55 308.12L534.05 308.02L534.55 307.65L535.05 308.27L535.55 307.92L536.05 308.52L536.15 306.14L536.15 303.6Z" fill="#f60a0a"/>
<path d="M379 309H394V316H379ZM398.5 307H412V312H398.5Z" fill="#f46a3a" opacity="0.35"/>
<path d="M70.89 307.1v0.8M71.34 307.63v0.8M72.51 307.3v0.8M73.04 306.54v0.8M73.9 305.99v0.8M74.85 306.08v0.65M74.75 306.39v0.8M76.01 307.08v0.8M76.2 310.56v0.8M76.85 306.46v3.27M76.93 308.58v0.8M77.35 306.57v2.11M78.54 307.73v0.8M78.85 306.15v1.21M78.67 309.18v0.8M81.35 306.81v3.44M81.53 309.31v0.8M81.85 306.3v3.89M82.35 306.1v0.92M82.16 308.6v0.8M82.7 306.4v0.8M83.35 305.98v2.37M83.85 306.48v1.36M84.51 312.01v0.8M84.98 306.56v0.8M85.35 306.81v1M85.51 307.12v0.8M85.85 306.4v1.11M86.75 309.13v0.8M87.35 306.5v6.41M87.75 307.18v0.8M88.35 305.57v3.08M88.98 306.35v0.8M89.85 306.13v3.95M89.68 311.52v0.8M90.19 307.49v0.8M90.85 306.8v1.98M90.92 307.57v0.8M91.19 307.32v0.8M91.85 306.58v3.81M92.35 306.27v1.46M92.51 310.15v0.8M92.85 306.27v0.53M93.01 307.75v0.8M93.34 308.96v0.8M93.67 308.91v0.8M94.35 306.24v4.14M94.52 310.2v0.8M95.04 307.1v0.8M95.48 306.07v0.8M95.82 308.08v0.8M96.35 306.17v4.56M96.31 308.21v0.8M97.35 306.76v3.41M97.37 310.28v0.8M98.35 307.01v3.21M98.48 310.56v0.8M98.85 305.58v1.27M99.88 307.46v0.8M100.37 307.19v0.8M101.25 306.42v0.8M101.87 307.89v0.8M102.35 306.55v5.82M102.55 310v0.8M102.85 307.36v0.97M103.35 305.71v4.92M103.85 306.7v5.3M104.35 307.13v4.9M104.85 306.33v0.81M104.68 306.68v0.8M105.35 306.23v0.63M105.85 306.75v3.32M105.87 307.42v0.8M106.35 305.83v2.34M107.02 309.2v0.8M107.85 305.95v4.04M108.35 306.23v1.91M108.72 310.45v0.8M109.41 309.75v0.8M109.85 305.41v0.64M110.12 306.54v0.8M111.9 311.23v0.8M112.35 308.47v0.79M112.85 308.92v1.75M113.35 308.18v2.29M113.4 314.33v0.8M113.85 309.46v1.34M113.8 310.98v0.8M114.65 308.82v0.8M115.35 307.07v3.66M115.29 307.66v0.8M116.35 308.29v3.44M116.73 311.45v0.8M117.35 308.38v0.69M117.49 311.72v0.8M117.69 310.36v0.8M118.77 309.61v0.8M120.85 307.8v1.85M121.35 308.12v0.58M121.47 311.57v0.8M121.78 309.88v0.8M122.3 310.7v0.8M123.35 308.17v0.63M123.27 309.55v0.8M123.68 310.44v0.8M124.33 309.79v0.8M124.85 308.15v4.94M124.79 310.94v0.8M125.35 310.07v0.8M126.35 308.21v1.25M126.74 310.66v0.8M127.35 308.39v1.82M127.85 307.97v3.03M127.95 309.14v0.8M128.31 309.07v0.8M129.96 310.79v0.8M130.35 307.97v1.72M130.85 309.68v7.65M130.67 313.32v0.8M131.35 308.43v0.87M131.39 311.08v0.8M131.85 308.99v3.13M131.85 311.3v0.8M132.73 309.74v0.8M133.85 308.73v0.65M134.85 309.36v1.82M134.84 309.73v0.8M135.4 308.72v0.8M135.85 309.04v0.8M136.92 311.08v0.8M138.17 309.62v0.8M139.5 312.8v0.8M140.35 307.76v1.02M140.44 310.05v0.8M142.55 308.85v0.65M142.74 309.41v0.8M144.45 312.32v0.95M144.86 312.46v0.8M145.45 312.27v5.31M146.45 312.74v2.02M146.36 313.23v0.8M146.95 310.79v3.06M146.82 312.96v0.8M147.95 312.78v0.8M148.45 312.29v1.86M148.95 312.72v1.3M148.8 314.57v0.8M149.95 312.16v4.59M150.04 313.04v0.8M150.51 320.12v0.8M150.79 315.94v0.8M152.95 313.19v3.47M153.45 311.76v1.03M153.8 313.28v0.8M154.45 311.77v9.72M155.45 312.75v1.64M155.39 313.78v0.8M155.8 312.66v0.8M156.45 312.37v1.26M156.95 312.2v1.17M156.96 315.72v0.8M157.45 313.52v3.12M157.48 314.44v0.8M158.07 312.76v0.8M158.45 312.25v5.6M158.43 313.45v0.8M158.95 312.64v0.52M159.3 313.47v0.8M159.84 316.14v0.8M160.45 312.19v3.62M161.82 313.63v0.8M164.06 314.98v0.8M164.53 313.35v0.8M164.99 315.13v0.8M166.45 311.67v2.47M167.12 317.8v0.8M167.45 313.47v4.51M167.36 316.9v0.8M167.95 311.76v0.81M168.45 312.27v0.8M168.32 315.08v0.8M169.48 314.08v0.8M170.06 314.44v0.8M170.45 312.81v1.58M170.47 315.26v0.8M170.95 311.41v1.59M171.58 313.42v0.8M171.95 311.68v6.81M172.45 312.51v7.26M172.39 318.32v0.8M173.07 315.86v0.8M173.41 313.65v0.8M173.95 311.85v3.91M173.93 312.49v0.8M174.95 308.5v0.94M175.45 307.18v1.2M175.32 308.26v0.8M175.9 310.61v0.8M176.38 310.53v0.8M176.95 307.02v4.15M177.75 313.6v0.8M178.32 307.15v0.8M179.92 307.25v0.8M180.63 309.39v0.8M181.45 306.98v0.73M181.35 311.85v0.8M182.01 306.57v0.8M182.45 307.34v3.01M182.95 307.03v1.83M182.93 308.07v0.8M183.38 309.71v0.8M184.95 306.56v4.03M184.81 307.34v0.8M185.41 308.37v0.8M185.95 307.39v5.53M187.09 306.83v0.8M187.6 307.61v0.8M187.95 306.1v2.34M187.93 306.61v0.8M189.95 306.76v1.75M190.45 305.93v4.84M190.34 307.98v0.8M190.83 306.74v0.8M191.46 307.16v0.8M191.89 306.2v0.8M192.45 307.37v0.79M192.95 306.3v6.07M193.13 306.98v0.8M193.45 306.02v0.67M193.95 306.94v4.28M194.02 309.65v0.8M194.45 306.65v0.71M194.64 307.49v0.8M194.95 310.07v0.8M196.95 306.95v4.6M196.99 307.33v0.8M197.26 310v0.8M197.84 307.62v0.8M198.45 306.44v7.17M198.79 311.62v0.8M199.43 311.43v0.8M199.95 307.24v0.82M200.04 309.72v0.8M200.34 309.73v0.8M201.95 307.06v1.97M202.3 308.72v0.8M202.95 307.38v2.21M203.47 306.99v0.8M204.75 307.73v4.55M205.25 307.79v1.43M205.75 308.19v1.99M206.25 307.14v1.08M206.08 310.01v0.8M206.75 307.91v1.79M206.78 309.76v0.8M207.11 311.6v0.8M209.25 306.63v4.61M209.15 309v0.8M209.85 307.94v0.8M210.25 307.36v0.88M210.11 308.31v0.8M210.75 307.13v3.66M210.92 308.41v0.8M212.33 315.89v0.8M214.37 308.64v0.8M214.75 307.57v0.98M214.85 310.82v0.8M215.25 307v0.67M215.22 310.58v0.8M216.08 313.37v0.8M216.9 312.96v0.8M217.25 307.62v0.5M217.13 308.02v0.8M217.75 307.25v4.2M217.78 307.71v0.8M218.42 310.43v0.8M218.75 307.92v0.68M218.91 309.06v0.8M220.25 307.03v4.75M220.6 309.07v0.8M221.75 306.82v7.07M222.25 306.6v6.05M222.42 308.39v0.8M223.25 308.1v1.28M223.77 308.01v0.8M224.25 307.68v4.71M224.75 307.87v1.13M225.86 309.99v0.8M226.44 311.16v0.8M226.75 308.53v2.17M227.74 309.57v0.8M228.25 306.99v4.43M228.77 312.1v0.8M229.25 308.3v2.99M229.38 311.03v0.8M229.63 307.74v0.8M230.4 308.42v0.8M231.25 307.24v6.52M231.75 307.88v0.8M232.25 307.62v2.8M232.65 307.62v2.35M232.84 309.8v0.8M286.11 307.73v0.8M287.54 308.58v0.8M287.95 307.92v4.09M287.79 308.61v0.8M288.84 310.05v0.8M290.56 308.01v0.8M291.3 307.87v1.9M294.5 308.52v2.23M294.52 309.01v0.8M294.84 307.71v0.8M295.5 308.02v0.78M295.99 314.37v0.8M296.62 310.66v0.8M297 307.43v3.09M297.5 307.37v3.54M297.39 308.62v0.8M299 307.72v0.51M299.32 307.71v0.8M300.5 306.69v4.72M300.68 311.44v0.8M301 307.47v3.66M300.8 309.09v0.8M302.61 311.25v0.8M303 306.92v1.26M303.5 307.98v1.4M304 307.46v1.62M304.02 308.7v0.8M304.9 310.7v0.8M305.91 307.78v0.8M306.5 307.64v0.8M306.95 306.01v4.93M308.42 313v0.8M309.39 310.99v0.8M309.73 312.05v0.8M310.27 314.14v0.8M310.85 311.25v0.59M310.7 316.03v0.8M311.89 312.86v0.8M312.8 312.69v0.8M313.35 309.51v2.26M313.51 311.6v0.8M314.35 311.33v2.04M314.21 311.78v0.8M314.85 311.13v4.25M315.02 312.83v0.8M315.35 310.29v4.05M316.85 310.28v0.76M316.68 311.58v0.8M317.51 312.18v0.8M317.85 311.35v1.86M319.35 310.9v5.65M319.3 312.48v0.8M319.73 310.86v0.8M320.18 314.42v0.8M321.36 311.33v0.8M321.91 312.69v0.8M322.85 310.91v2.63M322.94 314.12v0.8M323.23 311.73v0.8M323.85 312.07v5.05M324.04 313.98v0.8M324.29 314.44v0.8M324.85 312.33v2.49M325.01 312.64v0.8M325.49 311.78v0.8M326.36 313.21v0.8M326.72 311.1v0.8M327.4 315.02v0.8M328.41 312.31v0.8M329.35 311.57v0.66M329.85 311.69v2.13M329.91 311.99v0.8M330.6 308.68v0.8M331.28 309.34v0.8M331.82 308.75v0.8M332.25 308.32v0.59M333.25 307.96v2.73M334.25 308.97v9.39M334.21 311.51v0.8M334.75 307.77v3.37M334.65 313.24v0.8M335.38 308.44v0.8M335.62 309.95v0.8M336.25 307.55v4.13M336.75 307.02v10.12M337.26 308.93v0.8M337.75 308.25v6.14M337.93 308.63v0.8M338.75 307.36v0.63M339.43 308.56v0.8M340.19 309.89v0.8M340.75 306.68v1.55M340.83 307.57v0.8M341.14 308.37v0.8M342.25 308.8v2.57M343.78 308.79v0.8M344.25 308.24v3.43M345.75 307.47v3.83M345.71 308.28v0.8M346.25 307.84v0.52M346.75 309.26v0.8M347.87 311.79v0.8M348.25 308.78v1.34M348.75 306.85v5.5M348.88 310.46v0.8M349.07 310.51v0.8M349.6 309.53v0.8M350.25 307.18v3.97M350.89 309.8v0.8M351.35 309.56v0.8M351.61 307.26v0.8M351.85 306.6v2.35M351.76 307.33v0.8M352.73 314.19v0.8M353.25 310.26v3.33M354.25 311.17v3.12M354.14 311.78v0.8M354.75 309.36v1.13M354.94 311.49v0.8M355.25 309.98v0.86M356.19 313.64v0.8M356.75 309.64v2.75M357.75 310.06v2.33M358.75 311.22v0.51M359.17 311.91v0.8M360.59 313.9v0.8M361.35 311.92v0.8M361.75 310.77v1.92M362.75 311.17v2.03M362.66 313.54v0.8M364.25 310.87v7.27M364.07 313.58v0.8M365.25 310.34v2.11M365.37 312.07v0.8M366.21 313.91v0.8M366.87 312.25v0.8M367.25 310.33v2.2M367.92 311.21v0.8M368.25 309.74v1.45M368.37 310.69v0.8M368.6 317.1v0.8M369.34 312.52v0.8M369.75 310.45v0.74M369.86 311.87v0.8M370.25 310.33v5.05M370.75 309.76v1.96M370.61 310.44v0.8M371.25 310.43v1.26M371.78 310.47v0.8M372.56 316.72v0.8M373.25 310.77v1.66M373.65 311.86v0.8M378 317.07v2.59M378.5 316.96v0.96M378.62 317.31v0.8M379.5 318.27v8.7M379.61 318.68v0.8M380.5 317.16v2.17M381 316.49v1.11M380.91 317.19v0.8M381.32 317.8v0.8M382 317.08v1.01M381.85 317.55v0.8M382.35 319.12v0.8M382.86 317.96v0.8M384.06 319.5v0.8M384.5 316.73v2.89M384.37 327.47v0.8M385 318.73v1.1M384.91 321.38v0.8M386 317.34v2.6M385.99 319.17v0.8M387.36 322.36v0.8M388.1 319.93v0.8M388.51 319.42v0.8M389.5 316.83v1.37M390.14 320.85v0.8M390.99 317.39v0.8M391.97 320.15v0.8M392.5 317.16v1.32M393.05 318.27v0.8M393.51 318.48v0.8M393.81 318.49v0.8M397.92 313.75v0.8M398.6 313.31v1.11M398.73 317.16v0.8M399.08 312.39v0.8M399.54 313.2v0.8M400.1 312.25v6.77M401.6 312.68v6.86M402.24 316.75v0.8M402.6 312.78v5.9M402.93 316.29v0.8M404.6 313.62v2.46M405.1 312.67v3.53M405.6 313.09v5.41M406.3 314.81v0.8M406.6 312.27v2.25M406.49 318.64v0.8M407.57 315.95v0.8M408.1 312.91v8.5M407.97 318.26v0.8M408.44 313.85v0.8M409.6 313.23v1.61M410.1 313.22v1.93M410.53 315.67v0.8M411.03 313.98v0.8M411.45 314.47v0.8M411.8 314.63v0.8M415.26 309.25v0.8M416.74 307.65v0.8M417.38 308.26v0.8M417.7 307.07v0.61M418.52 308.89v0.8M420.2 307.54v1.56M420.36 309.8v0.8M420.7 307.63v0.67M420.72 309.47v0.8M421.2 306.94v0.98M421.35 307.73v0.8M421.76 309.59v0.8M423.2 307.14v5.36M423.16 309.16v0.8M424.7 307.08v6.57M424.72 313.06v0.8M425.55 310.16v0.8M427.2 306.02v3.72M427.23 306.86v0.8M427.7 307.55v6.64M428.14 308.54v0.8M430.75 307.66v0.8M431.57 310.47v0.8M432.05 306.9v3.72M433.05 308.25v6.97M434.55 307.78v1.72M434.54 308.33v0.8M435.05 307.18v5.45M436.6 308.5v0.8M437.05 308.12v1.56M437.62 309.67v0.8M438.05 307.41v1.86M438.55 307.3v3.41M438.49 309.86v0.8M439.05 307.64v2.45M439.37 308.38v0.8M440.05 307.66v1.19M440.13 310.23v0.8M440.63 309.04v0.8M441.05 308.02v4.15M441 309.04v0.8M441.55 307.55v1.48M441.95 312.06v0.8M443.23 308.53v0.8M443.4 311.52v0.8M444.02 308.29v0.8M445.37 311.73v0.8M446.78 307.95v0.8M448.35 306.11v4.15M448.85 306.72v3.84M449.95 306.72v0.8M450.24 308.81v0.8M450.85 306.76v2.96M450.86 311.09v0.8M451.35 312.25v0.8M452.8 309.17v0.8M453.15 308.81v0.8M453.77 307.16v0.8M454.85 306.85v5.49M454.82 307.57v0.8M456.5 308.79v0.8M457.16 308.09v0.8M457.85 305.92v1.8M457.87 306.52v0.8M472.55 306.56v0.73M472.65 307.14v0.8M472.95 305.82v0.8M473.55 305.08v2.31M473.52 310.94v0.8M475.68 307.93v0.8M476.45 309.3v0.8M476.97 309.57v0.8M477.68 310.87v0.8M478.05 305.57v1.25M477.98 307.84v0.8M479.05 306.03v2.12M479.07 308v0.8M480.55 305.5v1.69M481.44 305.42v0.8M481.91 304.43v0.8M495.8 306.11v1.4M495.64 306.69v0.8M496.86 306.64v0.8M497.94 307.06v0.8M498.18 309.52v0.8M500.78 306.92v0.8M501.25 305.15v6.66M510.89 308.54v0.8M512.05 306.38v2.13M512.62 310.74v0.8M513.65 307.94v0.8M514.85 309.29v0.8M516.54 308.37v0.8M516.87 308.15v0.8M517.55 308.58v1M517.53 309.05v0.8M518.1 309.77v0.8M518.94 308.34v0.8M520.39 308.11v0.8M520.91 308.73v0.8M521.74 306.77v0.8M522.49 308.62v0.8M523.05 307.46v1.94M524.05 307.38v3.43M524.55 308.22v3.67M524.64 308.57v0.8M525.2 310.17v0.8M526.05 307.39v1.81M525.91 311.58v0.8M526.67 313.35v0.8M528.05 307.85v1.66M528.47 312.19v0.8M529.05 307.84v1.65M529.56 308.76v0.8M530.05 307.04v0.57M530.1 308.08v0.8M533.05 307.96v1.62M533.2 308.89v0.8M534.05 307.72v8.2M534 310.87v0.8M535.55 307.62v4.01M536.05 308.22v5.63M535.87 312.53v0.8" stroke="#f01c1c" stroke-width="0.55" fill="none" opacity="0.8"/>
<path d="M30.5 306.6V330M30.09 315.49v0.9M30.11 320.23v0.9M29.97 308.59v0.9M30.6 322.35v0.9M36 306.6V336M36.74 330.59v0.9M36.58 314.78v0.9M35.76 320.84v0.9M36.23 315.8v0.9M52.3 306.6V338M52.96 337.65v0.9M52.73 337.95v0.9M52.01 318.5v0.9M51.61 312.1v0.9M61 306.6V325M61.18 315.92v0.9M60.6 313.52v0.9M60.89 322.11v0.9M60.46 323.28v0.9M86 306.6V322M86.69 316.19v0.9M85.97 315.98v0.9M85.73 318.72v0.9M86.23 311.95v0.9M91 306.6V330M91.74 310.25v0.9M91.77 315.78v0.9M91.63 319.89v0.9M91.1 313.22v0.9M112 306.6V312M112.52 308.46v0.9M112.65 311.68v0.9M111.64 308.82v0.9M111.5 310.28v0.9M125 306.6V322M125.23 316.7v0.9M124.82 315.37v0.9M125.14 311.34v0.9M124.33 311.45v0.9M144 306.6V336M143.57 332.9v0.9M143.69 316.52v0.9M143.33 335.01v0.9M143.65 325.19v0.9M154 306.6V316M153.38 314.33v0.9M154.03 312.06v0.9M153.73 310.18v0.9M154.14 314.11v0.9M168 306.6V326M168.53 310.52v0.9M167.2 324.63v0.9M168.7 320.39v0.9M167.8 313.41v0.9M183 306.6V322M183.47 315.37v0.9M183.53 309.71v0.9M182.4 311.77v0.9M182.88 315.15v0.9M188 306.6V328M187.26 307.96v0.9M188.41 327.84v0.9M188.03 311.05v0.9M188.29 327.01v0.9M214 306.6V330M214.01 317.69v0.9M214.18 313.3v0.9M214.74 319.22v0.9M214.68 310.28v0.9M226 306.6V320M225.25 316.63v0.9M225.64 316.64v0.9M226.79 316.93v0.9M225.7 316.03v0.9M234 306.6V336M233.86 318.33v0.9M233.81 320.6v0.9M233.61 318.58v0.9M233.78 331.14v0.9M246 306.6V320M245.89 308.68v0.9M246.06 308.75v0.9M245.78 319.61v0.9M245.81 316.66v0.9M255 306.6V322M255.19 319.71v0.9M254.79 308.29v0.9M255.08 312.62v0.9M255.63 314.33v0.9M268 306.6V336M267.53 320.74v0.9M268.56 334.55v0.9M268.64 324.57v0.9M268.66 331.48v0.9M279 306.6V326M279.42 319.39v0.9M278.29 318.72v0.9M278.21 318.31v0.9M279.54 311.24v0.9M288 306.6V330M288.54 326.55v0.9M288.76 325.5v0.9M288.42 321.48v0.9M288.12 317.73v0.9M299 306.6V326M298.38 324.58v0.9M298.81 325.67v0.9M298.97 319.07v0.9M298.25 315.34v0.9M318 306.6V332M317.37 309.31v0.9M318.72 312.76v0.9M318.65 314.82v0.9M317.69 329.9v0.9M333 306.6V322M332.51 315.87v0.9M333.31 310.66v0.9M333.5 321.15v0.9M332.83 317.58v0.9M351 306.6V334M351.07 326.27v0.9M351.19 332.09v0.9M350.53 330.16v0.9M351.42 327.5v0.9M369 306.6V332M368.95 308.19v0.9M369.2 325.12v0.9M369.44 311.74v0.9M369.39 313.34v0.9M392 306.6V338M391.72 311.68v0.9M392.75 321.08v0.9M391.99 320.91v0.9M392.77 317.63v0.9M401 306.6V326M401.35 308.25v0.9M401.28 308.13v0.9M401.66 319.17v0.9M400.69 324.54v0.9M416 306.6V334M416.3 312.36v0.9M416.41 327.45v0.9M415.66 308.83v0.9M415.69 321.96v0.9M428 306.6V330M427.79 318.44v0.9M427.84 310.23v0.9M427.85 308.58v0.9M427.46 325.65v0.9M434 306.6V338M433.3 314.99v0.9M434.06 321.9v0.9M433.7 318.39v0.9M434.61 322.69v0.9M447 306.6V324M446.89 310.55v0.9M446.58 312.83v0.9M447 322.1v0.9M446.65 314.94v0.9M456 306.6V336M456.44 326.36v0.9M456.28 314.01v0.9M455.87 320.04v0.9M455.3 324.84v0.9M470 306.6V330M469.39 317.71v0.9M470.11 323.7v0.9M469.28 307.81v0.9M470.54 329.14v0.9M481 306.6V334M480.83 327.73v0.9M480.32 321.54v0.9M480.68 311.24v0.9M481.63 328.86v0.9M488 306.6V318M487.95 309.2v0.9M488.38 310.09v0.9M487.66 315.91v0.9M488.36 313.65v0.9M501 306.6V330M501.47 307.86v0.9M501.56 312.08v0.9M501.36 317.3v0.9M501.2 319.9v0.9M509 306.6V338M508.45 310.9v0.9M509.36 332.63v0.9M508.24 337.37v0.9M509.09 334v0.9M518 306.6V324M518.7 323.88v0.9M517.29 317.04v0.9M518.8 314.83v0.9M518.71 310.73v0.9M531 306.6V330M530.76 309.78v0.9M531.34 320.94v0.9M531.69 314.63v0.9M531.01 322.39v0.9M52.3 306.6V338M52.14 310.68v0.9M52.77 311.53v0.9M52.79 334.18v0.9M52.55 323.67v0.9M292 306.6V338M291.83 316.06v0.9M291.4 330.22v0.9M291.54 333.71v0.9M292.77 336.93v0.9M295 306.6V338M294.4 337.78v0.9M294.2 311.35v0.9M295.36 336.3v0.9M295.41 326.31v0.9M375.5 306.6V336M375.52 312.94v0.9M375.47 327.09v0.9M375.2 313.72v0.9M375.77 327.47v0.9M396 306.6V334M395.97 318.32v0.9M395.53 315.45v0.9M396.09 308.21v0.9M395.64 311.5v0.9M414 306.6V336M414.56 331.35v0.9M414.4 324.76v0.9M414.21 321.14v0.9M414.14 327.08v0.9" stroke="#f03030" stroke-width="0.5" fill="none" opacity="0.6"/>
<path d="M44.1 306.6V332.25M37.9 306.6V310.32M64.14 306.6V318.37M35.83 306.6V325.02M43.54 306.6V326.35M65.57 306.6V315.3M57.6 306.6V314.93M45.3 306.6V328.95M73.07 306.6V316.05M71.74 306.6V312.69M89.24 306.6V310.9M76.49 306.6V312.06M86.16 306.6V310.06M107.36 306.6V312.77M101.72 306.6V320.03M91.17 306.6V318.5M108.9 306.6V314.2M119.61 306.6V318.26M116.61 306.6V324.9M122.37 306.6V334.86M126.64 306.6V318.92M131.06 306.6V321.31M116.04 306.6V320.26M126.27 306.6V313.86M162.85 306.6V311.48M149.85 306.6V334.5M146.12 306.6V311.51M170.17 306.6V327.64M169.1 306.6V328.77M155.19 306.6V312.16M157.43 306.6V330.11M180.97 306.6V328.62M176.1 306.6V316.38M198.37 306.6V325.31M192.99 306.6V331.18M201.56 306.6V323.56M181.41 306.6V331.04M209.04 306.6V317.45M222.64 306.6V319.23M219.17 306.6V310.32M218.28 306.6V331.83M228.39 306.6V310.77M211.44 306.6V317.33M248.59 306.6V316.85M235.24 306.6V329.98M257.77 306.6V315.52M244.24 306.6V327.68M250.68 306.6V311.43M242.88 306.6V318.77M282.1 306.6V318.03M278.96 306.6V318.07M268.2 306.6V334.08M276.12 306.6V322.17M264.43 306.6V321.68M302.12 306.6V313.73M299.31 306.6V325.59M305.14 306.6V326.08M297.86 306.6V315.86M302.26 306.6V315.54M328.75 306.6V328.68M327.45 306.6V323.41M326.24 306.6V319.73M317.55 306.6V320.36M316.37 306.6V329.54M331.81 306.6V334.79M343.01 306.6V328.07M347.99 306.6V315.08M335.26 306.6V310.35M343.8 306.6V314.67M363.62 306.6V335.53M366.89 306.6V336.44M370 306.6V334.79M363.93 306.6V326.67M353.5 306.6V314.4M384.63 306.6V330.65M379.56 306.6V321.47M385.05 306.6V321.66M385.43 306.6V313.98M404.42 306.6V335.15M410.83 306.6V332.88M403.59 306.6V326.4M423.71 306.6V335.23M422 306.6V316.06M419.66 306.6V335.98M443.38 306.6V325.55M436.39 306.6V319.89M438.13 306.6V311.93M447.78 306.6V313.06M451.35 306.6V329.16M477.99 306.6V315.18M480.31 306.6V332.32M483.5 306.6V336.49M489.34 306.6V327.32M507.25 306.6V318.11M533.15 306.6V326.62M531.76 306.6V331.71M524.06 306.6V311.92M533.93 306.6V332.81M512.15 306.6V309.67M519.37 306.6V315.07" stroke="#f04040" stroke-width="0.4" fill="none" opacity="0.45" stroke-dasharray="0.7 0.7"/>
<path d="M52.3 224V297.6M85 273V297.6M91.2 283V297.6M186.2 250V297.6M214.1 263V297.6M249.7 265V297.6M261 200V297.6M291 249V297.6M295.3 278V297.6M314.8 264V297.6M397.4 231V297.6M416.3 278V297.6M433.4 268V297.6M441.3 265V297.6M476 278V297.6M494.9 227V297.6M504.6 264V297.6M120 286V297.6M160 288V297.6M355 290V297.6M380 296V297.6M450 287V297.6M520 290V297.6" stroke="#2a2ae4" stroke-width="0.55" fill="none" opacity="0.55" stroke-dasharray="0.9 0.8"/>
<path d="M85 203V255" stroke="#5a5ae8" stroke-width="0.5" fill="none" opacity="0.45" stroke-dasharray="0.6 1.2"/>
<path d="M265.4 265V300M267.5 280V300" stroke="#20b0a0" stroke-width="0.7" fill="none" opacity="0.8"/>
<path d="M29.8 299.6H48.4M52 299.6H69.7M30.2 296V304M44.5 297V303.5M63.5 297V303.5M69.3 296V304M236 299.2H240M244 297.5H248M252 298.8H256M260 297H263V291H265V298H268V286H269V296H272V292H274V299H277V294H279V300H283M459.5 289.6H471.5M483 298.4H493.5M504 300H509.5M537 338.4H546" stroke="#22c04a" stroke-width="0.9" fill="none"/>
<path d="M308.5 308.7H329M378.5 312.5H393.5M398 308.7H410.4V304.3" stroke="#e0a028" stroke-width="0.8" fill="none"/>
<path d="M314.9 304V310M324.5 306V309.5M397.6 304V310" stroke="#22c04a" stroke-width="0.9" fill="none"/>
<path d="M120.5 304V314M130.4 304V314M254 303.5V309M456.8 305V313M461 289.5V300M278 296V305" stroke="#22c04a" stroke-width="0.8" fill="none"/>
<path d="M70.4 197.6V347.6M110.4 197.6V347.6M143 197.6V347.6M174.5 197.6V347.6M204.3 197.6V347.6M233.1 197.6V347.6M259.5 197.6V347.6M284 197.6V347.6M307.4 197.6V347.6M330.3 197.6V347.6M352.3 197.6V347.6M374.7 197.6V347.6M394.7 197.6V347.6M412.1 197.6V347.6M429.6 197.6V347.6M444.9 197.6V347.6M458.7 197.6V347.6M472.1 197.6V347.6M482.3 197.6V347.6M493.3 197.6V347.6M501.7 197.6V347.6M510.6 197.6V347.6M536.6 197.6V347.6" stroke="#767474" stroke-width="1.35" fill="none"/>
<path d="M29.3 197.6V347.6M546 197.6V347.6" stroke="#767474" stroke-width="1.35" fill="none"/>
<path d="M29.3 197.6H546" stroke="#c8c4c2" stroke-width="0.4"/>
<path d="M29.3 197.4v1.3M32.6 197.4v1.3M35.9 197.4v1.3M39.19 197.4v1.3M42.49 197.4v1.3M45.79 197.4v1.3M49.09 197.4v1.3M52.39 197.4v1.3M55.68 197.4v1.3M58.98 197.4v1.3M62.28 197.4v1.3M65.58 197.4v1.3M68.87 197.4v1.3M70.4 197.4v1.3M73.69 197.4v1.3M76.98 197.4v1.3M80.27 197.4v1.3M83.56 197.4v1.3M86.85 197.4v1.3M90.14 197.4v1.3M93.43 197.4v1.3M96.72 197.4v1.3M100.01 197.4v1.3M103.29 197.4v1.3M106.58 197.4v1.3M109.87 197.4v1.3M110.4 197.4v1.3M113.69 197.4v1.3M116.99 197.4v1.3M120.28 197.4v1.3M123.57 197.4v1.3M126.86 197.4v1.3M130.16 197.4v1.3M133.45 197.4v1.3M136.74 197.4v1.3M140.04 197.4v1.3M143 197.4v1.3M146.3 197.4v1.3M149.59 197.4v1.3M152.89 197.4v1.3M156.18 197.4v1.3M159.48 197.4v1.3M162.78 197.4v1.3M166.07 197.4v1.3M169.37 197.4v1.3M172.66 197.4v1.3M174.5 197.4v1.3M177.79 197.4v1.3M181.09 197.4v1.3M184.38 197.4v1.3M187.68 197.4v1.3M190.97 197.4v1.3M194.27 197.4v1.3M197.56 197.4v1.3M200.86 197.4v1.3M204.15 197.4v1.3M204.3 197.4v1.3M207.67 197.4v1.3M211.03 197.4v1.3M214.4 197.4v1.3M217.77 197.4v1.3M221.13 197.4v1.3M224.5 197.4v1.3M227.87 197.4v1.3M231.23 197.4v1.3M233.1 197.4v1.3M236.42 197.4v1.3M239.74 197.4v1.3M243.06 197.4v1.3M246.37 197.4v1.3M249.69 197.4v1.3M253.01 197.4v1.3M256.33 197.4v1.3M259.5 197.4v1.3M262.85 197.4v1.3M266.19 197.4v1.3M269.54 197.4v1.3M272.89 197.4v1.3M276.23 197.4v1.3M279.58 197.4v1.3M282.93 197.4v1.3M284 197.4v1.3M287.31 197.4v1.3M290.63 197.4v1.3M293.94 197.4v1.3M297.26 197.4v1.3M300.57 197.4v1.3M303.89 197.4v1.3M307.2 197.4v1.3M307.4 197.4v1.3M310.78 197.4v1.3M314.16 197.4v1.3M317.54 197.4v1.3M320.92 197.4v1.3M324.3 197.4v1.3M327.68 197.4v1.3M330.3 197.4v1.3M333.56 197.4v1.3M336.82 197.4v1.3M340.08 197.4v1.3M343.34 197.4v1.3M346.6 197.4v1.3M349.86 197.4v1.3M352.3 197.4v1.3M355.65 197.4v1.3M358.99 197.4v1.3M362.34 197.4v1.3M365.68 197.4v1.3M369.03 197.4v1.3M372.37 197.4v1.3M374.7 197.4v1.3M378.17 197.4v1.3M381.64 197.4v1.3M385.12 197.4v1.3M388.59 197.4v1.3M392.06 197.4v1.3M394.7 197.4v1.3M397.94 197.4v1.3M401.19 197.4v1.3M404.43 197.4v1.3M407.67 197.4v1.3M410.92 197.4v1.3M412.1 197.4v1.3M415.51 197.4v1.3M418.93 197.4v1.3M422.34 197.4v1.3M425.76 197.4v1.3M429.17 197.4v1.3M429.6 197.4v1.3M432.98 197.4v1.3M436.37 197.4v1.3M439.75 197.4v1.3M443.14 197.4v1.3M444.9 197.4v1.3M448.3 197.4v1.3M451.7 197.4v1.3M455.1 197.4v1.3M458.5 197.4v1.3M458.7 197.4v1.3M462.13 197.4v1.3M465.56 197.4v1.3M468.99 197.4v1.3M472.1 197.4v1.3M475.55 197.4v1.3M479 197.4v1.3M482.3 197.4v1.3M485.79 197.4v1.3M489.28 197.4v1.3M492.78 197.4v1.3M493.3 197.4v1.3M496.79 197.4v1.3M500.29 197.4v1.3M501.7 197.4v1.3M505.17 197.4v1.3M508.64 197.4v1.3M510.6 197.4v1.3M513.95 197.4v1.3M517.3 197.4v1.3M520.65 197.4v1.3M523.99 197.4v1.3M527.34 197.4v1.3M530.69 197.4v1.3M534.04 197.4v1.3M536.6 197.4v1.3M539.93 197.4v1.3M543.27 197.4v1.3" stroke="#555350" stroke-width="0.8"/>
<rect x="29.9" y="177.4" width="39.9" height="2.4" fill="#eeeeee"/>
<rect x="71" y="177.4" width="38.8" height="2.4" fill="#eeeeee"/>
<rect x="111" y="177.4" width="31.4" height="2.4" fill="#eeeeee"/>
<rect x="143.6" y="177.4" width="30.3" height="2.4" fill="#eeeeee"/>
<rect x="175.1" y="177.4" width="28.6" height="2.4" fill="#eeeeee"/>
<rect x="204.9" y="177.4" width="27.6" height="2.4" fill="#eeeeee"/>
<rect x="233.7" y="177.4" width="25.2" height="2.4" fill="#eeeeee"/>
<rect x="260.1" y="177.4" width="23.3" height="2.4" fill="#eeeeee"/>
<rect x="284.6" y="177.4" width="22.2" height="2.4" fill="#eeeeee"/>
<rect x="308" y="177.4" width="21.7" height="2.4" fill="#eeeeee"/>
<rect x="330.9" y="177.4" width="20.8" height="2.4" fill="#eeeeee"/>
<rect x="352.9" y="177.4" width="21.2" height="2.4" fill="#eeeeee"/>
<rect x="375.3" y="177.4" width="18.8" height="2.4" fill="#eeeeee"/>
<rect x="395.3" y="177.4" width="16.2" height="2.4" fill="#eeeeee"/>
<rect x="412.7" y="177.4" width="16.3" height="2.4" fill="#eeeeee"/>
<rect x="430.2" y="177.4" width="14.1" height="2.4" fill="#eeeeee"/>
<rect x="445.5" y="177.4" width="12.6" height="2.4" fill="#eeeeee"/>
<rect x="459.3" y="177.4" width="12.2" height="2.4" fill="#eeeeee"/>
<rect x="472.7" y="177.4" width="9" height="2.4" fill="#eeeeee"/>
<rect x="482.9" y="177.4" width="9.8" height="2.4" fill="#eeeeee"/>
<rect x="493.9" y="177.4" width="7.2" height="2.4" fill="#eeeeee"/>
<rect x="502.3" y="177.4" width="7.7" height="2.4" fill="#eeeeee"/>
<rect x="511.2" y="177.4" width="24.8" height="2.4" fill="#eeeeee"/>
<rect x="537.2" y="177.4" width="8.7" height="2.4" fill="#eeeeee"/>
<path d="M32.75 177.4h1.23v2.4h-1.23zM42 177.4h1.2v2.4h-1.2zM58.14 177.4h1.55v2.4h-1.55zM75.14 177.4h1.48v2.4h-1.48zM84.6 177.4h1.2v2.4h-1.2zM98.25 177.4h1.2v2.4h-1.2zM145.56 177.4h1.2v2.4h-1.2zM155.63 177.4h1.39v2.4h-1.39zM177.4 177.4h1.2v2.4h-1.2zM198.86 177.4h1.2v2.4h-1.2zM226.07 177.4h1.57v2.4h-1.57zM230.27 177.4h1.68v2.4h-1.68zM252.97 177.4h1.21v2.4h-1.21zM274.47 177.4h1.29v2.4h-1.29zM286.8 177.4h1.54v2.4h-1.54zM299.06 177.4h1.46v2.4h-1.46zM304.19 177.4h1.21v2.4h-1.21zM320.14 177.4h1.35v2.4h-1.35zM329.08 177.4h1.2v2.4h-1.2zM351.37 177.4h1.2v2.4h-1.2zM355.46 177.4h1.2v2.4h-1.2zM373.63 177.4h1.2v2.4h-1.2zM387.44 177.4h1.34v2.4h-1.34zM392.85 177.4h1.25v2.4h-1.25zM399.88 177.4h1.2v2.4h-1.2zM464.57 177.4h1.24v2.4h-1.24zM489.12 177.4h1.24v2.4h-1.24zM499.29 177.4h1.2v2.4h-1.2zM507.55 177.4h1.2v2.4h-1.2zM519.01 177.4h1.49v2.4h-1.49zM528.24 177.4h1.4v2.4h-1.4zM531.44 177.4h1.34v2.4h-1.34z" fill="#5c5c5c"/>
<path d="M37.15 177.4h1.57v2.4h-1.57zM44.99 177.4h1.37v2.4h-1.37zM66.27 177.4h1.44v2.4h-1.44zM80.19 177.4h1.2v2.4h-1.2zM93.79 177.4h1.2v2.4h-1.2zM105.52 177.4h1.2v2.4h-1.2zM119.67 177.4h1.2v2.4h-1.2zM129.79 177.4h1.2v2.4h-1.2zM137.98 177.4h1.2v2.4h-1.2zM148.99 177.4h1.2v2.4h-1.2zM165.91 177.4h1.45v2.4h-1.45zM186.93 177.4h1.2v2.4h-1.2zM195.48 177.4h1.2v2.4h-1.2zM237.49 177.4h1.39v2.4h-1.39zM247.53 177.4h1.48v2.4h-1.48zM264.14 177.4h1.27v2.4h-1.27zM317.21 177.4h1.2v2.4h-1.2zM324.81 177.4h1.42v2.4h-1.42zM343.31 177.4h1.2v2.4h-1.2zM346.56 177.4h1.47v2.4h-1.47zM360.75 177.4h1.2v2.4h-1.2zM363.88 177.4h1.2v2.4h-1.2zM382.22 177.4h1.2v2.4h-1.2zM418.83 177.4h1.7v2.4h-1.7zM423.66 177.4h1.52v2.4h-1.52zM428.18 177.4h1.2v2.4h-1.2zM433.41 177.4h1.2v2.4h-1.2zM438.57 177.4h1.69v2.4h-1.69zM442.61 177.4h1.2v2.4h-1.2zM452.36 177.4h1.28v2.4h-1.28zM496.59 177.4h1.8v2.4h-1.8z" fill="#202020"/>
<path d="M49.67 177.4h1.2v2.4h-1.2zM85.65 177.4h1.2v2.4h-1.2zM125.19 177.4h1.2v2.4h-1.2zM151.35 177.4h1.2v2.4h-1.2zM182.51 177.4h1.2v2.4h-1.2zM214.5 177.4h1.2v2.4h-1.2zM242.95 177.4h1.2v2.4h-1.2zM267.12 177.4h1.2v2.4h-1.2zM292.07 177.4h1.2v2.4h-1.2zM314.2 177.4h1.2v2.4h-1.2zM338.94 177.4h1.2v2.4h-1.2zM358.33 177.4h1.2v2.4h-1.2zM377.98 177.4h1.2v2.4h-1.2zM397.73 177.4h1.2v2.4h-1.2zM415.48 177.4h1.2v2.4h-1.2zM435.67 177.4h1.2v2.4h-1.2zM448.99 177.4h1.2v2.4h-1.2zM461.75 177.4h1.2v2.4h-1.2zM476.43 177.4h1.2v2.4h-1.2zM486.87 177.4h1.2v2.4h-1.2zM495.65 177.4h1.2v2.4h-1.2zM504.28 177.4h1.2v2.4h-1.2zM520.64 177.4h1.2v2.4h-1.2zM538.81 177.4h1.2v2.4h-1.2z" fill="#e42a2a"/>
<path d="M53.41 177.4h1.2v2.4h-1.2zM62.5 177.4h1.3v2.4h-1.3zM114.37 177.4h1.22v2.4h-1.22zM134.89 177.4h1.2v2.4h-1.2zM160.92 177.4h1.48v2.4h-1.48zM182.32 177.4h1.2v2.4h-1.2zM190.91 177.4h1.2v2.4h-1.2zM202.81 177.4h1.2v2.4h-1.2zM220.99 177.4h1.52v2.4h-1.52zM269.96 177.4h1.2v2.4h-1.2zM279.68 177.4h1.27v2.4h-1.27zM295.18 177.4h1.2v2.4h-1.2zM310.68 177.4h1.45v2.4h-1.45zM333.14 177.4h1.51v2.4h-1.51zM336.61 177.4h1.35v2.4h-1.35zM368.32 177.4h1.23v2.4h-1.23zM410.12 177.4h1.38v2.4h-1.38zM477.04 177.4h1.2v2.4h-1.2zM484.14 177.4h1.2v2.4h-1.2zM505.9 177.4h1.2v2.4h-1.2zM513.48 177.4h1.65v2.4h-1.65zM524.87 177.4h1.32v2.4h-1.32z" fill="#969696"/>
<path d="M89.91 177.4h1.2v2.4h-1.2zM101.92 177.4h1.52v2.4h-1.52zM122.89 177.4h1.73v2.4h-1.73zM141.31 177.4h1.2v2.4h-1.2zM171.2 177.4h1.2v2.4h-1.2zM208.26 177.4h1.38v2.4h-1.38zM212.56 177.4h1.48v2.4h-1.48zM217.92 177.4h1.2v2.4h-1.2zM241.52 177.4h1.37v2.4h-1.37zM257.21 177.4h1.2v2.4h-1.2zM403.58 177.4h1.2v2.4h-1.2zM406.93 177.4h1.2v2.4h-1.2zM448.62 177.4h1.2v2.4h-1.2zM455.64 177.4h1.42v2.4h-1.42zM468.55 177.4h1.27v2.4h-1.27zM472.7 177.4h1.52v2.4h-1.52zM479.55 177.4h1.2v2.4h-1.2zM491.46 177.4h1.2v2.4h-1.2zM537.2 177.4h1.61v2.4h-1.61zM540.42 177.4h1.2v2.4h-1.2z" fill="#c4c4c4"/>
<path d="M375.3 177.4h2.68v2.4h-2.68zM395.3 177.4h2.43v2.4h-2.43zM412.7 177.4h2.78v2.4h-2.78zM493.9 177.4h1.75v2.4h-1.75zM502.3 177.4h1.98v2.4h-1.98z" fill="#c4cada"/>
<g font-size="3.6" fill="#2a2a2a">
<text x="30.5" y="196.4" transform="rotate(-35 30.5 196.4)">0</text>
<text x="45.29" y="196" transform="rotate(-35 45.29 196)" text-anchor="start">100.0 M</text>
<text x="61.78" y="196" transform="rotate(-35 61.78 196)" text-anchor="start">200.0 M</text>
<text x="71.6" y="196.4" transform="rotate(-35 71.6 196.4)">0</text>
<text x="86.35" y="196" transform="rotate(-35 86.35 196)" text-anchor="start">100.0 M</text>
<text x="102.79" y="196" transform="rotate(-35 102.79 196)" text-anchor="start">200.0 M</text>
<text x="111.6" y="196.4" transform="rotate(-35 111.6 196.4)">0</text>
<text x="126.36" y="196" transform="rotate(-35 126.36 196)" text-anchor="start">100.0 M</text>
<text x="144.2" y="196.4" transform="rotate(-35 144.2 196.4)">0</text>
<text x="158.98" y="196" transform="rotate(-35 158.98 196)" text-anchor="start">100.0 M</text>
<text x="175.7" y="196.4" transform="rotate(-35 175.7 196.4)">0</text>
<text x="190.47" y="196" transform="rotate(-35 190.47 196)" text-anchor="start">100.0 M</text>
<text x="205.5" y="196.4" transform="rotate(-35 205.5 196.4)">0</text>
<text x="220.63" y="196" transform="rotate(-35 220.63 196)" text-anchor="start">100.0 M</text>
<text x="234.3" y="196.4" transform="rotate(-35 234.3 196.4)">0</text>
<text x="249.19" y="196" transform="rotate(-35 249.19 196)" text-anchor="start">100.0 M</text>
<text x="260.7" y="196.4" transform="rotate(-35 260.7 196.4)">0</text>
<text x="275.73" y="196" transform="rotate(-35 275.73 196)" text-anchor="start">100.0 M</text>
<text x="285.2" y="196.4" transform="rotate(-35 285.2 196.4)">0</text>
<text x="300.07" y="196" transform="rotate(-35 300.07 196)" text-anchor="start">100.0 M</text>
<text x="308.6" y="196.4" transform="rotate(-35 308.6 196.4)">0</text>
<text x="323.8" y="196" transform="rotate(-35 323.8 196)" text-anchor="start">100.0 M</text>
<text x="331.5" y="196.4" transform="rotate(-35 331.5 196.4)">0</text>
<text x="346.1" y="196" transform="rotate(-35 346.1 196)" text-anchor="start">100.0 M</text>
<text x="353.5" y="196.4" transform="rotate(-35 353.5 196.4)">0</text>
<text x="368.53" y="196" transform="rotate(-35 368.53 196)" text-anchor="start">100.0 M</text>
<text x="375.9" y="196.4" transform="rotate(-35 375.9 196.4)">0</text>
<text x="391.56" y="196" transform="rotate(-35 391.56 196)" text-anchor="start">100.0 M</text>
<text x="395.9" y="196.4" transform="rotate(-35 395.9 196.4)">0</text>
<text x="413.3" y="196.4" transform="rotate(-35 413.3 196.4)">0</text>
<text x="430.8" y="196.4" transform="rotate(-35 430.8 196.4)">0</text>
<text x="446.1" y="196.4" transform="rotate(-35 446.1 196.4)">0</text>
<text x="459.9" y="196.4" transform="rotate(-35 459.9 196.4)">0</text>
<text x="473.3" y="196.4" transform="rotate(-35 473.3 196.4)">0</text>
<text x="483.5" y="196.4" transform="rotate(-35 483.5 196.4)">0</text>
<text x="494.5" y="196.4" transform="rotate(-35 494.5 196.4)">0</text>
<text x="502.9" y="196.4" transform="rotate(-35 502.9 196.4)">0</text>
<text x="511.8" y="196.4" transform="rotate(-35 511.8 196.4)">0</text>
<text x="526.84" y="196" transform="rotate(-35 526.84 196)" text-anchor="start">100.0 M</text>
<text x="537.8" y="196.4" transform="rotate(-35 537.8 196.4)">0</text>
</g>
<g font-size="4.2" fill="#333" text-anchor="middle">
<text x="17.9" y="340.6">0</text>
<text x="17.9" y="323.05">1</text>
<text x="17.9" y="305.5">2</text>
<text x="17.9" y="287.95">3</text>
<text x="17.9" y="270.4">4</text>
<text x="17.9" y="252.85">5</text>
<text x="17.9" y="235.3">6</text>
<text x="17.9" y="217.75">7</text>
<text x="17.9" y="200.2">8</text>
</g>
<text x="10.4" y="270" font-size="5.4" fill="#2a2a2a" text-anchor="middle" textLength="29" lengthAdjust="spacingAndGlyphs" transform="rotate(-90 10.4 270)">Copy number</text>
<text x="5" y="347" font-size="3.9" fill="#333">Aneuploidy</text>
<g font-size="4.2" fill="#333" text-anchor="middle">
<text x="49.85" y="351.5">1</text>
<text x="90.4" y="351.5">2</text>
<text x="126.7" y="351.5">3</text>
<text x="158.75" y="351.5">4</text>
<text x="189.4" y="351.5">5</text>
<text x="218.7" y="351.5">6</text>
<text x="246.3" y="351.5">7</text>
<text x="271.75" y="351.5">8</text>
<text x="295.7" y="351.5">9</text>
<text x="318.85" y="351.5">10</text>
<text x="341.3" y="351.5">11</text>
<text x="363.5" y="351.5">12</text>
<text x="384.7" y="351.5">13</text>
<text x="403.4" y="351.5">14</text>
<text x="420.85" y="351.5">15</text>
<text x="437.25" y="351.5">16</text>
<text x="451.8" y="351.5">17</text>
<text x="465.4" y="351.5">18</text>
<text x="477.2" y="351.5">19</text>
<text x="487.8" y="351.5">20</text>
<text x="497.5" y="351.5">21</text>
<text x="506.15" y="351.5">22</text>
<text x="523.6" y="351.5">X</text>
<text x="541.55" y="351.5">Y</text>
</g>
</g>
<line x1="135" y1="104.6" x2="297.1" y2="21.1" stroke="#1a1a1a" stroke-width="1.2" stroke-linecap="round"/>
<line x1="142.3" y1="129.2" x2="297.5" y2="150.7" stroke="#1a1a1a" stroke-width="1.2" stroke-linecap="round"/>
</svg>
</body></html>
